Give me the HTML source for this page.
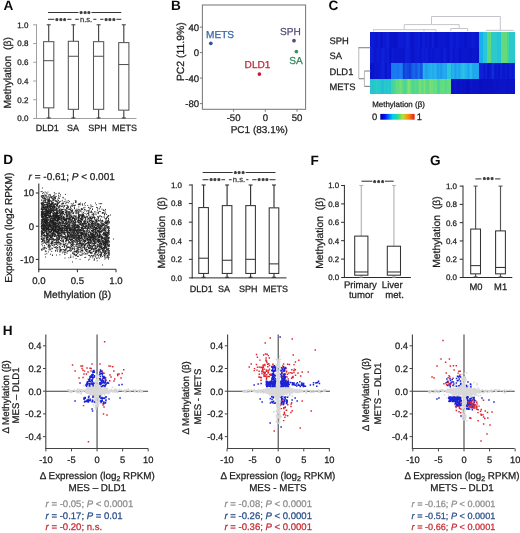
<!DOCTYPE html>
<html><head><meta charset="utf-8"><title>Figure</title>
<style>html,body{margin:0;padding:0;background:#fff;overflow:hidden;} svg{display:block;} text{font-family:"Liberation Sans", Arial, sans-serif;text-rendering:geometricPrecision;}</style>
</head><body>
<svg width="520" height="533" viewBox="0 0 520 533">
<rect width="520" height="533" fill="#fff"/>
<text x="3.60" y="9.60" font-size="13.6" fill="#0a0a0a" font-weight="bold">A</text>
<line x1="36.50" y1="24.20" x2="36.50" y2="119.00" stroke="#a0a0a0" stroke-width="1"/>
<line x1="36.00" y1="118.50" x2="136.50" y2="118.50" stroke="#a0a0a0" stroke-width="1"/>
<line x1="33.20" y1="118.50" x2="36.50" y2="118.50" stroke="#a0a0a0" stroke-width="1"/>
<text x="28.40" y="121.34" font-size="8.0" text-anchor="end" fill="#1c1c1c" stroke="#1c1c1c" stroke-width="0.25">0.0</text>
<line x1="33.20" y1="99.76" x2="36.50" y2="99.76" stroke="#a0a0a0" stroke-width="1"/>
<text x="28.40" y="102.60" font-size="8.0" text-anchor="end" fill="#1c1c1c" stroke="#1c1c1c" stroke-width="0.25">0.2</text>
<line x1="33.20" y1="81.02" x2="36.50" y2="81.02" stroke="#a0a0a0" stroke-width="1"/>
<text x="28.40" y="83.86" font-size="8.0" text-anchor="end" fill="#1c1c1c" stroke="#1c1c1c" stroke-width="0.25">0.4</text>
<line x1="33.20" y1="62.28" x2="36.50" y2="62.28" stroke="#a0a0a0" stroke-width="1"/>
<text x="28.40" y="65.12" font-size="8.0" text-anchor="end" fill="#1c1c1c" stroke="#1c1c1c" stroke-width="0.25">0.6</text>
<line x1="33.20" y1="43.54" x2="36.50" y2="43.54" stroke="#a0a0a0" stroke-width="1"/>
<text x="28.40" y="46.38" font-size="8.0" text-anchor="end" fill="#1c1c1c" stroke="#1c1c1c" stroke-width="0.25">0.8</text>
<line x1="33.20" y1="24.80" x2="36.50" y2="24.80" stroke="#a0a0a0" stroke-width="1"/>
<text x="28.40" y="27.64" font-size="8.0" text-anchor="end" fill="#1c1c1c" stroke="#1c1c1c" stroke-width="0.25">1.0</text>
<line x1="48.70" y1="24.80" x2="48.70" y2="41.67" stroke="#444" stroke-width="1.15"/>
<line x1="48.70" y1="107.82" x2="48.70" y2="118.50" stroke="#444" stroke-width="1.15"/>
<line x1="46.70" y1="24.80" x2="50.70" y2="24.80" stroke="#444" stroke-width="1.1"/>
<line x1="46.70" y1="117.90" x2="50.70" y2="117.90" stroke="#444" stroke-width="1.1"/>
<rect x="43.60" y="41.67" width="10.20" height="66.15" fill="#fff" stroke="#555" stroke-width="1.05"/>
<line x1="43.60" y1="60.69" x2="53.80" y2="60.69" stroke="#555" stroke-width="1.05"/>
<line x1="73.40" y1="24.80" x2="73.40" y2="41.29" stroke="#444" stroke-width="1.15"/>
<line x1="73.40" y1="109.32" x2="73.40" y2="118.50" stroke="#444" stroke-width="1.15"/>
<line x1="71.40" y1="24.80" x2="75.40" y2="24.80" stroke="#444" stroke-width="1.1"/>
<line x1="71.40" y1="117.90" x2="75.40" y2="117.90" stroke="#444" stroke-width="1.1"/>
<rect x="68.30" y="41.29" width="10.20" height="68.03" fill="#fff" stroke="#555" stroke-width="1.05"/>
<line x1="68.30" y1="56.28" x2="78.50" y2="56.28" stroke="#555" stroke-width="1.05"/>
<line x1="98.60" y1="24.80" x2="98.60" y2="41.67" stroke="#444" stroke-width="1.15"/>
<line x1="98.60" y1="109.32" x2="98.60" y2="118.50" stroke="#444" stroke-width="1.15"/>
<line x1="96.60" y1="24.80" x2="100.60" y2="24.80" stroke="#444" stroke-width="1.1"/>
<line x1="96.60" y1="117.90" x2="100.60" y2="117.90" stroke="#444" stroke-width="1.1"/>
<rect x="93.50" y="41.67" width="10.20" height="67.65" fill="#fff" stroke="#555" stroke-width="1.05"/>
<line x1="93.50" y1="56.28" x2="103.70" y2="56.28" stroke="#555" stroke-width="1.05"/>
<line x1="123.80" y1="24.80" x2="123.80" y2="42.60" stroke="#444" stroke-width="1.15"/>
<line x1="123.80" y1="110.16" x2="123.80" y2="118.50" stroke="#444" stroke-width="1.15"/>
<line x1="121.80" y1="24.80" x2="125.80" y2="24.80" stroke="#444" stroke-width="1.1"/>
<line x1="121.80" y1="117.90" x2="125.80" y2="117.90" stroke="#444" stroke-width="1.1"/>
<rect x="118.70" y="42.60" width="10.20" height="67.56" fill="#fff" stroke="#555" stroke-width="1.05"/>
<line x1="118.70" y1="64.53" x2="128.90" y2="64.53" stroke="#555" stroke-width="1.05"/>
<text x="47.30" y="131.30" font-size="9.0" text-anchor="middle" fill="#1c1c1c" stroke="#1c1c1c" stroke-width="0.25">DLD1</text>
<text x="72.90" y="131.30" font-size="9.0" text-anchor="middle" fill="#1c1c1c" stroke="#1c1c1c" stroke-width="0.25">SA</text>
<text x="97.40" y="131.30" font-size="9.0" text-anchor="middle" fill="#1c1c1c" stroke="#1c1c1c" stroke-width="0.25">SPH</text>
<text x="124.60" y="131.30" font-size="9.0" text-anchor="middle" fill="#1c1c1c" stroke="#1c1c1c" stroke-width="0.25">METS</text>
<text x="11.00" y="72.80" font-size="10.35" text-anchor="middle" fill="#1c1c1c" stroke="#1c1c1c" stroke-width="0.25" transform="rotate(-90 11.00 72.80)">Methylation&#160;&#160;(β)</text>
<line x1="48.00" y1="12.50" x2="78.50" y2="12.50" stroke="#333" stroke-width="1.05"/>
<line x1="91.50" y1="12.50" x2="121.30" y2="12.50" stroke="#333" stroke-width="1.05"/>
<text x="85.60" y="15.85" font-size="7.0" text-anchor="middle" fill="#333" font-weight="bold" letter-spacing="1.2" stroke="#333" stroke-width="0.5">***</text>
<line x1="48.00" y1="19.30" x2="54.30" y2="19.30" stroke="#333" stroke-width="1.05"/>
<line x1="67.30" y1="19.30" x2="71.40" y2="19.30" stroke="#333" stroke-width="1.05"/>
<text x="61.40" y="22.65" font-size="7.0" text-anchor="middle" fill="#333" font-weight="bold" letter-spacing="1.2" stroke="#333" stroke-width="0.5">***</text>
<line x1="75.20" y1="19.30" x2="78.80" y2="19.30" stroke="#333" stroke-width="1.05"/>
<line x1="93.40" y1="19.30" x2="96.40" y2="19.30" stroke="#333" stroke-width="1.05"/>
<text x="86.10" y="21.80" font-size="7.6" text-anchor="middle" fill="#333" stroke="#333" stroke-width="0.25">n.s.</text>
<line x1="100.20" y1="19.30" x2="103.45" y2="19.30" stroke="#333" stroke-width="1.05"/>
<line x1="116.45" y1="19.30" x2="121.30" y2="19.30" stroke="#333" stroke-width="1.05"/>
<text x="110.55" y="22.65" font-size="7.0" text-anchor="middle" fill="#333" font-weight="bold" letter-spacing="1.2" stroke="#333" stroke-width="0.5">***</text>
<text x="171.00" y="9.90" font-size="13.6" fill="#0a0a0a" font-weight="bold">B</text>
<rect x="202.40" y="5.00" width="103.20" height="104.30" fill="none" stroke="#7a7a7a" stroke-width="1.05"/>
<line x1="199.90" y1="27.10" x2="202.40" y2="27.10" stroke="#7a7a7a" stroke-width="1"/>
<text x="199.20" y="30.50" font-size="9.6" text-anchor="end" fill="#1c1c1c" stroke="#1c1c1c" stroke-width="0.25">40</text>
<line x1="199.90" y1="52.60" x2="202.40" y2="52.60" stroke="#7a7a7a" stroke-width="1"/>
<text x="199.20" y="56.00" font-size="9.6" text-anchor="end" fill="#1c1c1c" stroke="#1c1c1c" stroke-width="0.25">0</text>
<line x1="199.90" y1="78.10" x2="202.40" y2="78.10" stroke="#7a7a7a" stroke-width="1"/>
<text x="199.20" y="81.50" font-size="9.6" text-anchor="end" fill="#1c1c1c" stroke="#1c1c1c" stroke-width="0.25">-40</text>
<line x1="199.90" y1="103.60" x2="202.40" y2="103.60" stroke="#7a7a7a" stroke-width="1"/>
<text x="199.20" y="107.00" font-size="9.6" text-anchor="end" fill="#1c1c1c" stroke="#1c1c1c" stroke-width="0.25">-80</text>
<line x1="233.60" y1="109.20" x2="233.60" y2="111.70" stroke="#7a7a7a" stroke-width="1"/>
<text x="233.60" y="120.70" font-size="9.6" text-anchor="middle" fill="#1c1c1c" stroke="#1c1c1c" stroke-width="0.25">-50</text>
<line x1="265.30" y1="109.20" x2="265.30" y2="111.70" stroke="#7a7a7a" stroke-width="1"/>
<text x="265.30" y="120.70" font-size="9.6" text-anchor="middle" fill="#1c1c1c" stroke="#1c1c1c" stroke-width="0.25">0</text>
<line x1="297.00" y1="109.20" x2="297.00" y2="111.70" stroke="#7a7a7a" stroke-width="1"/>
<text x="297.00" y="120.70" font-size="9.6" text-anchor="middle" fill="#1c1c1c" stroke="#1c1c1c" stroke-width="0.25">50</text>
<text x="259.30" y="132.70" font-size="10.0" text-anchor="middle" fill="#1c1c1c" stroke="#1c1c1c" stroke-width="0.25">PC1 (83.1%)</text>
<text x="183.60" y="51.70" font-size="10.4" text-anchor="middle" fill="#1c1c1c" stroke="#1c1c1c" stroke-width="0.25" transform="rotate(-90 183.60 51.70)">PC2 (11.9%)</text>
<circle cx="210.8" cy="43.3" r="1.85" fill="#2d5898"/>
<circle cx="294.0" cy="40.7" r="1.85" fill="#5c4580"/>
<circle cx="296.4" cy="51.6" r="1.85" fill="#3a9458"/>
<circle cx="259.4" cy="74.1" r="1.85" fill="#d01430"/>
<text x="206.00" y="37.80" font-size="10.1" fill="#3866a6" stroke="#3866a6" stroke-width="0.25">METS</text>
<text x="280.00" y="35.30" font-size="10.1" fill="#574c78" stroke="#574c78" stroke-width="0.25">SPH</text>
<text x="289.20" y="63.80" font-size="10.1" fill="#2f8656" stroke="#2f8656" stroke-width="0.25">SA</text>
<text x="244.60" y="68.10" font-size="10.1" fill="#bc2838" stroke="#bc2838" stroke-width="0.25">DLD1</text>
<text x="328.60" y="9.70" font-size="13.6" fill="#0a0a0a" font-weight="bold">C</text>
<g shape-rendering="crispEdges"><rect x="370.4" y="31.90" width="1.3" height="15.95" fill="#0b18cf"/><rect x="371.4" y="31.90" width="1.3" height="15.95" fill="#0c1bd3"/><rect x="372.4" y="31.90" width="1.3" height="15.95" fill="#0d1dd5"/><rect x="373.4" y="31.90" width="1.3" height="15.95" fill="#0c1ad2"/><rect x="374.4" y="31.90" width="1.3" height="15.95" fill="#0b19d0"/><rect x="375.4" y="31.90" width="1.3" height="15.95" fill="#0b18cf"/><rect x="376.4" y="31.90" width="1.3" height="15.95" fill="#0a16cc"/><rect x="377.4" y="31.90" width="1.3" height="15.95" fill="#0b18cf"/><rect x="378.4" y="31.90" width="1.3" height="15.95" fill="#0c1bd3"/><rect x="379.4" y="31.90" width="1.3" height="15.95" fill="#0c1ad2"/><rect x="380.4" y="31.90" width="1.3" height="15.95" fill="#0a15cb"/><rect x="381.4" y="31.90" width="1.3" height="15.95" fill="#0913c8"/><rect x="382.4" y="31.90" width="1.3" height="15.95" fill="#0a15cb"/><rect x="383.4" y="31.90" width="1.3" height="15.95" fill="#0c1ad2"/><rect x="384.4" y="31.90" width="1.3" height="15.95" fill="#0c1ad1"/><rect x="385.4" y="31.90" width="1.3" height="15.95" fill="#0b17ce"/><rect x="386.4" y="31.90" width="1.3" height="15.95" fill="#0d1dd6"/><rect x="387.4" y="31.90" width="1.3" height="15.95" fill="#0f21da"/><rect x="388.4" y="31.90" width="1.3" height="15.95" fill="#0d1dd5"/><rect x="389.4" y="31.90" width="1.3" height="15.95" fill="#0b19d0"/><rect x="390.4" y="31.90" width="1.3" height="15.95" fill="#0914c9"/><rect x="391.4" y="31.90" width="1.3" height="15.95" fill="#0813c7"/><rect x="392.4" y="31.90" width="1.3" height="15.95" fill="#0915ca"/><rect x="393.4" y="31.90" width="1.3" height="15.95" fill="#0913c8"/><rect x="394.4" y="31.90" width="2.3" height="15.95" fill="#0813c7"/><rect x="396.4" y="31.90" width="1.3" height="15.95" fill="#0913c8"/><rect x="397.4" y="31.90" width="1.3" height="15.95" fill="#0a16cc"/><rect x="398.4" y="31.90" width="1.3" height="15.95" fill="#0c19d1"/><rect x="399.4" y="31.90" width="1.3" height="15.95" fill="#0d1cd4"/><rect x="400.4" y="31.90" width="1.3" height="15.95" fill="#0c1bd3"/><rect x="401.4" y="31.90" width="3.3" height="15.95" fill="#0c1ad2"/><rect x="404.4" y="31.90" width="1.3" height="15.95" fill="#0b18cf"/><rect x="405.4" y="31.90" width="1.3" height="15.95" fill="#0b19d0"/><rect x="406.4" y="31.90" width="1.3" height="15.95" fill="#0e1fd8"/><rect x="407.4" y="31.90" width="1.3" height="15.95" fill="#0f22dc"/><rect x="408.4" y="31.90" width="1.3" height="15.95" fill="#0e20d9"/><rect x="409.4" y="31.90" width="1.3" height="15.95" fill="#0c1bd3"/><rect x="410.4" y="31.90" width="1.3" height="15.95" fill="#0a17cd"/><rect x="411.4" y="31.90" width="1.3" height="15.95" fill="#0914ca"/><rect x="412.4" y="31.90" width="1.3" height="15.95" fill="#0914c8"/><rect x="413.4" y="31.90" width="1.3" height="15.95" fill="#0915ca"/><rect x="414.4" y="31.90" width="1.3" height="15.95" fill="#0b18d0"/><rect x="415.4" y="31.90" width="1.3" height="15.95" fill="#0c1ad2"/><rect x="416.4" y="31.90" width="2.3" height="15.95" fill="#0c1bd3"/><rect x="418.4" y="31.90" width="1.3" height="15.95" fill="#0e1ed7"/><rect x="419.4" y="31.90" width="1.3" height="15.95" fill="#0d1cd4"/><rect x="420.4" y="31.90" width="1.3" height="15.95" fill="#0914ca"/><rect x="421.4" y="31.90" width="1.3" height="15.95" fill="#0a16cb"/><rect x="422.4" y="31.90" width="1.3" height="15.95" fill="#0c1bd3"/><rect x="423.4" y="31.90" width="2.3" height="15.95" fill="#0d1dd5"/><rect x="425.4" y="31.90" width="1.3" height="15.95" fill="#0b18cf"/><rect x="426.4" y="31.90" width="1.3" height="15.95" fill="#0915ca"/><rect x="427.4" y="31.90" width="1.3" height="15.95" fill="#0b19d0"/><rect x="428.4" y="31.90" width="1.3" height="15.95" fill="#0c1bd3"/><rect x="429.4" y="31.90" width="1.3" height="15.95" fill="#0a16cc"/><rect x="430.4" y="31.90" width="1.3" height="15.95" fill="#0913c8"/><rect x="431.4" y="31.90" width="1.3" height="15.95" fill="#0b17ce"/><rect x="432.4" y="31.90" width="1.3" height="15.95" fill="#0d1ed6"/><rect x="433.4" y="31.90" width="1.3" height="15.95" fill="#0d1bd4"/><rect x="434.4" y="31.90" width="1.3" height="15.95" fill="#0a15cb"/><rect x="435.4" y="31.90" width="1.3" height="15.95" fill="#0813c7"/><rect x="436.4" y="31.90" width="1.3" height="15.95" fill="#0812c6"/><rect x="437.4" y="31.90" width="1.3" height="15.95" fill="#0914c9"/><rect x="438.4" y="31.90" width="1.3" height="15.95" fill="#0b18cf"/><rect x="439.4" y="31.90" width="2.3" height="15.95" fill="#0b17ce"/><rect x="441.4" y="31.90" width="2.3" height="15.95" fill="#0a17cd"/><rect x="443.4" y="31.90" width="1.3" height="15.95" fill="#0b18ce"/><rect x="444.4" y="31.90" width="1.3" height="15.95" fill="#0a17cd"/><rect x="445.4" y="31.90" width="1.3" height="15.95" fill="#0a16cd"/><rect x="446.4" y="31.90" width="1.3" height="15.95" fill="#0a15cb"/><rect x="447.4" y="31.90" width="2.3" height="15.95" fill="#0915ca"/><rect x="449.4" y="31.90" width="1.3" height="15.95" fill="#0b17ce"/><rect x="450.4" y="31.90" width="1.3" height="15.95" fill="#0d1ed6"/><rect x="451.4" y="31.90" width="1.3" height="15.95" fill="#0d1dd5"/><rect x="452.4" y="31.90" width="2.3" height="15.95" fill="#0c1ad2"/><rect x="454.4" y="31.90" width="1.3" height="15.95" fill="#0b17ce"/><rect x="455.4" y="31.90" width="1.3" height="15.95" fill="#0b18cf"/><rect x="456.4" y="31.90" width="1.3" height="15.95" fill="#0d1cd5"/><rect x="457.4" y="31.90" width="1.3" height="15.95" fill="#0c1ad1"/><rect x="458.4" y="31.90" width="1.3" height="15.95" fill="#0b18cf"/><rect x="459.4" y="31.90" width="1.3" height="15.95" fill="#0c1ad2"/><rect x="460.4" y="31.90" width="1.3" height="15.95" fill="#0b17ce"/><rect x="461.4" y="31.90" width="1.3" height="15.95" fill="#0a16cc"/><rect x="462.4" y="31.90" width="1.3" height="15.95" fill="#0c19d1"/><rect x="463.4" y="31.90" width="1.3" height="15.95" fill="#0b17ce"/><rect x="464.4" y="31.90" width="1.3" height="15.95" fill="#0914c9"/><rect x="465.4" y="31.90" width="1.3" height="15.95" fill="#0812c6"/><rect x="466.4" y="31.90" width="1.3" height="15.95" fill="#0913c8"/><rect x="467.4" y="31.90" width="1.3" height="15.95" fill="#0a16cc"/><rect x="468.4" y="31.90" width="1.3" height="15.95" fill="#0b17ce"/><rect x="469.4" y="31.90" width="1.3" height="15.95" fill="#0b18cf"/><rect x="470.4" y="31.90" width="1.3" height="15.95" fill="#0b18ce"/><rect x="471.4" y="31.90" width="1.3" height="15.95" fill="#0c1ad1"/><rect x="472.4" y="31.90" width="1.3" height="15.95" fill="#0d1dd5"/><rect x="473.4" y="31.90" width="3.3" height="15.95" fill="#0c1bd3"/><rect x="476.4" y="31.90" width="2.3" height="15.95" fill="#0a16cc"/><rect x="478.4" y="31.90" width="1.3" height="15.95" fill="#0d1cd5"/><rect x="479.4" y="31.90" width="4.3" height="15.95" fill="#18b0ea"/><rect x="483.4" y="31.90" width="1.3" height="15.95" fill="#27c7d9"/><rect x="484.4" y="31.90" width="1.3" height="15.95" fill="#27c6d9"/><rect x="485.4" y="31.90" width="2.3" height="15.95" fill="#27c7d9"/><rect x="487.4" y="31.90" width="1.3" height="15.95" fill="#62d77e"/><rect x="488.4" y="31.90" width="1.3" height="15.95" fill="#64d87b"/><rect x="489.4" y="31.90" width="1.3" height="15.95" fill="#66d878"/><rect x="490.4" y="31.90" width="1.3" height="15.95" fill="#65d87a"/><rect x="491.4" y="31.90" width="6.3" height="15.95" fill="#2ccac8"/><rect x="497.4" y="31.90" width="2.3" height="15.95" fill="#24c4da"/><rect x="499.4" y="31.90" width="1.3" height="15.95" fill="#25c4d9"/><rect x="500.4" y="31.90" width="1.3" height="15.95" fill="#24c4da"/><rect x="501.4" y="31.90" width="1.3" height="15.95" fill="#67da78"/><rect x="502.4" y="31.90" width="1.3" height="15.95" fill="#65d97b"/><rect x="503.4" y="31.90" width="1.3" height="15.95" fill="#63d97d"/><rect x="504.4" y="31.90" width="1.3" height="15.95" fill="#64d97c"/><rect x="505.4" y="31.90" width="1.3" height="15.95" fill="#65d97b"/><rect x="506.4" y="31.90" width="1.3" height="15.95" fill="#64d97c"/><rect x="507.4" y="31.90" width="1.3" height="15.95" fill="#40d4a9"/><rect x="508.4" y="31.90" width="1.3" height="15.95" fill="#40d4a8"/><rect x="509.4" y="31.90" width="5.9" height="15.95" fill="#2ac8cc"/><rect x="370.4" y="47.60" width="2.3" height="15.85" fill="#0e20d9"/><rect x="372.4" y="47.60" width="1.3" height="15.85" fill="#0e1ed7"/><rect x="373.4" y="47.60" width="1.3" height="15.85" fill="#0c1bd3"/><rect x="374.4" y="47.60" width="1.3" height="15.85" fill="#0b18cf"/><rect x="375.4" y="47.60" width="1.3" height="15.85" fill="#0b17ce"/><rect x="376.4" y="47.60" width="1.3" height="15.85" fill="#0c1ad2"/><rect x="377.4" y="47.60" width="1.3" height="15.85" fill="#0d1dd6"/><rect x="378.4" y="47.60" width="1.3" height="15.85" fill="#0d1cd5"/><rect x="379.4" y="47.60" width="1.3" height="15.85" fill="#0c19d1"/><rect x="380.4" y="47.60" width="1.3" height="15.85" fill="#0b18cf"/><rect x="381.4" y="47.60" width="1.3" height="15.85" fill="#0d1dd6"/><rect x="382.4" y="47.60" width="1.3" height="15.85" fill="#0f22dc"/><rect x="383.4" y="47.60" width="1.3" height="15.85" fill="#0e20d9"/><rect x="384.4" y="47.60" width="1.3" height="15.85" fill="#0d1cd5"/><rect x="385.4" y="47.60" width="1.3" height="15.85" fill="#0c1ad2"/><rect x="386.4" y="47.60" width="1.3" height="15.85" fill="#0c1ad1"/><rect x="387.4" y="47.60" width="2.3" height="15.85" fill="#0d1dd6"/><rect x="389.4" y="47.60" width="1.3" height="15.85" fill="#0a16cd"/><rect x="390.4" y="47.60" width="1.3" height="15.85" fill="#0913c8"/><rect x="391.4" y="47.60" width="1.3" height="15.85" fill="#0a16cc"/><rect x="392.4" y="47.60" width="1.3" height="15.85" fill="#0c1ad1"/><rect x="393.4" y="47.60" width="1.3" height="15.85" fill="#0c1bd3"/><rect x="394.4" y="47.60" width="1.3" height="15.85" fill="#0b17ce"/><rect x="395.4" y="47.60" width="1.3" height="15.85" fill="#0a15cb"/><rect x="396.4" y="47.60" width="2.3" height="15.85" fill="#0a17cd"/><rect x="398.4" y="47.60" width="1.3" height="15.85" fill="#0b17ce"/><rect x="399.4" y="47.60" width="1.3" height="15.85" fill="#0a16cc"/><rect x="400.4" y="47.60" width="1.3" height="15.85" fill="#0a16cd"/><rect x="401.4" y="47.60" width="1.3" height="15.85" fill="#0b18d0"/><rect x="402.4" y="47.60" width="1.3" height="15.85" fill="#0915ca"/><rect x="403.4" y="47.60" width="1.3" height="15.85" fill="#0913c8"/><rect x="404.4" y="47.60" width="1.3" height="15.85" fill="#0b18cf"/><rect x="405.4" y="47.60" width="1.3" height="15.85" fill="#0d1cd5"/><rect x="406.4" y="47.60" width="2.3" height="15.85" fill="#0e1ed7"/><rect x="408.4" y="47.60" width="1.3" height="15.85" fill="#0d1ed6"/><rect x="409.4" y="47.60" width="1.3" height="15.85" fill="#0d1dd5"/><rect x="410.4" y="47.60" width="1.3" height="15.85" fill="#0c1ad2"/><rect x="411.4" y="47.60" width="1.3" height="15.85" fill="#0a15cb"/><rect x="412.4" y="47.60" width="1.3" height="15.85" fill="#0914c9"/><rect x="413.4" y="47.60" width="1.3" height="15.85" fill="#0a16cc"/><rect x="414.4" y="47.60" width="1.3" height="15.85" fill="#0b17ce"/><rect x="415.4" y="47.60" width="1.3" height="15.85" fill="#0c1ad2"/><rect x="416.4" y="47.60" width="2.3" height="15.85" fill="#0c1bd3"/><rect x="418.4" y="47.60" width="1.3" height="15.85" fill="#0d1cd4"/><rect x="419.4" y="47.60" width="1.3" height="15.85" fill="#0c19d1"/><rect x="420.4" y="47.60" width="1.3" height="15.85" fill="#0a16cc"/><rect x="421.4" y="47.60" width="1.3" height="15.85" fill="#0b18cf"/><rect x="422.4" y="47.60" width="1.3" height="15.85" fill="#0d1dd6"/><rect x="423.4" y="47.60" width="1.3" height="15.85" fill="#0d1cd5"/><rect x="424.4" y="47.60" width="1.3" height="15.85" fill="#0b19d0"/><rect x="425.4" y="47.60" width="1.3" height="15.85" fill="#0d1dd5"/><rect x="426.4" y="47.60" width="1.3" height="15.85" fill="#0e1fd8"/><rect x="427.4" y="47.60" width="1.3" height="15.85" fill="#0c1bd3"/><rect x="428.4" y="47.60" width="1.3" height="15.85" fill="#0b18ce"/><rect x="429.4" y="47.60" width="1.3" height="15.85" fill="#0a16cc"/><rect x="430.4" y="47.60" width="1.3" height="15.85" fill="#0b17ce"/><rect x="431.4" y="47.60" width="1.3" height="15.85" fill="#0b19d0"/><rect x="432.4" y="47.60" width="1.3" height="15.85" fill="#0a17cd"/><rect x="433.4" y="47.60" width="1.3" height="15.85" fill="#0a16cd"/><rect x="434.4" y="47.60" width="2.3" height="15.85" fill="#0c1ad2"/><rect x="436.4" y="47.60" width="1.3" height="15.85" fill="#0b19d0"/><rect x="437.4" y="47.60" width="1.3" height="15.85" fill="#0c1bd3"/><rect x="438.4" y="47.60" width="1.3" height="15.85" fill="#0c1ad2"/><rect x="439.4" y="47.60" width="1.3" height="15.85" fill="#0c19d1"/><rect x="440.4" y="47.60" width="1.3" height="15.85" fill="#0b18cf"/><rect x="441.4" y="47.60" width="1.3" height="15.85" fill="#0a15cb"/><rect x="442.4" y="47.60" width="1.3" height="15.85" fill="#0a16cc"/><rect x="443.4" y="47.60" width="1.3" height="15.85" fill="#0c1ad1"/><rect x="444.4" y="47.60" width="1.3" height="15.85" fill="#0e1fd8"/><rect x="445.4" y="47.60" width="1.3" height="15.85" fill="#0d1ed6"/><rect x="446.4" y="47.60" width="1.3" height="15.85" fill="#0b18cf"/><rect x="447.4" y="47.60" width="1.3" height="15.85" fill="#0a15cb"/><rect x="448.4" y="47.60" width="1.3" height="15.85" fill="#0914ca"/><rect x="449.4" y="47.60" width="1.3" height="15.85" fill="#0b17ce"/><rect x="450.4" y="47.60" width="1.3" height="15.85" fill="#0d1dd6"/><rect x="451.4" y="47.60" width="1.3" height="15.85" fill="#0e1ed7"/><rect x="452.4" y="47.60" width="1.3" height="15.85" fill="#0b19d0"/><rect x="453.4" y="47.60" width="1.3" height="15.85" fill="#0915ca"/><rect x="454.4" y="47.60" width="1.3" height="15.85" fill="#0a15cb"/><rect x="455.4" y="47.60" width="1.3" height="15.85" fill="#0c1ad2"/><rect x="456.4" y="47.60" width="1.3" height="15.85" fill="#0c1bd3"/><rect x="457.4" y="47.60" width="1.3" height="15.85" fill="#0b18cf"/><rect x="458.4" y="47.60" width="1.3" height="15.85" fill="#0a17cd"/><rect x="459.4" y="47.60" width="1.3" height="15.85" fill="#0914c9"/><rect x="460.4" y="47.60" width="1.3" height="15.85" fill="#0812c6"/><rect x="461.4" y="47.60" width="1.3" height="15.85" fill="#0a15cb"/><rect x="462.4" y="47.60" width="1.3" height="15.85" fill="#0b18cf"/><rect x="463.4" y="47.60" width="3.3" height="15.85" fill="#0a17cd"/><rect x="466.4" y="47.60" width="1.3" height="15.85" fill="#0a16cc"/><rect x="467.4" y="47.60" width="1.3" height="15.85" fill="#0a17cd"/><rect x="468.4" y="47.60" width="1.3" height="15.85" fill="#0a16cc"/><rect x="469.4" y="47.60" width="1.3" height="15.85" fill="#0a15cb"/><rect x="470.4" y="47.60" width="1.3" height="15.85" fill="#0915ca"/><rect x="471.4" y="47.60" width="1.3" height="15.85" fill="#0914ca"/><rect x="472.4" y="47.60" width="1.3" height="15.85" fill="#0a17cd"/><rect x="473.4" y="47.60" width="1.3" height="15.85" fill="#0b17ce"/><rect x="474.4" y="47.60" width="1.3" height="15.85" fill="#0a16cd"/><rect x="475.4" y="47.60" width="1.3" height="15.85" fill="#0a17cd"/><rect x="476.4" y="47.60" width="1.3" height="15.85" fill="#0a16cd"/><rect x="477.4" y="47.60" width="1.3" height="15.85" fill="#0914c9"/><rect x="478.4" y="47.60" width="1.3" height="15.85" fill="#0915ca"/><rect x="479.4" y="47.60" width="4.3" height="15.85" fill="#18b0ea"/><rect x="483.4" y="47.60" width="1.3" height="15.85" fill="#27c7d9"/><rect x="484.4" y="47.60" width="3.3" height="15.85" fill="#27c6d9"/><rect x="487.4" y="47.60" width="1.3" height="15.85" fill="#61d780"/><rect x="488.4" y="47.60" width="1.3" height="15.85" fill="#61d77f"/><rect x="489.4" y="47.60" width="2.3" height="15.85" fill="#64d77c"/><rect x="491.4" y="47.60" width="6.3" height="15.85" fill="#2ccac8"/><rect x="497.4" y="47.60" width="1.3" height="15.85" fill="#25c4d9"/><rect x="498.4" y="47.60" width="2.3" height="15.85" fill="#24c4da"/><rect x="500.4" y="47.60" width="1.3" height="15.85" fill="#25c4d9"/><rect x="501.4" y="47.60" width="1.3" height="15.85" fill="#64d97c"/><rect x="502.4" y="47.60" width="1.3" height="15.85" fill="#65d97b"/><rect x="503.4" y="47.60" width="1.3" height="15.85" fill="#66da79"/><rect x="504.4" y="47.60" width="1.3" height="15.85" fill="#66d979"/><rect x="505.4" y="47.60" width="1.3" height="15.85" fill="#66d97a"/><rect x="506.4" y="47.60" width="1.3" height="15.85" fill="#67da77"/><rect x="507.4" y="47.60" width="1.3" height="15.85" fill="#40d4a9"/><rect x="508.4" y="47.60" width="1.3" height="15.85" fill="#3fd3aa"/><rect x="509.4" y="47.60" width="2.3" height="15.85" fill="#2bc8cc"/><rect x="511.4" y="47.60" width="3.9" height="15.85" fill="#2ac8cc"/><rect x="370.4" y="63.20" width="1.3" height="15.55" fill="#0913c8"/><rect x="371.4" y="63.20" width="1.3" height="15.55" fill="#0914c9"/><rect x="372.4" y="63.20" width="1.3" height="15.55" fill="#0a16cb"/><rect x="373.4" y="63.20" width="1.3" height="15.55" fill="#0a15cb"/><rect x="374.4" y="63.20" width="1.3" height="15.55" fill="#0b17ce"/><rect x="375.4" y="63.20" width="1.3" height="15.55" fill="#0c1ad2"/><rect x="376.4" y="63.20" width="1.3" height="15.55" fill="#0b18cf"/><rect x="377.4" y="63.20" width="1.3" height="15.55" fill="#0a17cd"/><rect x="378.4" y="63.20" width="1.3" height="15.55" fill="#0b18cf"/><rect x="379.4" y="63.20" width="1.3" height="15.55" fill="#0c1ad2"/><rect x="380.4" y="63.20" width="1.3" height="15.55" fill="#0d1bd4"/><rect x="381.4" y="63.20" width="1.3" height="15.55" fill="#0d1dd6"/><rect x="382.4" y="63.20" width="1.3" height="15.55" fill="#0f21da"/><rect x="383.4" y="63.20" width="1.3" height="15.55" fill="#0f22db"/><rect x="384.4" y="63.20" width="1.3" height="15.55" fill="#0d1cd5"/><rect x="385.4" y="63.20" width="2.3" height="15.55" fill="#0a16cc"/><rect x="387.4" y="63.20" width="1.3" height="15.55" fill="#0d1cd5"/><rect x="388.4" y="63.20" width="1.3" height="15.55" fill="#0e1fd7"/><rect x="389.4" y="63.20" width="1.3" height="15.55" fill="#0c1bd3"/><rect x="390.4" y="63.20" width="1.3" height="15.55" fill="#0b17ce"/><rect x="391.4" y="63.20" width="1.3" height="15.55" fill="#1976f0"/><rect x="392.4" y="63.20" width="1.3" height="15.55" fill="#1a79f0"/><rect x="393.4" y="63.20" width="2.3" height="15.55" fill="#1a7af0"/><rect x="395.4" y="63.20" width="1.3" height="15.55" fill="#1b7bf0"/><rect x="396.4" y="63.20" width="1.3" height="15.55" fill="#1a79f0"/><rect x="397.4" y="63.20" width="1.3" height="15.55" fill="#1975f0"/><rect x="398.4" y="63.20" width="1.3" height="15.55" fill="#1a76f0"/><rect x="399.4" y="63.20" width="1.3" height="15.55" fill="#1b7df0"/><rect x="400.4" y="63.20" width="1.3" height="15.55" fill="#1c80f0"/><rect x="401.4" y="63.20" width="1.3" height="15.55" fill="#1b7bf0"/><rect x="402.4" y="63.20" width="1.3" height="15.55" fill="#1973f0"/><rect x="403.4" y="63.20" width="1.3" height="15.55" fill="#0e3ad8"/><rect x="404.4" y="63.20" width="1.3" height="15.55" fill="#1044dc"/><rect x="405.4" y="63.20" width="2.3" height="15.55" fill="#1350e2"/><rect x="407.4" y="63.20" width="1.3" height="15.55" fill="#1149df"/><rect x="408.4" y="63.20" width="1.3" height="15.55" fill="#1148de"/><rect x="409.4" y="63.20" width="1.3" height="15.55" fill="#0f40da"/><rect x="410.4" y="63.20" width="1.3" height="15.55" fill="#1042dc"/><rect x="411.4" y="63.20" width="1.3" height="15.55" fill="#1454e3"/><rect x="412.4" y="63.20" width="1.3" height="15.55" fill="#155be6"/><rect x="413.4" y="63.20" width="1.3" height="15.55" fill="#1768e9"/><rect x="414.4" y="63.20" width="1.3" height="15.55" fill="#1662e7"/><rect x="415.4" y="63.20" width="1.3" height="15.55" fill="#155ce5"/><rect x="416.4" y="63.20" width="1.3" height="15.55" fill="#1457e4"/><rect x="417.4" y="63.20" width="1.3" height="15.55" fill="#165ee6"/><rect x="418.4" y="63.20" width="1.3" height="15.55" fill="#1971eb"/><rect x="419.4" y="63.20" width="1.3" height="15.55" fill="#186eea"/><rect x="420.4" y="63.20" width="1.3" height="15.55" fill="#1454e3"/><rect x="421.4" y="63.20" width="1.3" height="15.55" fill="#1455e3"/><rect x="422.4" y="63.20" width="1.3" height="15.55" fill="#186be9"/><rect x="423.4" y="63.20" width="1.3" height="15.55" fill="#25b1ec"/><rect x="424.4" y="63.20" width="1.3" height="15.55" fill="#23aced"/><rect x="425.4" y="63.20" width="1.3" height="15.55" fill="#20a1ef"/><rect x="426.4" y="63.20" width="1.3" height="15.55" fill="#1f9def"/><rect x="427.4" y="63.20" width="1.3" height="15.55" fill="#21a3ee"/><rect x="428.4" y="63.20" width="1.3" height="15.55" fill="#23aaee"/><rect x="429.4" y="63.20" width="1.3" height="15.55" fill="#22aaee"/><rect x="430.4" y="63.20" width="1.3" height="15.55" fill="#24afed"/><rect x="431.4" y="63.20" width="1.3" height="15.55" fill="#25b3ec"/><rect x="432.4" y="63.20" width="2.3" height="15.55" fill="#22a9ee"/><rect x="434.4" y="63.20" width="1.3" height="15.55" fill="#25b3ec"/><rect x="435.4" y="63.20" width="1.3" height="15.55" fill="#25b4ec"/><rect x="436.4" y="63.20" width="1.3" height="15.55" fill="#22a9ee"/><rect x="437.4" y="63.20" width="1.3" height="15.55" fill="#1f9cef"/><rect x="438.4" y="63.20" width="1.3" height="15.55" fill="#209fef"/><rect x="439.4" y="63.20" width="1.3" height="15.55" fill="#21a6ee"/><rect x="440.4" y="63.20" width="1.3" height="15.55" fill="#1e9aef"/><rect x="441.4" y="63.20" width="1.3" height="15.55" fill="#1d96f0"/><rect x="442.4" y="63.20" width="1.3" height="15.55" fill="#21a3ee"/><rect x="443.4" y="63.20" width="1.3" height="15.55" fill="#23aaee"/><rect x="444.4" y="63.20" width="1.3" height="15.55" fill="#22a9ee"/><rect x="445.4" y="63.20" width="1.3" height="15.55" fill="#22a8ee"/><rect x="446.4" y="63.20" width="1.3" height="15.55" fill="#21a6ee"/><rect x="447.4" y="63.20" width="4.3" height="15.55" fill="#2cc4e0"/><rect x="451.4" y="63.20" width="1.3" height="15.55" fill="#20a6ef"/><rect x="452.4" y="63.20" width="2.3" height="15.55" fill="#24b4ec"/><rect x="454.4" y="63.20" width="1.3" height="15.55" fill="#20a6ef"/><rect x="455.4" y="63.20" width="1.3" height="15.55" fill="#1e9fef"/><rect x="456.4" y="63.20" width="1.3" height="15.55" fill="#20a9ef"/><rect x="457.4" y="63.20" width="1.3" height="15.55" fill="#23b1ed"/><rect x="458.4" y="63.20" width="1.3" height="15.55" fill="#20a9ef"/><rect x="459.4" y="63.20" width="1.3" height="15.55" fill="#1fa5ef"/><rect x="460.4" y="63.20" width="1.3" height="15.55" fill="#22b0ee"/><rect x="461.4" y="63.20" width="1.3" height="15.55" fill="#25b8eb"/><rect x="462.4" y="63.20" width="1.3" height="15.55" fill="#28bee8"/><rect x="463.4" y="63.20" width="1.3" height="15.55" fill="#2ac2e6"/><rect x="464.4" y="63.20" width="1.3" height="15.55" fill="#28bce8"/><rect x="465.4" y="63.20" width="1.3" height="15.55" fill="#25b6eb"/><rect x="466.4" y="63.20" width="1.3" height="15.55" fill="#23b3ed"/><rect x="467.4" y="63.20" width="1.3" height="15.55" fill="#21abee"/><rect x="468.4" y="63.20" width="1.3" height="15.55" fill="#1fa5ef"/><rect x="469.4" y="63.20" width="1.3" height="15.55" fill="#22b0ee"/><rect x="470.4" y="63.20" width="1.3" height="15.55" fill="#27bce9"/><rect x="471.4" y="63.20" width="1.3" height="15.55" fill="#26baea"/><rect x="472.4" y="63.20" width="1.3" height="15.55" fill="#21abee"/><rect x="473.4" y="63.20" width="1.3" height="15.55" fill="#1fa5ef"/><rect x="474.4" y="63.20" width="2.3" height="15.55" fill="#20a7ef"/><rect x="476.4" y="63.20" width="1.3" height="15.55" fill="#20a8ef"/><rect x="477.4" y="63.20" width="1.3" height="15.55" fill="#1fa6ef"/><rect x="478.4" y="63.20" width="1.3" height="15.55" fill="#1fa5ef"/><rect x="479.4" y="63.20" width="1.3" height="15.55" fill="#0c1acf"/><rect x="480.4" y="63.20" width="1.3" height="15.55" fill="#0e1fd5"/><rect x="481.4" y="63.20" width="1.3" height="15.55" fill="#0e20d6"/><rect x="482.4" y="63.20" width="1.3" height="15.55" fill="#0e21d6"/><rect x="483.4" y="63.20" width="1.3" height="15.55" fill="#0c1ad0"/><rect x="484.4" y="63.20" width="1.3" height="15.55" fill="#0b17cc"/><rect x="485.4" y="63.20" width="1.3" height="15.55" fill="#0d1ed4"/><rect x="486.4" y="63.20" width="1.3" height="15.55" fill="#0e21d7"/><rect x="487.4" y="63.20" width="1.3" height="15.55" fill="#0b16cb"/><rect x="488.4" y="63.20" width="1.3" height="15.55" fill="#0a14c8"/><rect x="489.4" y="63.20" width="1.3" height="15.55" fill="#0b17cc"/><rect x="490.4" y="63.20" width="1.3" height="15.55" fill="#0c1bd0"/><rect x="491.4" y="63.20" width="1.3" height="15.55" fill="#0e1fd5"/><rect x="492.4" y="63.20" width="1.3" height="15.55" fill="#102cdb"/><rect x="493.4" y="63.20" width="1.3" height="15.55" fill="#102ada"/><rect x="494.4" y="63.20" width="1.3" height="15.55" fill="#0d1cd1"/><rect x="495.4" y="63.20" width="1.3" height="15.55" fill="#0b16cb"/><rect x="496.4" y="63.20" width="1.3" height="15.55" fill="#0c19ce"/><rect x="497.4" y="63.20" width="1.3" height="15.55" fill="#0c1bd0"/><rect x="498.4" y="63.20" width="2.3" height="15.55" fill="#0a15c9"/><rect x="500.4" y="63.20" width="1.3" height="15.55" fill="#0d1dd3"/><rect x="501.4" y="63.20" width="1.3" height="15.55" fill="#0e1fd4"/><rect x="502.4" y="63.20" width="1.3" height="15.55" fill="#0b18cc"/><rect x="503.4" y="63.20" width="1.3" height="15.55" fill="#0b17cb"/><rect x="504.4" y="63.20" width="1.3" height="15.55" fill="#0b17cc"/><rect x="505.4" y="63.20" width="2.3" height="15.55" fill="#0d1cd1"/><rect x="507.4" y="63.20" width="1.3" height="15.55" fill="#0b16ca"/><rect x="508.4" y="63.20" width="1.3" height="15.55" fill="#0b16cb"/><rect x="509.4" y="63.20" width="1.3" height="15.55" fill="#0d1cd1"/><rect x="510.4" y="63.20" width="1.3" height="15.55" fill="#0d1ed4"/><rect x="511.4" y="63.20" width="1.3" height="15.55" fill="#0d1dd3"/><rect x="512.4" y="63.20" width="1.3" height="15.55" fill="#0c19ce"/><rect x="513.4" y="63.20" width="1.3" height="15.55" fill="#0c1acf"/><rect x="514.4" y="63.20" width="0.9" height="15.55" fill="#112fdc"/><rect x="370.4" y="78.50" width="1.3" height="15.25" fill="#25c7cd"/><rect x="371.4" y="78.50" width="1.3" height="15.25" fill="#26c8cc"/><rect x="372.4" y="78.50" width="1.3" height="15.25" fill="#24c3d1"/><rect x="373.4" y="78.50" width="1.3" height="15.25" fill="#24c4d0"/><rect x="374.4" y="78.50" width="1.3" height="15.25" fill="#26c8cc"/><rect x="375.4" y="78.50" width="1.3" height="15.25" fill="#28cac9"/><rect x="376.4" y="78.50" width="2.3" height="15.25" fill="#2accc5"/><rect x="378.4" y="78.50" width="1.3" height="15.25" fill="#28cac9"/><rect x="379.4" y="78.50" width="1.3" height="15.25" fill="#27c9ca"/><rect x="380.4" y="78.50" width="1.3" height="15.25" fill="#26c8cb"/><rect x="381.4" y="78.50" width="1.3" height="15.25" fill="#23c2d2"/><rect x="382.4" y="78.50" width="1.3" height="15.25" fill="#21bdd7"/><rect x="383.4" y="78.50" width="1.3" height="15.25" fill="#22c1d3"/><rect x="384.4" y="78.50" width="1.3" height="15.25" fill="#27c9cb"/><rect x="385.4" y="78.50" width="1.3" height="15.25" fill="#27c9ca"/><rect x="386.4" y="78.50" width="1.3" height="15.25" fill="#24c4d0"/><rect x="387.4" y="78.50" width="1.3" height="15.25" fill="#25c7cd"/><rect x="388.4" y="78.50" width="1.3" height="15.25" fill="#29cbc6"/><rect x="389.4" y="78.50" width="1.3" height="15.25" fill="#26c8cb"/><rect x="390.4" y="78.50" width="1.3" height="15.25" fill="#22c1d3"/><rect x="391.4" y="78.50" width="1.3" height="15.25" fill="#44d49c"/><rect x="392.4" y="78.50" width="1.3" height="15.25" fill="#43d49d"/><rect x="393.4" y="78.50" width="1.3" height="15.25" fill="#46d59a"/><rect x="394.4" y="78.50" width="1.3" height="15.25" fill="#4bd695"/><rect x="395.4" y="78.50" width="1.3" height="15.25" fill="#54d98c"/><rect x="396.4" y="78.50" width="1.3" height="15.25" fill="#65db7f"/><rect x="397.4" y="78.50" width="1.3" height="15.25" fill="#64db80"/><rect x="398.4" y="78.50" width="1.3" height="15.25" fill="#61db83"/><rect x="399.4" y="78.50" width="1.3" height="15.25" fill="#6adc7c"/><rect x="400.4" y="78.50" width="1.3" height="15.25" fill="#79dd74"/><rect x="401.4" y="78.50" width="1.3" height="15.25" fill="#72dd78"/><rect x="402.4" y="78.50" width="1.3" height="15.25" fill="#5dda85"/><rect x="403.4" y="78.50" width="1.3" height="15.25" fill="#54d98c"/><rect x="404.4" y="78.50" width="1.3" height="15.25" fill="#4ed792"/><rect x="405.4" y="78.50" width="1.3" height="15.25" fill="#47d599"/><rect x="406.4" y="78.50" width="1.3" height="15.25" fill="#55d98b"/><rect x="407.4" y="78.50" width="1.3" height="15.25" fill="#71dd78"/><rect x="408.4" y="78.50" width="1.3" height="15.25" fill="#89df6b"/><rect x="409.4" y="78.50" width="1.3" height="15.25" fill="#81de70"/><rect x="410.4" y="78.50" width="1.3" height="15.25" fill="#6fdc79"/><rect x="411.4" y="78.50" width="1.3" height="15.25" fill="#5dda86"/><rect x="412.4" y="78.50" width="1.3" height="15.25" fill="#4ad696"/><rect x="413.4" y="78.50" width="1.3" height="15.25" fill="#4bd695"/><rect x="414.4" y="78.50" width="1.3" height="15.25" fill="#58da89"/><rect x="415.4" y="78.50" width="1.3" height="15.25" fill="#5ada88"/><rect x="416.4" y="78.50" width="1.3" height="15.25" fill="#50d890"/><rect x="417.4" y="78.50" width="1.3" height="15.25" fill="#52d98e"/><rect x="418.4" y="78.50" width="1.3" height="15.25" fill="#62db82"/><rect x="419.4" y="78.50" width="1.3" height="15.25" fill="#76dd76"/><rect x="420.4" y="78.50" width="1.3" height="15.25" fill="#7bde73"/><rect x="421.4" y="78.50" width="1.3" height="15.25" fill="#63db81"/><rect x="422.4" y="78.50" width="1.3" height="15.25" fill="#59da89"/><rect x="423.4" y="78.50" width="1.3" height="15.25" fill="#6adc7c"/><rect x="424.4" y="78.50" width="1.3" height="15.25" fill="#7dde71"/><rect x="425.4" y="78.50" width="1.3" height="15.25" fill="#66db7f"/><rect x="426.4" y="78.50" width="1.3" height="15.25" fill="#5ada88"/><rect x="427.4" y="78.50" width="2.3" height="15.25" fill="#55d98b"/><rect x="429.4" y="78.50" width="1.3" height="15.25" fill="#6adc7c"/><rect x="430.4" y="78.50" width="1.3" height="15.25" fill="#80de70"/><rect x="431.4" y="78.50" width="1.3" height="15.25" fill="#6fdd79"/><rect x="432.4" y="78.50" width="1.3" height="15.25" fill="#71dd78"/><rect x="433.4" y="78.50" width="1.3" height="15.25" fill="#6adc7c"/><rect x="434.4" y="78.50" width="1.3" height="15.25" fill="#62db82"/><rect x="435.4" y="78.50" width="1.3" height="15.25" fill="#6fdc79"/><rect x="436.4" y="78.50" width="1.3" height="15.25" fill="#66dc7f"/><rect x="437.4" y="78.50" width="1.3" height="15.25" fill="#4dd793"/><rect x="438.4" y="78.50" width="1.3" height="15.25" fill="#42d49e"/><rect x="439.4" y="78.50" width="1.3" height="15.25" fill="#4ed792"/><rect x="440.4" y="78.50" width="1.3" height="15.25" fill="#61db83"/><rect x="441.4" y="78.50" width="1.3" height="15.25" fill="#65db80"/><rect x="442.4" y="78.50" width="1.3" height="15.25" fill="#64db80"/><rect x="443.4" y="78.50" width="1.3" height="15.25" fill="#69dc7c"/><rect x="444.4" y="78.50" width="1.3" height="15.25" fill="#61db83"/><rect x="445.4" y="78.50" width="1.3" height="15.25" fill="#53d98d"/><rect x="446.4" y="78.50" width="1.3" height="15.25" fill="#59da89"/><rect x="447.4" y="78.50" width="1.3" height="15.25" fill="#63db81"/><rect x="448.4" y="78.50" width="1.3" height="15.25" fill="#62db82"/><rect x="449.4" y="78.50" width="1.3" height="15.25" fill="#68dc7d"/><rect x="450.4" y="78.50" width="1.3" height="15.25" fill="#69dc7c"/><rect x="451.4" y="78.50" width="1.3" height="15.25" fill="#0a12c5"/><rect x="452.4" y="78.50" width="2.3" height="15.25" fill="#0a12c4"/><rect x="454.4" y="78.50" width="1.3" height="15.25" fill="#0b14c8"/><rect x="455.4" y="78.50" width="1.3" height="15.25" fill="#0c16ca"/><rect x="456.4" y="78.50" width="1.3" height="15.25" fill="#0b15c8"/><rect x="457.4" y="78.50" width="1.3" height="15.25" fill="#0a12c4"/><rect x="458.4" y="78.50" width="1.3" height="15.25" fill="#0a11c3"/><rect x="459.4" y="78.50" width="1.3" height="15.25" fill="#0a12c4"/><rect x="460.4" y="78.50" width="2.3" height="15.25" fill="#0a13c5"/><rect x="462.4" y="78.50" width="1.3" height="15.25" fill="#0a12c4"/><rect x="463.4" y="78.50" width="1.3" height="15.25" fill="#0a12c5"/><rect x="464.4" y="78.50" width="1.3" height="15.25" fill="#0a13c5"/><rect x="465.4" y="78.50" width="1.3" height="15.25" fill="#0a11c3"/><rect x="466.4" y="78.50" width="1.3" height="15.25" fill="#0910c2"/><rect x="467.4" y="78.50" width="1.3" height="15.25" fill="#080fbf"/><rect x="468.4" y="78.50" width="1.3" height="15.25" fill="#080ebe"/><rect x="469.4" y="78.50" width="1.3" height="15.25" fill="#0910c2"/><rect x="470.4" y="78.50" width="1.3" height="15.25" fill="#0b15c8"/><rect x="471.4" y="78.50" width="1.3" height="15.25" fill="#0c16c9"/><rect x="472.4" y="78.50" width="1.3" height="15.25" fill="#0b13c6"/><rect x="473.4" y="78.50" width="1.3" height="15.25" fill="#0a12c4"/><rect x="474.4" y="78.50" width="1.3" height="15.25" fill="#0a13c5"/><rect x="475.4" y="78.50" width="1.3" height="15.25" fill="#0b13c6"/><rect x="476.4" y="78.50" width="1.3" height="15.25" fill="#0a12c4"/><rect x="477.4" y="78.50" width="1.3" height="15.25" fill="#0a13c5"/><rect x="478.4" y="78.50" width="1.3" height="15.25" fill="#0a12c5"/><rect x="479.4" y="78.50" width="1.3" height="15.25" fill="#0910c1"/><rect x="480.4" y="78.50" width="1.3" height="15.25" fill="#090fc0"/><rect x="481.4" y="78.50" width="2.3" height="15.25" fill="#0910c1"/><rect x="483.4" y="78.50" width="1.3" height="15.25" fill="#0911c2"/><rect x="484.4" y="78.50" width="1.3" height="15.25" fill="#0a11c3"/><rect x="485.4" y="78.50" width="2.3" height="15.25" fill="#0911c2"/><rect x="487.4" y="78.50" width="2.3" height="15.25" fill="#0a11c3"/><rect x="489.4" y="78.50" width="1.3" height="15.25" fill="#0a12c3"/><rect x="490.4" y="78.50" width="1.3" height="15.25" fill="#0a11c3"/><rect x="491.4" y="78.50" width="2.3" height="15.25" fill="#0911c2"/><rect x="493.4" y="78.50" width="1.3" height="15.25" fill="#0a12c4"/><rect x="494.4" y="78.50" width="1.3" height="15.25" fill="#0b14c6"/><rect x="495.4" y="78.50" width="1.3" height="15.25" fill="#0b13c6"/><rect x="496.4" y="78.50" width="2.3" height="15.25" fill="#0a12c4"/><rect x="498.4" y="78.50" width="1.3" height="15.25" fill="#0a13c5"/><rect x="499.4" y="78.50" width="3.3" height="15.25" fill="#0b14c7"/><rect x="502.4" y="78.50" width="1.3" height="15.25" fill="#0b14c6"/><rect x="503.4" y="78.50" width="1.3" height="15.25" fill="#0c15c9"/><rect x="504.4" y="78.50" width="1.3" height="15.25" fill="#0c16c9"/><rect x="505.4" y="78.50" width="1.3" height="15.25" fill="#0b14c7"/><rect x="506.4" y="78.50" width="1.3" height="15.25" fill="#0a12c4"/><rect x="507.4" y="78.50" width="1.3" height="15.25" fill="#0a12c3"/><rect x="508.4" y="78.50" width="1.3" height="15.25" fill="#0b13c6"/><rect x="509.4" y="78.50" width="1.3" height="15.25" fill="#0b14c7"/><rect x="510.4" y="78.50" width="1.3" height="15.25" fill="#0b13c6"/><rect x="511.4" y="78.50" width="1.3" height="15.25" fill="#0a12c4"/><rect x="512.4" y="78.50" width="1.3" height="15.25" fill="#0a13c5"/><rect x="513.4" y="78.50" width="1.3" height="15.25" fill="#0b13c6"/><rect x="514.4" y="78.50" width="0.9" height="15.25" fill="#0a12c3"/></g>
<text x="329.40" y="43.60" font-size="9.4" fill="#1c1c1c" stroke="#1c1c1c" stroke-width="0.25">SPH</text>
<text x="329.40" y="59.40" font-size="9.4" fill="#1c1c1c" stroke="#1c1c1c" stroke-width="0.25">SA</text>
<text x="329.40" y="74.80" font-size="9.4" fill="#1c1c1c" stroke="#1c1c1c" stroke-width="0.25">DLD1</text>
<text x="329.40" y="90.30" font-size="9.4" fill="#1c1c1c" stroke="#1c1c1c" stroke-width="0.25">METS</text>
<line x1="358.30" y1="47.70" x2="370.40" y2="47.70" stroke="#8a8a8a" stroke-width="1.15"/>
<line x1="358.80" y1="47.70" x2="358.80" y2="78.70" stroke="#b8b8b8" stroke-width="1"/>
<line x1="358.80" y1="78.70" x2="364.40" y2="78.70" stroke="#8a8a8a" stroke-width="1.15"/>
<line x1="364.40" y1="71.00" x2="364.40" y2="86.40" stroke="#b8b8b8" stroke-width="1"/>
<line x1="364.40" y1="71.00" x2="370.40" y2="71.00" stroke="#8a8a8a" stroke-width="1.15"/>
<line x1="364.40" y1="86.40" x2="370.40" y2="86.40" stroke="#8a8a8a" stroke-width="1.15"/>
<line x1="431.50" y1="16.50" x2="500.30" y2="16.50" stroke="#c4c4cc" stroke-width="1"/>
<line x1="431.50" y1="16.50" x2="431.50" y2="24.60" stroke="#c4c4cc" stroke-width="1"/>
<line x1="500.30" y1="16.50" x2="500.30" y2="30.80" stroke="#c4c4cc" stroke-width="1"/>
<line x1="404.20" y1="24.60" x2="459.20" y2="24.60" stroke="#c4c4cc" stroke-width="1"/>
<line x1="404.20" y1="24.60" x2="404.20" y2="29.70" stroke="#c4c4cc" stroke-width="1"/>
<line x1="459.20" y1="24.60" x2="459.20" y2="28.50" stroke="#c4c4cc" stroke-width="1"/>
<line x1="373.50" y1="29.70" x2="436.00" y2="29.70" stroke="#c4c4cc" stroke-width="1"/>
<line x1="450.80" y1="28.50" x2="467.70" y2="28.50" stroke="#c4c4cc" stroke-width="1"/>
<line x1="450.80" y1="28.50" x2="450.80" y2="31.00" stroke="#c4c4cc" stroke-width="1"/>
<line x1="467.70" y1="28.50" x2="467.70" y2="31.00" stroke="#c4c4cc" stroke-width="1"/>
<line x1="486.00" y1="30.30" x2="513.80" y2="30.30" stroke="#c4c4cc" stroke-width="1"/>
<line x1="373.50" y1="29.70" x2="373.50" y2="31.50" stroke="#c4c4cc" stroke-width="1"/>
<line x1="436.00" y1="29.70" x2="436.00" y2="31.50" stroke="#c4c4cc" stroke-width="1"/>
<line x1="424.00" y1="29.70" x2="424.00" y2="31.50" stroke="#c4c4cc" stroke-width="1"/>
<text x="372.20" y="107.20" font-size="7.95" fill="#1c1c1c" stroke="#1c1c1c" stroke-width="0.25">Methylation (β)</text>
<defs><linearGradient id="jet" x1="0" x2="1" y1="0" y2="0"><stop offset="0" stop-color="#00009a"/><stop offset="0.13" stop-color="#0010f8"/><stop offset="0.36" stop-color="#00ccf4"/><stop offset="0.5" stop-color="#28dc90"/><stop offset="0.66" stop-color="#b8e030"/><stop offset="0.82" stop-color="#ff8a10"/><stop offset="1" stop-color="#e41818"/></linearGradient></defs>
<rect x="380.30" y="113.90" width="34.30" height="5.80" fill="url(#jet)" stroke="none" stroke-width="1"/>
<text x="371.90" y="119.90" font-size="9.4" fill="#1c1c1c" stroke="#1c1c1c" stroke-width="0.25">0</text>
<text x="416.70" y="119.90" font-size="9.4" fill="#1c1c1c" stroke="#1c1c1c" stroke-width="0.25">1</text>
<text x="3.20" y="163.90" font-size="13.6" fill="#0a0a0a" font-weight="bold">D</text>
<text x="28.60" y="179.50" font-size="10.0" fill="#1c1c1c" stroke="#1c1c1c" stroke-width="0.25"><tspan font-style="italic">r</tspan> = -0.61; <tspan font-style="italic">P</tspan> &lt; 0.001</text>
<path d="M74.1 226.1h0.95M89.4 235.0h0.95M51.1 204.2h0.95M95.2 230.7h0.95M77.8 228.1h0.95M46.5 209.7h0.95M80.9 208.5h0.95M87.8 224.4h0.95M48.3 227.4h0.95M92.6 237.0h0.95M91.5 225.1h0.95M61.0 230.3h0.95M59.0 222.3h0.95M57.2 212.4h0.95M63.7 205.6h0.95M44.7 215.6h0.95M81.0 219.5h0.95M94.0 218.8h0.95M78.2 225.9h0.95M71.2 212.3h0.95M54.7 227.1h0.95M42.0 231.6h0.95M103.7 242.7h0.95M65.2 219.9h0.95M42.1 224.8h0.95M93.3 221.0h0.95M57.0 215.4h0.95M69.6 230.2h0.95M58.5 227.6h0.95M89.3 227.0h0.95M56.1 226.9h0.95M52.3 217.8h0.95M61.0 241.1h0.95M105.8 218.5h0.95M46.9 233.5h0.95M74.6 224.4h0.95M73.1 218.3h0.95M69.5 221.5h0.95M78.4 232.2h0.95M48.2 211.5h0.95M72.7 234.4h0.95M79.3 229.5h0.95M72.7 257.0h0.95M93.3 221.6h0.95M69.1 232.5h0.95M43.3 228.9h0.95M65.3 218.1h0.95M56.7 213.5h0.95M57.0 245.3h0.95M97.4 244.1h0.95M101.1 248.4h0.95M65.9 232.3h0.95M62.9 228.0h0.95M45.0 213.1h0.95M93.4 243.5h0.95M100.0 228.0h0.95M89.5 236.4h0.95M63.5 224.2h0.95M88.9 251.9h0.95M49.3 236.8h0.95M51.5 212.2h0.95M87.6 252.9h0.95M44.0 198.1h0.95M46.0 225.3h0.95M50.7 212.2h0.95M95.3 230.7h0.95M107.6 228.4h0.95M95.3 231.5h0.95M74.0 207.9h0.95M51.1 208.6h0.95M65.7 216.1h0.95M57.1 225.9h0.95M54.5 207.1h0.95M95.7 241.4h0.95M59.6 231.4h0.95M70.9 216.5h0.95M48.8 217.6h0.95M61.9 227.5h0.95M95.5 225.2h0.95M68.1 228.2h0.95M42.3 228.0h0.95M96.0 228.1h0.95M59.8 213.7h0.95M55.1 215.5h0.95M52.8 215.6h0.95M50.0 208.3h0.95M105.6 232.1h0.95M58.9 201.7h0.95M68.6 230.3h0.95M62.7 203.4h0.95M50.8 231.1h0.95M101.2 247.3h0.95M79.4 210.1h0.95M69.3 243.2h0.95M79.8 235.5h0.95M81.3 243.9h0.95M108.4 242.7h0.95M45.1 242.9h0.95M95.7 255.1h0.95M84.6 240.7h0.95M74.2 228.3h0.95M41.4 235.1h0.95M67.2 233.7h0.95M45.6 209.5h0.95M54.2 244.8h0.95M47.0 228.5h0.95M53.0 202.3h0.95M49.5 194.5h0.95M108.5 250.8h0.95M61.9 232.4h0.95M68.6 239.3h0.95M64.3 229.4h0.95M60.3 230.6h0.95M104.4 259.1h0.95M48.4 230.3h0.95M60.7 232.5h0.95M101.8 224.0h0.95M96.7 225.9h0.95M46.8 222.0h0.95M86.3 251.7h0.95M72.7 230.2h0.95M85.0 240.4h0.95M49.2 238.7h0.95M43.8 231.4h0.95M90.5 246.9h0.95M41.8 195.4h0.95M77.3 232.8h0.95M61.3 232.8h0.95M50.1 224.5h0.95M68.9 218.0h0.95M98.7 232.6h0.95M106.9 256.3h0.95M68.9 247.2h0.95M90.8 237.6h0.95M46.3 220.5h0.95M43.9 224.2h0.95M63.1 218.5h0.95M58.3 232.6h0.95M65.2 241.3h0.95M50.4 212.6h0.95M47.5 229.3h0.95M74.0 228.5h0.95M41.2 249.7h0.95M61.3 210.1h0.95M74.6 254.7h0.95M59.1 222.2h0.95M68.1 232.6h0.95M63.1 203.8h0.95M84.5 209.6h0.95M103.9 234.0h0.95M92.0 237.4h0.95M107.8 257.0h0.95M70.8 228.3h0.95M46.6 214.8h0.95M56.1 232.8h0.95M105.7 235.9h0.95M48.7 199.4h0.95M74.4 235.2h0.95M52.1 228.8h0.95M51.9 233.6h0.95M98.1 240.0h0.95M107.6 252.3h0.95M79.9 220.2h0.95M66.5 230.3h0.95M102.7 252.6h0.95M92.1 225.8h0.95M79.5 234.8h0.95M105.5 238.3h0.95M54.3 207.6h0.95M89.7 245.7h0.95M58.8 224.2h0.95M58.0 226.6h0.95M60.2 227.8h0.95M99.0 244.7h0.95M77.2 248.7h0.95M57.9 235.4h0.95M71.6 245.4h0.95M64.5 232.4h0.95M58.0 227.2h0.95M48.9 224.8h0.95M44.9 222.2h0.95M87.4 230.8h0.95M46.0 229.2h0.95M54.2 225.0h0.95M46.1 238.8h0.95M61.2 228.4h0.95M42.4 217.0h0.95M76.2 252.4h0.95M55.3 223.6h0.95M63.6 227.4h0.95M76.6 242.1h0.95M56.7 216.7h0.95M94.1 227.5h0.95M58.5 235.5h0.95M61.3 231.8h0.95M94.6 242.7h0.95M69.0 239.0h0.95M102.8 225.0h0.95M63.8 206.2h0.95M81.2 233.1h0.95M66.7 229.3h0.95M89.4 240.8h0.95M87.0 216.4h0.95M48.9 225.9h0.95M44.1 221.8h0.95M76.6 221.7h0.95M76.6 224.7h0.95M92.6 230.3h0.95M63.3 237.2h0.95M107.4 216.4h0.95M52.5 219.2h0.95M44.8 214.0h0.95M41.8 232.0h0.95M82.9 244.3h0.95M101.0 248.3h0.95M72.1 245.3h0.95M52.4 223.8h0.95M60.1 229.1h0.95M59.1 225.7h0.95M46.9 237.2h0.95M95.1 238.0h0.95M105.2 241.0h0.95M98.1 251.8h0.95M95.5 227.4h0.95M95.1 243.6h0.95M61.4 234.0h0.95M50.1 235.8h0.95M84.6 254.4h0.95M58.8 215.4h0.95M107.9 220.4h0.95M44.7 202.1h0.95M42.3 204.3h0.95M88.1 213.0h0.95M53.5 236.0h0.95M102.9 244.6h0.95M106.3 239.0h0.95M43.1 200.9h0.95M91.5 235.8h0.95M45.5 225.0h0.95M105.4 250.6h0.95M106.1 234.9h0.95M108.7 254.0h0.95M44.6 208.2h0.95M62.5 202.0h0.95M71.9 235.3h0.95M44.5 213.4h0.95M70.6 217.5h0.95M85.0 244.5h0.95M53.8 219.0h0.95M47.9 220.0h0.95M98.8 258.2h0.95M67.9 218.7h0.95M65.7 249.3h0.95M83.3 243.7h0.95M100.7 255.3h0.95M107.3 238.0h0.95M90.1 256.9h0.95M70.4 234.5h0.95M64.0 244.6h0.95M93.0 237.5h0.95M54.1 207.8h0.95M96.7 229.9h0.95M91.6 248.5h0.95M105.5 221.1h0.95M74.5 219.4h0.95M95.7 250.9h0.95M45.9 235.3h0.95M97.2 246.5h0.95M47.6 205.9h0.95M100.2 228.5h0.95M55.3 216.3h0.95M88.1 207.4h0.95M88.4 242.7h0.95M73.0 235.6h0.95M106.5 249.8h0.95M86.9 222.4h0.95M55.5 200.6h0.95M89.7 221.1h0.95M56.2 242.4h0.95M107.9 239.0h0.95M42.6 195.7h0.95M88.1 223.9h0.95M79.0 240.1h0.95M41.8 205.9h0.95M48.4 211.1h0.95M92.1 237.0h0.95M74.8 242.6h0.95M77.1 231.1h0.95M42.2 219.6h0.95M53.8 242.4h0.95M87.9 235.1h0.95M108.3 230.3h0.95M45.3 201.1h0.95M76.0 231.5h0.95M41.6 209.4h0.95M104.8 246.0h0.95M80.4 224.2h0.95M71.2 241.8h0.95M83.8 222.6h0.95M54.7 231.5h0.95M47.6 227.9h0.95M44.6 241.3h0.95M54.5 214.0h0.95M58.4 217.9h0.95M82.7 228.6h0.95M57.9 229.6h0.95M106.7 240.4h0.95M44.2 230.2h0.95M88.5 212.7h0.95M74.4 240.3h0.95M76.9 227.3h0.95M50.8 223.0h0.95M74.8 255.4h0.95M90.1 239.7h0.95M44.2 247.3h0.95M90.0 252.1h0.95M51.8 218.3h0.95M41.6 228.4h0.95M43.3 209.5h0.95M84.4 226.5h0.95M66.3 215.5h0.95M43.4 219.6h0.95M41.4 203.0h0.95M49.7 209.4h0.95M88.9 231.3h0.95M94.2 224.6h0.95M67.5 212.0h0.95M99.8 211.6h0.95M50.5 221.5h0.95M93.9 217.2h0.95M53.8 209.5h0.95M58.6 239.5h0.95M78.7 204.3h0.95M40.8 223.6h0.95M53.9 223.7h0.95M99.1 224.1h0.95M91.3 222.0h0.95M94.1 226.9h0.95M48.3 226.5h0.95M86.7 229.0h0.95M96.9 235.4h0.95M66.1 210.6h0.95M43.7 217.2h0.95M81.9 226.2h0.95M101.0 223.9h0.95M86.9 222.0h0.95M41.5 239.1h0.95M75.5 235.3h0.95M108.2 226.7h0.95M75.2 225.1h0.95M73.4 237.7h0.95M48.1 200.7h0.95M81.8 225.5h0.95M65.8 218.8h0.95M49.7 218.8h0.95M45.1 224.1h0.95M57.9 217.2h0.95M48.2 199.4h0.95M54.8 216.9h0.95M61.3 216.3h0.95M105.4 245.3h0.95M102.3 238.4h0.95M105.5 240.9h0.95M62.4 213.4h0.95M88.2 248.2h0.95M42.5 205.0h0.95M65.9 226.3h0.95M49.5 226.9h0.95M100.5 255.7h0.95M66.2 239.0h0.95M98.4 249.4h0.95M67.0 234.3h0.95M103.5 233.7h0.95M43.3 239.2h0.95M56.1 217.6h0.95M54.5 226.7h0.95M52.5 198.3h0.95M48.9 197.4h0.95M81.5 233.9h0.95M64.8 212.5h0.95M49.3 235.0h0.95M47.4 207.4h0.95M93.7 240.8h0.95M89.3 237.9h0.95M97.0 230.7h0.95M61.8 222.8h0.95M59.8 222.2h0.95M50.8 243.7h0.95M45.6 217.3h0.95M54.6 236.2h0.95M48.0 214.0h0.95M58.9 228.3h0.95M97.0 228.5h0.95M54.9 250.5h0.95M102.1 225.2h0.95M84.9 223.5h0.95M71.9 243.0h0.95M63.0 219.4h0.95M47.8 222.8h0.95M97.8 230.5h0.95M61.9 212.4h0.95M47.9 232.8h0.95M90.1 233.7h0.95M91.0 223.5h0.95M72.9 226.1h0.95M95.6 228.1h0.95M54.6 212.6h0.95M44.2 221.9h0.95M96.6 220.2h0.95M63.9 225.3h0.95M68.0 222.7h0.95M53.1 231.2h0.95M46.2 211.6h0.95M42.6 206.1h0.95M64.2 226.0h0.95M76.5 218.1h0.95M81.5 224.3h0.95M66.3 218.4h0.95M74.1 232.9h0.95M41.2 214.2h0.95M46.2 237.7h0.95M57.9 227.8h0.95M57.0 221.9h0.95M59.4 227.8h0.95M70.4 215.1h0.95M102.6 234.6h0.95M82.1 215.9h0.95M42.0 209.7h0.95M45.1 247.9h0.95M58.7 193.0h0.95M91.6 240.1h0.95M76.5 237.4h0.95M55.1 229.4h0.95M103.8 224.4h0.95M54.2 240.1h0.95M41.9 220.4h0.95M45.3 200.1h0.95M71.5 244.5h0.95M40.8 226.9h0.95M88.1 224.1h0.95M56.7 242.3h0.95M45.6 228.8h0.95M102.8 249.9h0.95M99.6 249.5h0.95M107.9 240.7h0.95M108.4 240.4h0.95M47.4 225.4h0.95M95.4 223.0h0.95M76.9 230.3h0.95M47.1 226.1h0.95M98.0 212.3h0.95M81.9 216.3h0.95M59.0 209.7h0.95M55.6 213.7h0.95M46.8 241.7h0.95M58.2 207.4h0.95M44.9 219.5h0.95M71.1 205.8h0.95M86.9 229.8h0.95M63.2 223.2h0.95M60.3 215.4h0.95M65.7 226.4h0.95M80.9 237.7h0.95M52.0 248.7h0.95M50.8 211.0h0.95M65.8 214.4h0.95M41.3 234.4h0.95M53.6 219.9h0.95M51.4 242.5h0.95M77.6 217.3h0.95M43.6 221.9h0.95M47.3 215.6h0.95M50.5 235.9h0.95M58.6 219.3h0.95M50.9 205.0h0.95M88.1 232.9h0.95M46.8 218.7h0.95M90.2 245.4h0.95M43.0 195.4h0.95M52.5 232.6h0.95M84.6 224.6h0.95M74.2 220.0h0.95M64.3 250.4h0.95M108.0 245.5h0.95M53.2 205.3h0.95M49.2 205.5h0.95M91.1 225.7h0.95M79.6 229.8h0.95M45.0 215.0h0.95M82.3 228.9h0.95M59.6 214.0h0.95M44.4 236.0h0.95M81.0 232.4h0.95M54.8 228.4h0.95M55.6 217.2h0.95M82.6 230.8h0.95M82.1 238.7h0.95M101.5 209.2h0.95M58.3 231.9h0.95M57.2 220.9h0.95M92.2 238.1h0.95M107.6 253.0h0.95M80.4 238.4h0.95M99.6 243.4h0.95M47.5 246.8h0.95M78.4 236.4h0.95M56.8 212.1h0.95M79.9 255.4h0.95M94.5 227.6h0.95M46.2 209.9h0.95M81.6 244.4h0.95M87.7 242.6h0.95M107.2 255.4h0.95M70.2 240.5h0.95M105.8 223.5h0.95M46.7 220.6h0.95M82.7 229.4h0.95M78.1 251.4h0.95M53.1 226.8h0.95M75.6 233.4h0.95M52.8 224.3h0.95M56.5 228.9h0.95M71.3 239.4h0.95M100.0 226.8h0.95M78.4 225.9h0.95M74.0 231.7h0.95M81.7 216.4h0.95M95.0 233.3h0.95M58.1 226.7h0.95M58.2 216.6h0.95M80.1 243.5h0.95M105.5 241.0h0.95M55.8 223.4h0.95M74.5 228.1h0.95M46.5 217.9h0.95M48.2 230.3h0.95M74.2 225.7h0.95M53.5 225.8h0.95M75.5 230.5h0.95M47.7 214.3h0.95M93.0 238.9h0.95M108.5 253.5h0.95M94.3 242.3h0.95M43.1 228.3h0.95M70.3 232.9h0.95M93.1 251.4h0.95M87.6 219.0h0.95M67.4 227.1h0.95M90.6 233.4h0.95M81.5 252.8h0.95M47.9 208.6h0.95M49.4 203.5h0.95M65.8 202.5h0.95M45.3 223.4h0.95M56.7 250.3h0.95M45.4 230.6h0.95M72.1 241.6h0.95M77.0 242.9h0.95M93.4 243.4h0.95M57.6 216.9h0.95M70.0 227.4h0.95M93.1 227.6h0.95M85.1 236.4h0.95M78.7 245.4h0.95M105.6 240.0h0.95M94.7 237.5h0.95M104.7 244.3h0.95M52.9 228.8h0.95M60.4 212.8h0.95M44.7 236.6h0.95M90.0 250.4h0.95M60.6 244.1h0.95M58.1 230.2h0.95M83.5 221.4h0.95M64.7 209.5h0.95M48.8 202.8h0.95M82.2 247.6h0.95M64.4 220.0h0.95M90.6 242.2h0.95M63.5 231.7h0.95M64.8 222.5h0.95M100.7 246.9h0.95M81.1 250.0h0.95M83.1 207.9h0.95M98.1 231.1h0.95M56.8 235.0h0.95M61.9 229.8h0.95M77.2 247.9h0.95M74.5 223.4h0.95M41.7 212.6h0.95M41.2 206.9h0.95M47.1 221.0h0.95M94.2 223.4h0.95M42.6 212.2h0.95M77.5 237.1h0.95M104.7 221.7h0.95M52.4 242.2h0.95M43.6 220.9h0.95M94.0 253.7h0.95M40.9 214.1h0.95M104.9 247.8h0.95M48.7 232.5h0.95M54.9 234.1h0.95M44.5 218.1h0.95M82.3 217.9h0.95M67.1 247.1h0.95M78.7 228.6h0.95M87.9 215.2h0.95M75.6 239.0h0.95M94.9 241.2h0.95M53.0 240.9h0.95M72.1 223.0h0.95M52.6 213.7h0.95M61.7 238.8h0.95M81.7 214.0h0.95M84.1 209.4h0.95M48.3 205.6h0.95M46.3 236.7h0.95M54.8 222.9h0.95M43.2 207.2h0.95M59.0 198.3h0.95M46.5 226.0h0.95M80.8 228.2h0.95M100.6 241.1h0.95M78.8 243.7h0.95M86.2 243.6h0.95M78.4 217.2h0.95M92.1 222.5h0.95M61.0 220.3h0.95M49.0 217.4h0.95M45.5 232.2h0.95M55.9 213.7h0.95M59.5 209.8h0.95M54.6 243.0h0.95M108.0 259.1h0.95M83.4 226.5h0.95M103.5 227.9h0.95M62.6 218.7h0.95M58.7 233.3h0.95M106.7 226.4h0.95M63.8 228.7h0.95M42.3 209.9h0.95M55.0 232.2h0.95M79.3 227.6h0.95M105.8 233.0h0.95M42.6 209.3h0.95M64.6 237.4h0.95M81.7 229.9h0.95M83.1 226.4h0.95M50.2 213.9h0.95M80.5 232.9h0.95M56.2 232.1h0.95M57.5 203.5h0.95M49.1 211.5h0.95M50.5 204.4h0.95M42.6 228.8h0.95M61.9 252.9h0.95M78.4 230.1h0.95M46.6 217.4h0.95M106.6 242.3h0.95M45.3 210.0h0.95M73.6 225.6h0.95M64.8 237.9h0.95M91.2 241.2h0.95M57.9 220.4h0.95M102.7 243.2h0.95M81.3 255.0h0.95M104.9 243.5h0.95M84.1 233.3h0.95M67.7 234.6h0.95M47.0 205.4h0.95M95.6 248.7h0.95M56.5 209.3h0.95M90.0 218.2h0.95M46.9 208.0h0.95M61.6 241.7h0.95M47.1 237.3h0.95M47.6 226.8h0.95M62.7 221.9h0.95M75.7 255.5h0.95M96.0 207.4h0.95M74.2 253.8h0.95M52.5 213.9h0.95M79.2 216.1h0.95M80.6 233.0h0.95M63.4 218.9h0.95M81.5 217.5h0.95M50.1 227.0h0.95M65.0 230.4h0.95M59.0 229.4h0.95M52.1 245.4h0.95M45.9 237.5h0.95M53.8 247.5h0.95M80.4 221.5h0.95M46.5 230.9h0.95M80.0 218.6h0.95M53.1 210.7h0.95M62.1 230.6h0.95M99.3 235.1h0.95M47.2 206.6h0.95M62.4 212.4h0.95M57.5 213.4h0.95M73.9 237.7h0.95M57.2 203.2h0.95M95.0 234.6h0.95M57.9 231.6h0.95M103.3 244.2h0.95M52.7 229.8h0.95M58.5 219.8h0.95M45.6 217.8h0.95M49.3 212.1h0.95M68.5 216.2h0.95M77.9 237.1h0.95M67.1 206.4h0.95M105.2 223.0h0.95M57.1 233.7h0.95M70.6 225.9h0.95M60.6 249.9h0.95M107.2 243.1h0.95M48.2 227.6h0.95M46.3 228.2h0.95M84.0 241.1h0.95M74.5 222.9h0.95M44.5 216.1h0.95M60.9 212.7h0.95M89.4 248.5h0.95M46.6 203.5h0.95M43.3 247.8h0.95M56.5 213.4h0.95M100.8 236.4h0.95M66.7 247.6h0.95M83.7 236.6h0.95M85.4 224.1h0.95M44.5 207.6h0.95M53.2 231.0h0.95M90.5 253.2h0.95M66.3 224.4h0.95M88.2 255.4h0.95M56.2 215.7h0.95M50.0 195.2h0.95M75.5 251.6h0.95M42.8 208.7h0.95M43.0 217.1h0.95M50.0 212.0h0.95M106.5 240.3h0.95M90.7 206.0h0.95M88.6 239.4h0.95M79.7 215.6h0.95M104.4 257.4h0.95M100.0 203.7h0.95M61.4 213.2h0.95M85.0 227.3h0.95M91.0 220.9h0.95M91.1 228.1h0.95M51.4 248.1h0.95M53.6 207.6h0.95M83.2 225.4h0.95M97.5 230.8h0.95M71.0 246.5h0.95M62.6 222.2h0.95M105.5 242.6h0.95M45.2 210.2h0.95M56.4 227.2h0.95M47.7 242.2h0.95M65.1 235.1h0.95M49.4 235.6h0.95M76.1 238.2h0.95M50.1 226.2h0.95M88.4 214.7h0.95M69.9 247.5h0.95M65.9 228.3h0.95M94.1 235.7h0.95M66.1 213.8h0.95M77.0 225.5h0.95M75.9 245.0h0.95M44.0 207.0h0.95M72.3 226.4h0.95M48.4 241.3h0.95M80.5 234.7h0.95M49.3 232.4h0.95M81.0 217.1h0.95M59.1 206.3h0.95M50.6 196.6h0.95M60.5 243.6h0.95M78.5 204.6h0.95M102.6 245.1h0.95M86.9 249.9h0.95M83.7 222.2h0.95M67.1 232.0h0.95M84.9 223.4h0.95M59.8 251.9h0.95M67.4 244.0h0.95M92.1 208.9h0.95M49.6 207.8h0.95M82.2 250.6h0.95M89.9 236.7h0.95M84.3 228.6h0.95M106.1 234.3h0.95M106.9 234.8h0.95M49.7 231.6h0.95M57.4 217.3h0.95M62.9 230.9h0.95M42.7 214.7h0.95M65.5 223.6h0.95M73.1 238.6h0.95M91.2 237.9h0.95M48.8 225.9h0.95M61.4 219.8h0.95M70.1 215.7h0.95M48.5 249.7h0.95M74.5 223.7h0.95M89.0 242.2h0.95M56.8 240.6h0.95M61.3 239.8h0.95M85.6 238.6h0.95M63.0 241.5h0.95M51.6 234.3h0.95M42.7 219.3h0.95M64.8 219.8h0.95M94.6 217.6h0.95M87.7 243.7h0.95M46.8 233.9h0.95M84.9 218.0h0.95M51.8 225.6h0.95M68.4 257.8h0.95M101.0 253.4h0.95M61.2 204.0h0.95M81.5 224.5h0.95M97.2 239.7h0.95M105.0 245.9h0.95M71.9 230.9h0.95M42.6 212.6h0.95M62.3 228.1h0.95M103.5 216.9h0.95M87.7 236.3h0.95M77.5 217.2h0.95M79.6 259.3h0.95M68.6 224.0h0.95M76.9 227.1h0.95M66.5 229.5h0.95M90.9 210.9h0.95M48.1 212.3h0.95M55.0 225.4h0.95M99.2 235.1h0.95M85.1 234.5h0.95M45.2 220.4h0.95M51.1 197.3h0.95M65.6 213.4h0.95M49.1 203.9h0.95M73.0 236.5h0.95M81.9 232.9h0.95M85.4 222.7h0.95M66.7 223.4h0.95M66.6 224.3h0.95M47.2 213.4h0.95M41.8 197.8h0.95M108.4 242.3h0.95M68.8 212.8h0.95M66.7 230.0h0.95M89.9 239.4h0.95M99.7 243.2h0.95M74.9 227.8h0.95M51.9 209.4h0.95M56.6 231.9h0.95M51.3 240.1h0.95M89.7 242.7h0.95M98.2 242.7h0.95M103.3 247.5h0.95M72.6 222.5h0.95M97.3 240.2h0.95M105.6 226.8h0.95M91.1 211.8h0.95M58.1 216.8h0.95M45.9 233.6h0.95M104.5 235.2h0.95M92.0 226.6h0.95M62.1 229.8h0.95M108.2 250.8h0.95M93.2 239.3h0.95M91.2 248.9h0.95M72.7 213.8h0.95M78.9 235.3h0.95M53.1 227.3h0.95M108.1 237.5h0.95M46.6 223.0h0.95M45.4 209.5h0.95M56.6 237.0h0.95M104.3 239.5h0.95M77.3 253.5h0.95M96.4 233.1h0.95M43.9 228.3h0.95M89.2 224.7h0.95M41.4 211.4h0.95M98.7 227.2h0.95M53.0 226.6h0.95M61.3 221.9h0.95M84.1 240.8h0.95M87.3 239.8h0.95M98.2 241.0h0.95M103.5 248.1h0.95M94.8 251.1h0.95M68.9 212.9h0.95M71.1 216.0h0.95M48.0 226.8h0.95M85.2 226.1h0.95M78.1 238.3h0.95M86.1 216.7h0.95M56.5 226.3h0.95M97.4 221.3h0.95M53.6 203.7h0.95M53.3 204.0h0.95M41.9 204.3h0.95M55.1 227.5h0.95M64.7 228.5h0.95M92.6 251.3h0.95M72.3 205.3h0.95M51.9 235.2h0.95M72.0 248.9h0.95M76.5 225.9h0.95M52.2 229.7h0.95M47.9 203.1h0.95M52.7 232.4h0.95M46.8 228.6h0.95M45.9 227.6h0.95M78.4 220.5h0.95M89.7 242.4h0.95M94.0 235.4h0.95M106.7 233.2h0.95M45.5 220.5h0.95M70.6 232.5h0.95M87.9 226.1h0.95M55.2 226.5h0.95M45.5 251.7h0.95M46.0 211.1h0.95M41.1 213.1h0.95M86.7 236.0h0.95M66.2 222.0h0.95M50.9 225.2h0.95M84.7 205.6h0.95M59.1 238.2h0.95M108.4 251.4h0.95M64.5 225.2h0.95M107.4 233.7h0.95M62.2 211.2h0.95M92.9 240.4h0.95M57.1 204.9h0.95M50.0 219.7h0.95M52.0 235.0h0.95M81.0 222.8h0.95M88.2 239.3h0.95M55.7 229.0h0.95M100.6 241.4h0.95M68.5 214.8h0.95M68.0 207.4h0.95M67.3 234.1h0.95M43.7 228.5h0.95M96.8 241.9h0.95M95.7 227.4h0.95M72.8 236.0h0.95M59.9 235.7h0.95M57.5 216.6h0.95M107.8 215.5h0.95M71.8 225.5h0.95M45.3 222.7h0.95M43.1 216.9h0.95M106.4 249.3h0.95M95.5 248.4h0.95M45.2 204.4h0.95M64.9 243.6h0.95M42.4 224.1h0.95M100.2 236.4h0.95M98.5 227.6h0.95M103.9 229.8h0.95M77.9 256.3h0.95M65.8 220.6h0.95M98.9 250.0h0.95M83.0 212.7h0.95M49.5 229.4h0.95M106.8 251.0h0.95M53.5 218.7h0.95M97.4 246.5h0.95M74.8 224.6h0.95M104.2 237.8h0.95M99.7 251.7h0.95M50.8 220.5h0.95M56.3 217.1h0.95M61.1 229.6h0.95M56.6 213.1h0.95M85.4 235.2h0.95M42.4 219.8h0.95M51.1 218.7h0.95M91.7 253.0h0.95M61.6 212.8h0.95M44.1 204.4h0.95M42.3 225.9h0.95M76.0 211.3h0.95M54.8 228.1h0.95M78.1 237.6h0.95M71.8 206.3h0.95M107.5 249.8h0.95M40.9 233.8h0.95M90.5 255.8h0.95M72.8 233.1h0.95M54.2 235.3h0.95M84.2 247.1h0.95M95.2 229.6h0.95M89.1 220.8h0.95M42.9 229.5h0.95M49.4 220.4h0.95M58.8 234.3h0.95M50.8 227.5h0.95M106.8 242.6h0.95M85.7 233.1h0.95M84.9 234.2h0.95M93.5 241.6h0.95M88.4 243.3h0.95M49.0 198.8h0.95M96.8 226.7h0.95M52.5 208.5h0.95M76.2 240.3h0.95M49.1 210.1h0.95M56.9 221.9h0.95M45.8 221.4h0.95M43.0 228.6h0.95M53.9 231.2h0.95M60.6 218.4h0.95M40.9 221.2h0.95M82.2 209.0h0.95M79.0 237.9h0.95M43.4 205.8h0.95M90.9 246.8h0.95M79.0 241.2h0.95M42.5 207.3h0.95M86.5 236.6h0.95M89.5 257.0h0.95M100.1 231.5h0.95M98.2 242.4h0.95M54.4 199.4h0.95M43.8 235.1h0.95M94.5 229.6h0.95M83.5 221.0h0.95M82.4 234.6h0.95M76.6 250.9h0.95M106.4 248.1h0.95M41.6 226.1h0.95M47.2 229.5h0.95M48.5 245.9h0.95M41.3 230.2h0.95M97.8 217.5h0.95M49.7 210.1h0.95M94.0 243.1h0.95M71.0 233.1h0.95M107.2 217.3h0.95M94.6 225.6h0.95M56.7 210.1h0.95M84.2 241.9h0.95M54.9 226.5h0.95M46.1 240.0h0.95M51.1 206.4h0.95M77.6 221.2h0.95M62.7 240.8h0.95M47.6 212.6h0.95M71.2 230.3h0.95M96.6 219.4h0.95M42.4 213.7h0.95M64.2 201.7h0.95M59.7 220.4h0.95M41.1 223.5h0.95M46.3 215.4h0.95M45.1 215.7h0.95M103.3 233.3h0.95M57.3 223.5h0.95M60.2 232.2h0.95M58.1 216.7h0.95M85.7 249.5h0.95M92.0 237.8h0.95M84.4 240.4h0.95M77.7 243.4h0.95M51.2 243.6h0.95M50.0 204.6h0.95M50.8 242.3h0.95M62.5 241.7h0.95M63.9 245.1h0.95M56.7 204.6h0.95M94.4 236.8h0.95M94.4 239.0h0.95M53.0 223.9h0.95M53.9 212.4h0.95M49.7 207.4h0.95M74.5 235.2h0.95M90.0 234.7h0.95M55.8 218.9h0.95M84.0 236.6h0.95M108.6 254.2h0.95M56.0 208.3h0.95M47.2 206.6h0.95M92.3 214.6h0.95M55.1 216.5h0.95M80.3 235.2h0.95M66.3 248.4h0.95M69.5 229.9h0.95M47.5 207.1h0.95M61.9 230.9h0.95M81.4 245.2h0.95M71.2 248.8h0.95M52.5 235.9h0.95M67.4 225.4h0.95M89.8 232.3h0.95M55.2 220.9h0.95M104.6 239.9h0.95M46.8 202.8h0.95M60.6 234.5h0.95M59.9 214.4h0.95M77.5 213.0h0.95M70.4 242.5h0.95M59.0 210.3h0.95M97.4 224.6h0.95M98.3 232.2h0.95M51.5 245.2h0.95M63.7 226.8h0.95M93.5 228.1h0.95M70.7 247.0h0.95M50.6 223.2h0.95M93.5 239.5h0.95M71.2 221.7h0.95M51.2 251.4h0.95M58.6 212.0h0.95M53.2 210.3h0.95M102.6 251.5h0.95M53.9 198.0h0.95M81.0 235.2h0.95M59.1 246.8h0.95M55.1 230.2h0.95M64.8 245.1h0.95M97.8 237.7h0.95M78.3 219.5h0.95M93.2 215.9h0.95M55.9 231.0h0.95M68.8 230.2h0.95M45.9 248.4h0.95M46.8 212.5h0.95M67.8 235.8h0.95M43.3 215.3h0.95M70.3 255.1h0.95M59.6 206.7h0.95M106.9 232.8h0.95M62.0 232.6h0.95M80.5 244.8h0.95M92.4 229.7h0.95M104.1 227.4h0.95M60.0 215.2h0.95M51.3 234.9h0.95M60.9 210.9h0.95M83.1 247.2h0.95M47.2 238.4h0.95M57.4 229.6h0.95M59.8 213.2h0.95M51.4 205.0h0.95M103.9 229.8h0.95M66.9 214.7h0.95M78.1 241.4h0.95M92.3 233.6h0.95M107.5 245.5h0.95M85.2 257.3h0.95M78.7 240.3h0.95M85.7 251.2h0.95M107.1 238.1h0.95M54.1 234.2h0.95M89.2 236.0h0.95M91.5 233.2h0.95M51.4 220.4h0.95M63.8 220.1h0.95M43.8 215.7h0.95M50.0 237.7h0.95M52.0 227.9h0.95M93.2 228.5h0.95M73.7 222.7h0.95M81.6 234.3h0.95M49.8 223.3h0.95M57.3 199.2h0.95M78.1 248.8h0.95M94.8 228.8h0.95M54.7 231.1h0.95M62.8 245.0h0.95M53.0 228.8h0.95M76.8 238.7h0.95M104.1 253.6h0.95M42.5 248.3h0.95M90.3 240.9h0.95M77.1 241.9h0.95M50.3 200.6h0.95M46.4 241.6h0.95M51.1 244.0h0.95M55.1 234.7h0.95M50.5 212.1h0.95M91.4 234.0h0.95M104.4 237.0h0.95M67.2 222.9h0.95M80.9 234.2h0.95M78.1 216.1h0.95M81.5 214.5h0.95M65.5 227.8h0.95M47.8 235.4h0.95M43.3 209.5h0.95M41.0 228.1h0.95M79.6 241.5h0.95M48.4 247.3h0.95M59.9 214.0h0.95M81.4 243.9h0.95M73.1 240.7h0.95M66.1 227.1h0.95M60.1 249.9h0.95M99.2 237.0h0.95M94.4 245.4h0.95M51.5 210.7h0.95M71.7 235.6h0.95M74.5 239.2h0.95M96.2 232.5h0.95M60.1 224.2h0.95M89.3 219.8h0.95M53.0 227.3h0.95M54.2 194.0h0.95M91.2 218.8h0.95M107.1 255.3h0.95M74.0 249.6h0.95M91.8 234.9h0.95M71.1 221.8h0.95M47.9 210.7h0.95M47.8 212.3h0.95M45.6 214.4h0.95M85.0 234.9h0.95M103.7 255.9h0.95M103.3 243.0h0.95M94.3 231.9h0.95M61.0 206.6h0.95M68.6 224.6h0.95M76.5 232.6h0.95M45.0 198.2h0.95M50.9 237.4h0.95M65.8 211.9h0.95M48.8 217.9h0.95M97.6 237.8h0.95M104.7 225.4h0.95M108.5 223.1h0.95M81.5 227.4h0.95M80.4 219.7h0.95M75.8 219.6h0.95M53.6 205.7h0.95M91.5 235.2h0.95M46.0 230.2h0.95M50.2 206.6h0.95M77.2 227.8h0.95M40.9 196.4h0.95M93.3 214.4h0.95M46.6 235.7h0.95M94.2 254.1h0.95M41.7 209.2h0.95M102.3 248.2h0.95M48.2 207.2h0.95M69.4 226.3h0.95M83.1 214.8h0.95M79.9 247.1h0.95M53.0 218.2h0.95M53.3 217.2h0.95M44.1 198.1h0.95M93.0 215.2h0.95M51.3 217.7h0.95M58.3 241.1h0.95M67.0 213.1h0.95M57.7 215.5h0.95M97.7 250.1h0.95M104.2 242.8h0.95M96.6 228.3h0.95M67.5 231.7h0.95M55.2 210.2h0.95M62.3 209.5h0.95M49.4 226.4h0.95M57.6 219.7h0.95M58.9 248.9h0.95M55.8 231.3h0.95M105.7 218.9h0.95M71.0 239.6h0.95M100.2 247.9h0.95M46.2 215.6h0.95M95.0 254.1h0.95M104.0 253.3h0.95M56.3 214.8h0.95M100.5 252.1h0.95M79.3 241.0h0.95M90.6 226.5h0.95M59.7 208.9h0.95M78.5 218.2h0.95M48.4 229.1h0.95M46.6 233.1h0.95M55.1 227.7h0.95M42.2 206.1h0.95M44.7 192.0h0.95M85.6 228.4h0.95M92.3 226.6h0.95M67.5 226.7h0.95M41.9 215.6h0.95M49.7 205.8h0.95M90.0 208.3h0.95M91.9 222.7h0.95M82.3 239.8h0.95M68.5 236.4h0.95M60.8 232.9h0.95M52.2 223.2h0.95M99.4 255.1h0.95M99.7 207.1h0.95M47.0 200.2h0.95M86.3 211.7h0.95M86.1 234.7h0.95M55.6 213.7h0.95M41.2 249.9h0.95M88.8 220.8h0.95M58.1 200.5h0.95M107.8 255.9h0.95M42.2 209.6h0.95M70.8 229.0h0.95M67.0 247.5h0.95M65.1 228.1h0.95M79.4 242.8h0.95M49.7 249.9h0.95M93.1 223.6h0.95M48.9 223.6h0.95M49.8 215.7h0.95M47.7 219.9h0.95M107.9 221.9h0.95M50.6 196.9h0.95M44.1 238.3h0.95M57.4 242.1h0.95M46.1 211.1h0.95M90.6 220.6h0.95M65.4 223.9h0.95M56.8 201.2h0.95M56.3 204.2h0.95M77.6 233.8h0.95M50.8 225.9h0.95M80.8 215.5h0.95M100.8 243.6h0.95M96.7 260.8h0.95M100.6 236.1h0.95M97.3 208.9h0.95M57.0 251.2h0.95M93.8 241.3h0.95M53.2 195.6h0.95M105.0 246.7h0.95M92.4 257.9h0.95M53.4 231.7h0.95M107.2 241.0h0.95M50.6 209.7h0.95M70.2 251.2h0.95M56.5 213.2h0.95M48.5 242.3h0.95M99.1 247.0h0.95M63.6 252.0h0.95M90.0 226.8h0.95M52.1 255.3h0.95M100.6 236.2h0.95M105.9 247.9h0.95M75.6 215.2h0.95M58.7 212.0h0.95M54.6 219.1h0.95M43.3 205.5h0.95M44.1 213.9h0.95M106.6 249.8h0.95M73.2 234.9h0.95M45.7 208.4h0.95M66.1 219.3h0.95M100.8 244.4h0.95M101.9 249.8h0.95M51.3 239.6h0.95M82.5 228.4h0.95M56.7 215.1h0.95M61.7 229.4h0.95M94.7 213.9h0.95M49.0 211.8h0.95M91.5 234.4h0.95M101.2 237.8h0.95M43.0 232.2h0.95M93.9 243.2h0.95M85.2 219.6h0.95M81.6 238.3h0.95M45.4 226.8h0.95M59.9 211.0h0.95M47.7 241.4h0.95M57.8 223.9h0.95M86.0 225.9h0.95M66.1 231.0h0.95M94.9 220.3h0.95M49.3 247.3h0.95M50.0 239.6h0.95M63.8 227.0h0.95M50.7 235.7h0.95M53.1 206.9h0.95M55.1 213.8h0.95M69.7 235.0h0.95M45.8 220.5h0.95M74.9 210.7h0.95M84.1 248.1h0.95M52.9 233.4h0.95M75.5 225.4h0.95M95.7 239.9h0.95M100.4 222.6h0.95M91.7 212.7h0.95M48.1 222.4h0.95M82.7 237.1h0.95M64.4 232.5h0.95M78.4 217.2h0.95M58.9 226.4h0.95M44.2 234.5h0.95M103.9 248.8h0.95M67.0 228.5h0.95M86.0 225.2h0.95M65.9 208.0h0.95M105.4 219.2h0.95M70.6 214.0h0.95M55.4 242.4h0.95M41.7 232.0h0.95M73.7 233.6h0.95M103.4 224.9h0.95M100.5 243.9h0.95M47.5 234.3h0.95M52.0 233.6h0.95M84.4 220.3h0.95M41.4 241.5h0.95M45.4 211.6h0.95M91.0 235.2h0.95M46.1 218.0h0.95M69.6 248.9h0.95M50.8 238.9h0.95M88.1 242.5h0.95M56.3 209.9h0.95M63.6 230.5h0.95M99.0 241.1h0.95M70.4 245.8h0.95M56.7 229.4h0.95M54.7 224.8h0.95M96.4 245.0h0.95M51.5 205.0h0.95M63.7 228.7h0.95M46.2 202.9h0.95M87.4 218.1h0.95M57.7 238.5h0.95M76.9 233.9h0.95M68.8 238.2h0.95M42.1 211.2h0.95M90.7 248.9h0.95M72.3 231.0h0.95M84.2 238.1h0.95M49.9 215.0h0.95M59.2 215.1h0.95M61.1 225.4h0.95M78.0 229.8h0.95M46.0 204.5h0.95M42.5 233.1h0.95M69.8 239.2h0.95M71.0 239.9h0.95M43.2 198.2h0.95M42.0 216.9h0.95M44.3 222.4h0.95M103.7 241.7h0.95M61.8 226.8h0.95M57.8 219.3h0.95M44.7 200.6h0.95M52.4 219.1h0.95M71.2 244.3h0.95M77.0 256.4h0.95M76.0 217.1h0.95M58.8 228.3h0.95M58.5 239.4h0.95M57.5 222.1h0.95M44.0 220.4h0.95M59.5 237.3h0.95M50.6 205.9h0.95M44.6 213.1h0.95M55.4 244.5h0.95M87.4 231.0h0.95M46.1 238.2h0.95M45.5 231.5h0.95M87.4 228.5h0.95M80.3 221.0h0.95M106.1 241.2h0.95M52.4 228.9h0.95M59.0 223.5h0.95M108.0 248.3h0.95M87.7 232.5h0.95M47.8 206.3h0.95M94.9 233.2h0.95M62.9 240.6h0.95M93.6 248.6h0.95M86.9 238.9h0.95M48.0 233.8h0.95M50.1 216.4h0.95M46.4 213.6h0.95M66.3 231.3h0.95M58.0 233.9h0.95M40.9 221.8h0.95M66.2 220.4h0.95M66.7 208.3h0.95M80.3 242.4h0.95M97.0 245.0h0.95M73.1 229.5h0.95M61.8 200.4h0.95M71.3 238.7h0.95M95.4 234.1h0.95M45.7 217.9h0.95M97.1 234.1h0.95M80.6 230.4h0.95M57.4 206.3h0.95M66.8 230.3h0.95M97.3 247.2h0.95M75.0 230.3h0.95M58.8 207.1h0.95M95.2 225.5h0.95M75.0 230.8h0.95M67.0 231.4h0.95M41.3 233.2h0.95M78.1 211.8h0.95M46.9 202.2h0.95M63.6 220.2h0.95M62.2 211.5h0.95M41.5 239.0h0.95M83.0 214.5h0.95M64.8 220.1h0.95M82.0 204.1h0.95M102.8 240.9h0.95M41.4 222.9h0.95M107.4 243.6h0.95M89.2 239.2h0.95M100.1 247.0h0.95M60.5 230.9h0.95M43.8 221.6h0.95M87.6 227.7h0.95M108.0 237.1h0.95M88.8 217.8h0.95M48.2 224.2h0.95M82.0 249.1h0.95M83.6 235.7h0.95M63.1 232.9h0.95M100.6 248.1h0.95M93.0 231.0h0.95M75.5 246.5h0.95M66.1 208.2h0.95M67.6 219.1h0.95M89.1 228.7h0.95M89.7 227.3h0.95M46.2 223.4h0.95M59.6 219.4h0.95M79.5 242.9h0.95M72.4 243.4h0.95M45.8 219.8h0.95M49.1 221.9h0.95M69.3 241.9h0.95M81.4 255.0h0.95M48.6 233.2h0.95M96.3 228.1h0.95M62.7 203.2h0.95M74.6 237.5h0.95M55.2 234.6h0.95M54.1 240.1h0.95M98.0 255.6h0.95M52.6 208.7h0.95M71.9 218.6h0.95M104.7 239.2h0.95M99.8 242.8h0.95M41.0 225.6h0.95M107.9 220.8h0.95M58.6 218.3h0.95M51.3 218.5h0.95M97.5 223.5h0.95M53.4 219.8h0.95M98.4 224.7h0.95M49.0 216.4h0.95M68.0 220.1h0.95M66.1 228.9h0.95M57.2 205.2h0.95M47.7 228.3h0.95M42.1 215.2h0.95M50.7 209.4h0.95M77.0 235.6h0.95M50.3 225.9h0.95M74.8 200.7h0.95M81.9 233.4h0.95M108.0 231.1h0.95M96.3 258.6h0.95M65.1 220.0h0.95M51.5 231.8h0.95M40.9 212.0h0.95M54.4 221.8h0.95M69.3 227.7h0.95M57.3 219.9h0.95M43.7 199.2h0.95M81.1 220.0h0.95M101.6 225.5h0.95M71.9 224.0h0.95M57.0 242.4h0.95M78.2 236.1h0.95M88.5 246.9h0.95M93.4 229.7h0.95M65.4 250.3h0.95M66.1 218.2h0.95M70.7 220.3h0.95M42.8 207.5h0.95M75.5 212.6h0.95M56.9 231.5h0.95M92.1 223.9h0.95M61.5 211.2h0.95M73.3 232.0h0.95M43.6 219.5h0.95M73.0 224.8h0.95M96.4 235.1h0.95M81.3 227.9h0.95M69.1 233.1h0.95M90.1 218.2h0.95M82.1 234.2h0.95M69.2 214.0h0.95M49.7 246.6h0.95M69.4 236.9h0.95M60.0 222.3h0.95M42.9 206.2h0.95M99.7 225.5h0.95M56.6 215.4h0.95M43.4 207.6h0.95M51.7 207.5h0.95M75.6 258.6h0.95M45.8 192.8h0.95M42.2 202.3h0.95M81.4 239.3h0.95M104.8 230.7h0.95M70.6 229.8h0.95M95.0 253.0h0.95M44.0 245.7h0.95M101.7 223.6h0.95M93.2 221.7h0.95M65.6 219.2h0.95M42.7 214.5h0.95M45.0 216.8h0.95M63.9 234.0h0.95M60.8 227.7h0.95M107.6 222.7h0.95M107.0 236.4h0.95M94.3 229.4h0.95M98.8 241.1h0.95M101.8 220.4h0.95M98.9 216.0h0.95M51.0 204.1h0.95M96.4 221.4h0.95M41.4 244.7h0.95M58.6 215.8h0.95M51.2 222.1h0.95M85.1 225.7h0.95M91.1 230.5h0.95M65.3 203.6h0.95M88.5 223.8h0.95M86.2 226.8h0.95M106.6 249.9h0.95M41.8 204.4h0.95M67.3 221.3h0.95M55.6 227.2h0.95M83.6 247.4h0.95M96.4 235.2h0.95M75.8 227.6h0.95M41.8 204.7h0.95M44.8 214.7h0.95M45.4 207.1h0.95M97.8 236.0h0.95M76.4 246.8h0.95M59.5 219.1h0.95M50.6 227.9h0.95M96.4 238.3h0.95M48.9 221.6h0.95M46.8 234.8h0.95M102.4 250.2h0.95M53.1 220.7h0.95M60.2 223.1h0.95M53.0 230.7h0.95M59.3 226.9h0.95M67.5 232.1h0.95M57.6 218.1h0.95M46.4 227.4h0.95M48.4 229.2h0.95M76.6 252.8h0.95M105.3 244.5h0.95M89.8 239.6h0.95M97.1 250.1h0.95M54.7 198.0h0.95M95.4 236.1h0.95M60.2 201.4h0.95M44.6 230.6h0.95M101.1 238.2h0.95M80.0 233.3h0.95M64.8 221.1h0.95M80.0 203.1h0.95M99.5 232.2h0.95M57.9 198.1h0.95M83.1 241.1h0.95M54.9 219.8h0.95M66.4 216.2h0.95M46.4 207.7h0.95M92.2 223.1h0.95M67.7 247.3h0.95M64.1 233.0h0.95M45.3 225.0h0.95M42.4 220.6h0.95M48.7 224.5h0.95M103.5 245.5h0.95M41.3 217.0h0.95M67.9 214.9h0.95M81.8 217.0h0.95M94.5 245.9h0.95M45.0 216.4h0.95M74.1 219.1h0.95M77.8 230.1h0.95M95.3 251.6h0.95M62.1 225.4h0.95M44.7 220.1h0.95M108.7 230.5h0.95M91.5 220.9h0.95M55.5 217.4h0.95M48.5 209.6h0.95M70.2 210.3h0.95M97.7 246.4h0.95M45.3 223.0h0.95M69.0 201.4h0.95M79.0 204.4h0.95M105.5 242.3h0.95M44.1 198.1h0.95M41.3 230.9h0.95M85.6 231.3h0.95M53.1 207.2h0.95M94.5 237.9h0.95M53.8 218.6h0.95M75.4 227.2h0.95M54.3 226.5h0.95M78.5 214.9h0.95M74.7 217.6h0.95M80.7 215.8h0.95M57.6 219.4h0.95M96.8 223.7h0.95M50.2 236.0h0.95M86.0 234.7h0.95M49.4 205.4h0.95M77.8 204.6h0.95M58.9 227.1h0.95M85.5 210.4h0.95M103.0 242.1h0.95M105.3 258.1h0.95M56.7 214.5h0.95M76.2 254.7h0.95M104.5 254.1h0.95M58.1 224.0h0.95M50.8 230.9h0.95M56.9 232.6h0.95M88.8 219.1h0.95M48.9 213.4h0.95M93.7 217.7h0.95M94.8 239.5h0.95M73.3 227.9h0.95M105.2 228.8h0.95M55.6 215.9h0.95M47.2 235.4h0.95M64.3 223.4h0.95M85.5 217.4h0.95M61.2 249.8h0.95M92.7 224.7h0.95M100.0 219.1h0.95M68.8 230.9h0.95M50.1 206.5h0.95M43.3 240.0h0.95M103.0 228.3h0.95M51.9 203.4h0.95M78.8 232.3h0.95M57.9 215.8h0.95M98.6 241.2h0.95M63.7 234.2h0.95M54.6 214.9h0.95M86.5 254.0h0.95M72.9 223.8h0.95M100.9 254.3h0.95M41.7 225.7h0.95M92.1 223.4h0.95M95.6 239.4h0.95M92.3 249.2h0.95M79.1 236.4h0.95M41.4 226.6h0.95M80.8 243.3h0.95M67.2 227.1h0.95M83.6 215.7h0.95M48.6 224.1h0.95M42.9 203.3h0.95M58.2 229.1h0.95M56.1 228.1h0.95M94.7 247.9h0.95M57.9 219.7h0.95M54.9 201.2h0.95M91.6 222.2h0.95M76.6 242.8h0.95M82.7 241.5h0.95M61.5 213.5h0.95M70.3 222.8h0.95M82.0 224.3h0.95M57.4 208.5h0.95M97.5 251.1h0.95M46.7 222.0h0.95M71.1 250.6h0.95M99.0 236.5h0.95M82.4 236.3h0.95M62.0 230.8h0.95M74.6 251.6h0.95M50.4 208.6h0.95M55.6 193.7h0.95M83.9 231.8h0.95M61.0 216.6h0.95M85.9 243.7h0.95M77.5 220.7h0.95M69.6 208.8h0.95M82.2 216.0h0.95M50.7 230.5h0.95M63.0 211.8h0.95M66.2 221.6h0.95M107.5 221.1h0.95M48.7 223.1h0.95M46.0 233.1h0.95M46.2 235.6h0.95M47.0 239.6h0.95M84.9 234.6h0.95M90.3 225.9h0.95M56.1 205.5h0.95M104.4 237.2h0.95M68.8 227.0h0.95M49.3 203.9h0.95M51.9 202.4h0.95M89.2 209.1h0.95M51.4 216.0h0.95M90.7 206.9h0.95M47.3 211.6h0.95M49.8 235.2h0.95M107.7 235.5h0.95M41.2 222.9h0.95M49.1 239.6h0.95M73.9 222.5h0.95M56.1 208.9h0.95M51.9 230.2h0.95M104.6 244.9h0.95M93.4 255.2h0.95M52.6 223.3h0.95M70.9 220.0h0.95M84.2 245.5h0.95M48.4 231.5h0.95M42.7 207.9h0.95M68.4 232.6h0.95M105.2 234.4h0.95M80.8 246.2h0.95M56.0 246.8h0.95M55.2 204.3h0.95M59.7 230.3h0.95M90.2 218.0h0.95M97.4 216.6h0.95M92.3 226.8h0.95M94.9 256.1h0.95M85.8 243.2h0.95M44.5 225.3h0.95M52.2 229.0h0.95M49.1 213.5h0.95M97.6 224.6h0.95M86.7 243.5h0.95M41.4 230.2h0.95M107.1 221.2h0.95M43.2 238.0h0.95M56.6 231.4h0.95M56.8 226.3h0.95M41.3 226.1h0.95M54.9 227.8h0.95M66.2 227.1h0.95M55.5 223.1h0.95M51.7 210.2h0.95M103.5 233.5h0.95M43.8 204.9h0.95M72.1 239.8h0.95M61.0 225.9h0.95M93.2 234.3h0.95M93.1 249.5h0.95M45.7 238.2h0.95M68.1 247.4h0.95M99.6 254.4h0.95M106.9 224.9h0.95M75.6 210.6h0.95M46.1 208.7h0.95M59.8 236.0h0.95M97.5 234.7h0.95M81.2 219.4h0.95M53.6 197.2h0.95M49.2 238.6h0.95M66.2 219.1h0.95M105.7 236.7h0.95M92.5 241.7h0.95M51.3 206.4h0.95M78.6 221.0h0.95M90.6 243.6h0.95M68.4 231.1h0.95M52.3 243.2h0.95M88.4 236.9h0.95M99.8 221.1h0.95M56.0 238.2h0.95M46.2 217.0h0.95M59.0 230.3h0.95M105.3 239.3h0.95M85.9 230.8h0.95M90.0 220.5h0.95M45.4 225.2h0.95M42.1 210.6h0.95M42.8 225.6h0.95M62.2 215.2h0.95M73.0 213.5h0.95M73.7 251.3h0.95M84.4 228.2h0.95M93.3 232.6h0.95M46.0 214.5h0.95M67.1 207.2h0.95M73.8 229.3h0.95M107.0 227.9h0.95M100.3 254.9h0.95M63.3 218.3h0.95M50.3 237.1h0.95M71.1 244.8h0.95M50.4 219.4h0.95M88.8 223.7h0.95M54.6 239.2h0.95M41.5 203.4h0.95M72.3 245.6h0.95M107.1 227.1h0.95M58.6 236.1h0.95M52.7 215.1h0.95M93.0 231.0h0.95M76.1 235.3h0.95M67.2 237.4h0.95M41.6 191.4h0.95M42.6 216.6h0.95M60.5 210.1h0.95M93.2 214.1h0.95M62.8 228.9h0.95M54.8 198.4h0.95M106.3 257.3h0.95M101.3 242.8h0.95M53.1 223.7h0.95M46.5 225.0h0.95M65.6 211.8h0.95M50.5 224.0h0.95M52.3 200.5h0.95M98.4 249.6h0.95M65.1 226.6h0.95M58.6 238.6h0.95M82.0 243.2h0.95M101.0 239.4h0.95M103.4 232.2h0.95M104.4 235.1h0.95M41.4 239.0h0.95M68.6 214.8h0.95M50.7 221.5h0.95M75.1 228.3h0.95M43.7 227.2h0.95M73.3 212.7h0.95M52.2 228.4h0.95M68.7 213.3h0.95M74.7 229.2h0.95M83.7 242.4h0.95M42.9 207.5h0.95M98.5 238.8h0.95M94.9 228.6h0.95M97.8 224.7h0.95M59.8 242.9h0.95M64.0 219.8h0.95M91.7 230.8h0.95M41.5 222.7h0.95M92.7 238.4h0.95M65.4 212.6h0.95M72.0 239.7h0.95M66.4 236.0h0.95M108.2 254.2h0.95M44.7 218.6h0.95M90.5 240.3h0.95M79.3 239.6h0.95M88.8 221.2h0.95M61.1 220.4h0.95M99.1 211.4h0.95M63.3 211.6h0.95M59.0 226.8h0.95M85.8 249.0h0.95M67.4 211.7h0.95M46.9 233.6h0.95M44.2 194.1h0.95M43.6 230.1h0.95M82.4 251.2h0.95M79.5 252.0h0.95M45.0 220.2h0.95M66.3 228.2h0.95M81.1 221.4h0.95M102.5 225.4h0.95M52.4 221.0h0.95M56.9 230.9h0.95M80.2 235.4h0.95M104.3 246.3h0.95M78.6 215.3h0.95M102.9 210.5h0.95M53.5 223.1h0.95M80.7 251.2h0.95M78.1 235.2h0.95M93.9 229.9h0.95M62.3 220.1h0.95M96.8 254.5h0.95M50.1 217.1h0.95M57.3 242.9h0.95M92.1 231.5h0.95M66.3 245.5h0.95M103.9 226.4h0.95M87.9 247.6h0.95M105.1 244.8h0.95M62.7 211.9h0.95M103.8 232.3h0.95M67.6 235.8h0.95M54.9 230.7h0.95M99.7 228.4h0.95M45.4 198.6h0.95M69.8 248.8h0.95M52.1 239.2h0.95M91.0 248.3h0.95M50.6 209.3h0.95M76.5 238.9h0.95M42.9 192.6h0.95M68.5 219.1h0.95M97.7 224.5h0.95M47.8 240.7h0.95M70.6 219.4h0.95M78.0 212.8h0.95M76.0 251.4h0.95M42.0 240.3h0.95M50.1 245.9h0.95M91.5 235.3h0.95M101.3 221.6h0.95M42.5 219.3h0.95M92.9 235.0h0.95M42.2 245.9h0.95M78.2 217.2h0.95M70.2 224.0h0.95M57.5 213.7h0.95M66.9 218.8h0.95M61.5 224.5h0.95M80.6 231.0h0.95M96.9 230.7h0.95M104.8 251.8h0.95M55.6 215.0h0.95M72.9 242.8h0.95M58.2 230.5h0.95M67.8 225.4h0.95M65.9 239.5h0.95M69.7 250.0h0.95M52.6 222.1h0.95M57.1 213.0h0.95M103.5 210.4h0.95M42.9 235.5h0.95M56.2 244.5h0.95M63.6 228.0h0.95M42.5 224.5h0.95M55.6 231.3h0.95M55.8 232.2h0.95M100.1 216.0h0.95M60.0 228.6h0.95M108.0 229.5h0.95M83.2 216.4h0.95M89.8 222.5h0.95M92.0 243.4h0.95M55.4 209.7h0.95M56.2 214.2h0.95M91.7 236.0h0.95M45.0 215.8h0.95M85.1 221.8h0.95M98.5 216.9h0.95M52.2 220.6h0.95M49.3 231.6h0.95M49.7 207.9h0.95M66.5 253.1h0.95M101.0 226.6h0.95M53.2 228.8h0.95M42.7 225.7h0.95M102.1 240.5h0.95M68.0 250.8h0.95M43.4 249.3h0.95M93.4 229.8h0.95M87.1 238.3h0.95M48.1 200.4h0.95M44.3 232.5h0.95M64.9 229.9h0.95M65.5 238.1h0.95M81.5 233.7h0.95M91.5 246.9h0.95M58.2 231.7h0.95M82.4 244.1h0.95M54.0 236.1h0.95M83.9 252.8h0.95M46.1 224.9h0.95M81.4 237.5h0.95M55.7 207.1h0.95M64.0 234.6h0.95M93.2 255.7h0.95M78.3 224.2h0.95M45.2 217.3h0.95M95.9 251.2h0.95M96.0 239.9h0.95M66.1 230.3h0.95M90.0 239.9h0.95M42.2 193.4h0.95M78.3 237.7h0.95M46.5 211.3h0.95M98.3 239.3h0.95M52.6 206.7h0.95M44.7 254.3h0.95M42.8 218.5h0.95M44.6 225.5h0.95M43.8 237.1h0.95M84.7 227.4h0.95M44.8 235.6h0.95M80.3 240.0h0.95M75.5 255.8h0.95M70.3 218.6h0.95M104.2 222.8h0.95M57.2 218.5h0.95M96.1 250.8h0.95M64.0 226.5h0.95M75.2 224.7h0.95M106.4 242.2h0.95M83.3 228.3h0.95M77.6 231.4h0.95M49.9 215.8h0.95M93.2 235.4h0.95M52.9 214.8h0.95M108.5 257.4h0.95M105.5 246.3h0.95M71.7 239.8h0.95M83.3 230.7h0.95M85.3 220.1h0.95M41.8 216.2h0.95M52.6 220.5h0.95M95.1 246.0h0.95M57.4 235.4h0.95M44.8 202.0h0.95M41.5 228.9h0.95M60.6 211.1h0.95M81.3 234.3h0.95M96.1 228.3h0.95M43.5 225.4h0.95M90.8 249.4h0.95M55.6 240.8h0.95M88.3 228.7h0.95M79.8 238.4h0.95M88.1 247.7h0.95M68.6 221.3h0.95M75.1 201.8h0.95M58.5 242.7h0.95M67.5 227.9h0.95M104.5 228.7h0.95M54.1 216.1h0.95M87.6 228.0h0.95M77.1 229.6h0.95M58.9 227.0h0.95M91.3 223.7h0.95M89.7 248.3h0.95M46.5 211.8h0.95M75.8 227.8h0.95M46.7 206.6h0.95M52.3 234.6h0.95M43.0 226.7h0.95M69.7 237.7h0.95M82.5 245.9h0.95M54.1 218.3h0.95M56.0 240.8h0.95M58.1 229.3h0.95M75.5 229.3h0.95M42.8 196.5h0.95M76.4 209.1h0.95M41.3 199.8h0.95M108.3 232.6h0.95M53.1 216.3h0.95M84.2 223.6h0.95M54.1 207.7h0.95M78.6 238.8h0.95M53.6 225.0h0.95M83.3 225.0h0.95M88.8 245.5h0.95M47.3 228.7h0.95M106.5 221.0h0.95M57.7 225.3h0.95M80.2 241.0h0.95M94.9 248.1h0.95M74.0 247.1h0.95M95.5 239.5h0.95M50.4 218.5h0.95M102.2 243.0h0.95M62.5 221.9h0.95M72.7 217.7h0.95M69.8 230.2h0.95M79.5 238.5h0.95M81.5 250.5h0.95M50.7 230.5h0.95M45.1 229.9h0.95M65.6 224.4h0.95M53.3 206.1h0.95M55.7 208.8h0.95M54.2 222.6h0.95M40.7 191.6h0.95M78.9 246.1h0.95M57.1 219.7h0.95M46.1 229.2h0.95M107.9 246.4h0.95M74.8 233.9h0.95M43.9 208.0h0.95M41.4 207.1h0.95M68.9 250.6h0.95M82.5 223.8h0.95M90.4 224.0h0.95M47.1 208.9h0.95M76.6 210.9h0.95M84.2 216.5h0.95M102.7 249.6h0.95M68.0 212.8h0.95M105.6 233.9h0.95M41.3 200.6h0.95M48.7 243.1h0.95M42.6 216.5h0.95M55.2 251.2h0.95M52.6 196.8h0.95M59.9 240.5h0.95M74.1 215.8h0.95M98.0 251.3h0.95M40.9 195.9h0.95M41.4 221.7h0.95M41.1 208.5h0.95M82.7 213.0h0.95M68.3 226.6h0.95M66.7 239.9h0.95M55.2 216.0h0.95M91.3 218.5h0.95M50.6 210.7h0.95M57.6 235.2h0.95M107.7 234.9h0.95M55.9 222.8h0.95M107.8 249.3h0.95M82.2 232.8h0.95M77.7 238.0h0.95M86.8 217.7h0.95M62.4 225.2h0.95M93.3 229.7h0.95M43.7 230.1h0.95M48.5 215.2h0.95M72.4 244.7h0.95M41.7 243.3h0.95M42.3 216.7h0.95M46.3 197.3h0.95M71.7 210.9h0.95M79.2 237.9h0.95M72.5 233.4h0.95M53.3 222.7h0.95M99.0 231.6h0.95M99.3 225.3h0.95M45.7 231.8h0.95M60.1 233.6h0.95M95.3 238.3h0.95M81.7 242.0h0.95M55.7 196.5h0.95M54.3 233.5h0.95M54.3 215.2h0.95M106.5 224.7h0.95M50.4 222.6h0.95M93.4 226.6h0.95M76.6 225.6h0.95M84.2 232.0h0.95M64.4 223.6h0.95M85.2 241.5h0.95M49.4 216.0h0.95M49.1 226.0h0.95M60.1 235.7h0.95M91.2 218.8h0.95M100.5 257.0h0.95M107.7 258.2h0.95M62.4 217.7h0.95M76.4 232.3h0.95M53.6 210.5h0.95M99.7 234.8h0.95M61.7 220.4h0.95M65.1 238.4h0.95M92.3 239.7h0.95M54.8 197.6h0.95M100.6 243.9h0.95M96.7 233.6h0.95M101.7 244.3h0.95M63.4 230.9h0.95M58.6 230.1h0.95M47.4 206.1h0.95M94.6 232.8h0.95M108.1 239.0h0.95M89.0 250.6h0.95M44.6 204.7h0.95M45.1 235.8h0.95M70.3 239.6h0.95M73.1 221.1h0.95M77.4 232.6h0.95M45.4 195.1h0.95M69.9 228.5h0.95M83.6 224.3h0.95M46.3 234.2h0.95M85.7 247.3h0.95M72.5 253.5h0.95M85.4 249.2h0.95M55.0 224.6h0.95M76.3 241.4h0.95M63.7 221.2h0.95M73.1 233.1h0.95M40.9 219.7h0.95M57.1 233.5h0.95M96.3 247.2h0.95M106.7 236.0h0.95M84.6 221.6h0.95M99.2 246.2h0.95M46.2 215.8h0.95M56.6 231.3h0.95M95.7 252.5h0.95M54.1 215.9h0.95M104.3 246.2h0.95M102.5 212.6h0.95M82.4 233.7h0.95M62.4 233.1h0.95M57.2 223.9h0.95M89.2 259.1h0.95M100.0 246.2h0.95M92.0 234.7h0.95M82.9 217.1h0.95M106.5 235.6h0.95M93.2 232.1h0.95M102.0 256.4h0.95M61.8 214.7h0.95M43.8 240.6h0.95M104.4 255.4h0.95M51.0 201.5h0.95M48.1 211.4h0.95M77.3 226.9h0.95M102.7 213.0h0.95M98.6 250.4h0.95M76.6 222.7h0.95M53.0 231.8h0.95M40.8 209.2h0.95M97.1 210.2h0.95M75.5 210.0h0.95M82.2 227.6h0.95M84.2 242.8h0.95M77.5 234.4h0.95M57.7 209.0h0.95M81.1 230.5h0.95M99.7 224.8h0.95M92.5 239.9h0.95M75.8 229.7h0.95M55.5 218.8h0.95M66.1 240.5h0.95M53.1 233.6h0.95M64.1 220.3h0.95M51.5 204.2h0.95M56.7 221.0h0.95M101.5 246.5h0.95M90.0 237.0h0.95M66.7 211.0h0.95M60.6 226.4h0.95M82.8 223.2h0.95M53.8 217.8h0.95M48.7 229.8h0.95M50.2 226.5h0.95M58.7 237.2h0.95M106.6 241.5h0.95M50.5 248.9h0.95M53.3 214.3h0.95M85.2 218.8h0.95M91.8 236.8h0.95M45.7 213.9h0.95M107.4 230.4h0.95M46.4 244.7h0.95M73.7 231.2h0.95M45.3 210.3h0.95M50.7 233.2h0.95M49.0 240.1h0.95M59.4 229.9h0.95M52.0 220.2h0.95M51.5 234.7h0.95M53.5 230.7h0.95M95.0 237.1h0.95M91.5 237.0h0.95M105.0 251.9h0.95M56.5 231.9h0.95M62.2 227.4h0.95M49.9 220.7h0.95M61.2 215.3h0.95M61.1 236.8h0.95M65.7 239.7h0.95M82.8 215.4h0.95M62.5 249.4h0.95M101.6 220.4h0.95M98.5 237.2h0.95M103.1 247.4h0.95M56.4 229.7h0.95M55.8 215.9h0.95M58.8 233.1h0.95M73.9 237.1h0.95M44.8 220.2h0.95M108.1 245.5h0.95M59.1 212.8h0.95M43.1 221.8h0.95M104.7 243.6h0.95M85.5 237.2h0.95M72.9 224.6h0.95M46.7 193.8h0.95M90.1 252.5h0.95M42.6 223.9h0.95M47.0 204.5h0.95M43.7 200.3h0.95M68.5 224.8h0.95M90.4 227.7h0.95M107.7 224.0h0.95M84.0 248.8h0.95M64.2 254.3h0.95M77.0 229.9h0.95M49.8 215.7h0.95M108.4 215.7h0.95M93.8 238.5h0.95M103.4 224.5h0.95M98.9 236.3h0.95M49.3 206.5h0.95M105.1 235.9h0.95M48.8 210.4h0.95M104.4 246.5h0.95M41.9 215.5h0.95M84.1 238.0h0.95M95.5 224.9h0.95M45.7 221.9h0.95M67.1 233.7h0.95M44.6 200.6h0.95M79.3 220.5h0.95M46.1 217.0h0.95M104.5 256.2h0.95M66.3 212.8h0.95M73.7 244.4h0.95M92.3 216.2h0.95M50.9 241.8h0.95M104.7 253.3h0.95M94.6 225.1h0.95M69.7 219.6h0.95M43.9 213.0h0.95M85.3 237.9h0.95M82.5 234.6h0.95M101.0 247.2h0.95M50.3 229.7h0.95M102.8 233.8h0.95M69.3 220.2h0.95M50.3 218.2h0.95M69.5 214.1h0.95M48.6 203.4h0.95M98.0 242.1h0.95M70.2 206.3h0.95M107.1 244.7h0.95M105.5 247.5h0.95M65.3 249.7h0.95M53.0 210.9h0.95M52.3 237.9h0.95M73.4 227.1h0.95M55.4 218.7h0.95M87.9 235.6h0.95M60.1 228.9h0.95M84.4 207.6h0.95M48.5 212.8h0.95M69.2 223.7h0.95M82.3 253.9h0.95M83.3 234.4h0.95M61.8 217.0h0.95M87.8 234.7h0.95M53.8 192.6h0.95M88.4 224.6h0.95M92.5 237.4h0.95M53.3 234.1h0.95M99.8 226.1h0.95M56.0 239.8h0.95M77.8 227.2h0.95M50.0 220.9h0.95M106.7 221.7h0.95M95.9 250.5h0.95M74.2 230.6h0.95M58.4 217.7h0.95M104.6 218.6h0.95M54.2 230.6h0.95M72.0 218.5h0.95M99.7 240.4h0.95M72.4 236.6h0.95M46.5 222.5h0.95M71.6 234.9h0.95M100.9 216.5h0.95M95.6 248.3h0.95M102.6 239.3h0.95M72.0 210.2h0.95M101.9 237.4h0.95M40.8 214.9h0.95M77.7 225.7h0.95M65.3 238.5h0.95M105.3 227.3h0.95M43.1 226.3h0.95M95.8 252.7h0.95M65.6 205.4h0.95M88.5 239.3h0.95M103.9 251.1h0.95M42.0 217.1h0.95M102.2 250.4h0.95M71.1 221.6h0.95M108.2 232.9h0.95M79.1 221.9h0.95M56.0 215.6h0.95M99.1 246.8h0.95M41.1 216.6h0.95M103.8 234.6h0.95M91.1 224.4h0.95M105.7 236.6h0.95M52.2 221.7h0.95M58.5 244.1h0.95M89.6 217.2h0.95M42.9 226.7h0.95M55.3 242.4h0.95M94.6 227.3h0.95M74.9 235.7h0.95M64.4 254.2h0.95M43.1 228.0h0.95M107.2 222.9h0.95M44.6 226.1h0.95M93.2 225.5h0.95M51.8 227.7h0.95M84.6 213.4h0.95M67.3 232.5h0.95M78.3 226.4h0.95M65.4 226.6h0.95M90.3 204.9h0.95M95.7 214.8h0.95M106.0 247.6h0.95M80.6 227.5h0.95M73.7 230.3h0.95M97.0 207.8h0.95M49.8 213.5h0.95M42.5 222.6h0.95M59.4 217.6h0.95M59.9 225.3h0.95M72.9 218.3h0.95M49.2 216.7h0.95M58.4 218.1h0.95M50.4 210.5h0.95M74.5 226.2h0.95M57.4 220.2h0.95M102.1 226.9h0.95M47.8 204.4h0.95M57.7 219.2h0.95M77.9 252.4h0.95M79.8 225.0h0.95M76.2 254.8h0.95M99.9 220.2h0.95M100.6 232.0h0.95M40.8 231.9h0.95M80.0 221.6h0.95M86.9 231.2h0.95M101.3 226.1h0.95M48.0 240.2h0.95M56.8 217.2h0.95M51.4 206.7h0.95M49.1 200.9h0.95M89.8 243.3h0.95M52.9 224.7h0.95M96.6 246.3h0.95M79.8 224.2h0.95M68.8 227.1h0.95M59.9 233.6h0.95M51.9 255.1h0.95M74.5 224.6h0.95M68.2 239.8h0.95M86.9 238.8h0.95M87.0 242.5h0.95M102.1 238.2h0.95M46.0 242.7h0.95M95.0 248.5h0.95M56.1 211.2h0.95M104.3 238.4h0.95M90.7 238.1h0.95M68.1 240.6h0.95M44.4 227.6h0.95M68.5 213.8h0.95M88.9 235.9h0.95M50.0 197.2h0.95M80.5 218.4h0.95M91.8 217.8h0.95M98.3 248.8h0.95M44.0 214.3h0.95M75.2 220.1h0.95M72.9 228.9h0.95M104.4 243.5h0.95M49.8 213.5h0.95M46.7 226.5h0.95M89.6 243.3h0.95M54.7 230.3h0.95M80.3 245.8h0.95M53.7 222.2h0.95M108.1 240.6h0.95M104.9 230.1h0.95M76.7 232.1h0.95M91.7 228.8h0.95M53.1 221.3h0.95M78.0 220.7h0.95M43.4 213.9h0.95M98.8 230.3h0.95M104.5 244.8h0.95M67.6 226.0h0.95M50.1 209.9h0.95M44.9 219.9h0.95M72.4 238.5h0.95M53.4 208.9h0.95M55.3 230.9h0.95M105.0 251.8h0.95M104.1 230.2h0.95M41.3 228.3h0.95M72.9 217.2h0.95M75.8 202.0h0.95M88.6 221.2h0.95M73.9 225.0h0.95M54.4 230.9h0.95M49.1 231.7h0.95M42.6 216.8h0.95M100.6 231.2h0.95M72.4 253.1h0.95M98.2 229.0h0.95M57.5 239.7h0.95M83.7 223.1h0.95M88.4 245.2h0.95M45.2 230.8h0.95M69.8 217.9h0.95M56.6 237.9h0.95M101.9 248.5h0.95M65.1 236.5h0.95M64.9 194.4h0.95M51.0 203.3h0.95M43.2 233.8h0.95M100.4 243.8h0.95M103.2 235.1h0.95M96.4 232.1h0.95M62.6 223.1h0.95M46.7 219.6h0.95M43.1 230.4h0.95M64.2 223.5h0.95M64.7 237.5h0.95M94.6 252.1h0.95M53.9 229.8h0.95M54.0 227.9h0.95M52.5 240.9h0.95M96.1 220.5h0.95M53.4 210.6h0.95M90.5 219.7h0.95M68.8 216.3h0.95M66.3 223.2h0.95M104.1 255.8h0.95M42.1 216.0h0.95M99.6 252.3h0.95M53.7 207.8h0.95M97.6 236.4h0.95M101.6 220.7h0.95M88.7 207.9h0.95M52.4 203.0h0.95M42.8 213.0h0.95M46.9 213.4h0.95M40.9 236.1h0.95M47.9 225.4h0.95M59.1 232.8h0.95M52.7 226.1h0.95M75.5 236.6h0.95M80.2 223.9h0.95M61.3 227.9h0.95M42.8 206.5h0.95M48.5 246.6h0.95M93.5 236.2h0.95M82.0 209.3h0.95M59.4 250.7h0.95M78.3 206.9h0.95M90.5 226.8h0.95M52.4 204.2h0.95M101.8 240.3h0.95M72.4 218.1h0.95M75.4 236.9h0.95M92.1 231.9h0.95M84.5 248.4h0.95M68.6 237.0h0.95M52.1 196.8h0.95M76.3 213.0h0.95M92.7 239.2h0.95M51.7 227.1h0.95M73.9 207.8h0.95M56.0 241.1h0.95M80.6 229.6h0.95M108.3 232.0h0.95M47.5 220.8h0.95M55.1 217.1h0.95M82.7 223.6h0.95M49.9 234.1h0.95M69.5 237.0h0.95M105.8 227.0h0.95M68.8 232.3h0.95M96.7 213.0h0.95M88.9 230.1h0.95M43.3 238.8h0.95M56.6 211.3h0.95M67.3 250.8h0.95M100.1 243.2h0.95M44.9 228.4h0.95M47.6 201.4h0.95M66.1 218.2h0.95M105.7 223.0h0.95M106.8 227.5h0.95M90.4 246.9h0.95M90.8 242.7h0.95M80.8 218.1h0.95M86.5 233.8h0.95M72.5 237.0h0.95M98.0 218.2h0.95M45.4 227.1h0.95M88.1 244.1h0.95M56.4 206.8h0.95M46.9 205.4h0.95M46.1 232.9h0.95M46.7 229.8h0.95M93.7 243.9h0.95M82.4 227.0h0.95M55.9 210.1h0.95M101.7 241.7h0.95M59.7 217.2h0.95M54.6 219.2h0.95M105.6 220.8h0.95M93.3 245.8h0.95M88.4 236.7h0.95M73.2 221.6h0.95M50.3 206.2h0.95M99.4 229.5h0.95M82.5 224.2h0.95M87.3 228.7h0.95M49.7 229.5h0.95M90.8 237.9h0.95M46.6 235.2h0.95M90.3 241.4h0.95M94.7 242.3h0.95M44.7 213.1h0.95M103.7 248.5h0.95M88.8 248.6h0.95M56.0 220.3h0.95M56.6 225.8h0.95M70.2 257.5h0.95M70.8 239.5h0.95M46.8 211.0h0.95M72.0 232.5h0.95M62.3 212.3h0.95M51.3 206.7h0.95M53.8 229.0h0.95M50.3 237.3h0.95M43.7 219.9h0.95M91.0 230.4h0.95M78.5 212.4h0.95M51.3 220.5h0.95M67.8 228.2h0.95M44.4 218.5h0.95M74.3 236.5h0.95M97.7 212.1h0.95M58.0 195.3h0.95M95.0 239.7h0.95M83.7 211.0h0.95M98.7 245.5h0.95M83.5 244.3h0.95M71.5 217.7h0.95M73.6 252.1h0.95M102.3 213.4h0.95M75.1 241.0h0.95M84.4 240.5h0.95M49.1 202.9h0.95M40.9 226.7h0.95M107.6 253.1h0.95M89.5 245.9h0.95M106.3 237.1h0.95M52.5 225.4h0.95M65.9 223.5h0.95M55.3 220.2h0.95M51.5 201.7h0.95M85.4 249.9h0.95M58.2 219.0h0.95M76.5 239.8h0.95M105.7 229.2h0.95M55.7 243.5h0.95M52.1 236.9h0.95M69.2 224.3h0.95M51.7 220.1h0.95M105.1 234.5h0.95M58.6 210.8h0.95M97.0 235.1h0.95M106.6 235.0h0.95M97.7 218.7h0.95M56.1 214.0h0.95M106.8 248.8h0.95M66.5 232.9h0.95M72.5 223.9h0.95M102.7 223.7h0.95M66.8 229.9h0.95M53.7 206.5h0.95M77.0 251.1h0.95M75.8 236.3h0.95M64.9 230.6h0.95M98.2 220.4h0.95M68.6 238.3h0.95M51.2 233.4h0.95M46.0 219.2h0.95M43.8 202.7h0.95M47.3 229.8h0.95M93.5 249.9h0.95M92.1 230.4h0.95M81.2 222.9h0.95M50.8 202.7h0.95M42.4 207.5h0.95M50.1 212.5h0.95M81.7 234.3h0.95M78.1 233.1h0.95M45.8 196.2h0.95M93.1 245.5h0.95M42.0 220.4h0.95M49.7 225.8h0.95M58.3 233.6h0.95M87.9 227.0h0.95M47.5 192.1h0.95M87.7 224.9h0.95M52.1 241.4h0.95M59.3 244.1h0.95M66.5 216.1h0.95M60.0 194.8h0.95M108.7 252.5h0.95M98.7 239.9h0.95M96.1 232.6h0.95M88.6 232.8h0.95M48.4 234.0h0.95M46.3 253.7h0.95M101.0 243.4h0.95M72.4 218.2h0.95M51.8 207.3h0.95M83.7 232.2h0.95M59.1 202.4h0.95M97.8 223.4h0.95M75.2 239.4h0.95M73.7 232.7h0.95M57.4 228.7h0.95M45.3 227.0h0.95M81.8 220.4h0.95M80.9 218.6h0.95M44.8 202.4h0.95M106.2 244.0h0.95M42.8 224.8h0.95M62.4 225.3h0.95M55.7 228.9h0.95M85.2 236.8h0.95M97.3 240.4h0.95M42.3 239.6h0.95M98.9 227.7h0.95M88.9 242.8h0.95M62.2 221.5h0.95M95.3 257.1h0.95M51.4 221.5h0.95M84.5 226.4h0.95M51.0 230.3h0.95M50.1 220.7h0.95M103.7 238.4h0.95M49.4 216.3h0.95M69.7 239.1h0.95M104.6 213.3h0.95M106.0 234.7h0.95M78.6 223.3h0.95M80.0 229.8h0.95M48.0 216.3h0.95M68.6 220.4h0.95M60.4 222.8h0.95M54.4 206.0h0.95M42.1 212.2h0.95M50.1 232.2h0.95M105.8 222.6h0.95M48.8 236.4h0.95M100.7 238.0h0.95M43.8 232.2h0.95M100.7 235.8h0.95M45.5 202.6h0.95M66.7 240.6h0.95M102.7 241.0h0.95M92.9 248.7h0.95M76.1 243.2h0.95M68.9 242.4h0.95M70.8 203.8h0.95M106.9 239.2h0.95M52.6 205.6h0.95M63.9 229.2h0.95M97.6 253.8h0.95M99.1 228.1h0.95M85.5 239.5h0.95M79.4 254.7h0.95M69.0 222.6h0.95M105.0 241.1h0.95M102.5 238.3h0.95M41.7 213.7h0.95M84.1 217.5h0.95M72.5 242.7h0.95M41.2 214.8h0.95M43.3 232.6h0.95M61.0 213.8h0.95M92.6 234.6h0.95M106.8 232.5h0.95M86.0 226.4h0.95M80.5 221.7h0.95M104.5 233.6h0.95M48.2 226.3h0.95M70.1 242.8h0.95M92.3 225.2h0.95M76.6 236.0h0.95M66.9 202.2h0.95M85.9 235.5h0.95M76.8 244.9h0.95M80.8 250.5h0.95M91.1 211.7h0.95M82.3 230.3h0.95M101.1 238.0h0.95M64.1 247.5h0.95M81.5 227.9h0.95M76.3 239.8h0.95M72.1 220.0h0.95M77.8 218.4h0.95M48.3 245.5h0.95M46.6 227.6h0.95M70.2 222.2h0.95M98.1 249.9h0.95M79.1 247.4h0.95M89.3 251.5h0.95M97.6 245.1h0.95M68.6 237.2h0.95M69.1 229.6h0.95M96.6 225.2h0.95M104.0 255.0h0.95M92.9 234.8h0.95M47.2 234.7h0.95M43.9 211.7h0.95M46.4 214.7h0.95M51.0 229.0h0.95M41.7 227.8h0.95M74.1 228.3h0.95M90.8 231.8h0.95M106.3 237.3h0.95M47.4 219.4h0.95M54.6 216.9h0.95M85.7 236.2h0.95M82.7 253.7h0.95M104.0 229.4h0.95M61.9 237.5h0.95M44.9 243.3h0.95M53.8 224.6h0.95M104.7 231.7h0.95M42.8 214.2h0.95M66.7 208.2h0.95M66.1 246.9h0.95M49.0 226.2h0.95M101.6 237.2h0.95M61.3 218.9h0.95M50.6 201.2h0.95M91.5 217.8h0.95M52.3 222.5h0.95M53.3 215.7h0.95M55.6 218.2h0.95M44.3 207.5h0.95M79.1 226.7h0.95M69.0 233.1h0.95M83.8 222.7h0.95M101.3 252.5h0.95M81.6 232.6h0.95M50.0 213.6h0.95M79.0 240.0h0.95M74.2 241.3h0.95M94.9 249.8h0.95M57.2 211.0h0.95M106.2 238.6h0.95M108.1 238.6h0.95M97.7 224.1h0.95M68.3 236.2h0.95M47.4 210.5h0.95M105.0 232.3h0.95M41.6 217.1h0.95M87.7 240.6h0.95M62.2 223.4h0.95M95.0 236.1h0.95M63.9 219.6h0.95M81.2 227.8h0.95M65.3 222.4h0.95M46.3 244.0h0.95M85.4 241.0h0.95M68.7 211.5h0.95M106.1 251.8h0.95M98.4 230.3h0.95M93.0 223.9h0.95M104.0 214.6h0.95M51.5 221.6h0.95M71.5 223.8h0.95M60.3 250.4h0.95M46.3 199.5h0.95M53.4 216.0h0.95M98.3 235.3h0.95M51.5 203.9h0.95M69.2 247.4h0.95M89.3 236.8h0.95M75.2 232.9h0.95M92.7 237.0h0.95M83.2 240.0h0.95M98.0 213.4h0.95M86.0 249.7h0.95M42.6 197.9h0.95M49.8 219.2h0.95M83.2 239.9h0.95M72.4 228.9h0.95M58.2 216.3h0.95M54.1 206.1h0.95M58.2 231.9h0.95M58.3 233.1h0.95M95.3 211.9h0.95M72.0 229.4h0.95M95.5 243.4h0.95M95.9 250.5h0.95M94.0 234.2h0.95M44.3 220.4h0.95M74.6 218.1h0.95M69.6 248.9h0.95M71.5 236.3h0.95M49.0 225.0h0.95M99.9 241.8h0.95M72.4 243.7h0.95M44.8 199.5h0.95M101.3 245.3h0.95M94.3 237.4h0.95M50.4 228.6h0.95M47.0 217.5h0.95M73.9 220.8h0.95M104.1 215.0h0.95M81.8 219.6h0.95M79.7 232.3h0.95M57.6 235.1h0.95M91.8 233.6h0.95M57.9 235.3h0.95M87.8 240.0h0.95M83.0 228.8h0.95M73.4 240.7h0.95M84.9 233.9h0.95M101.0 244.5h0.95M95.6 221.4h0.95M71.2 211.7h0.95M80.9 225.6h0.95M107.4 234.0h0.95M102.7 238.7h0.95M104.5 222.8h0.95M63.6 217.9h0.95M50.9 198.0h0.95M60.8 230.0h0.95M105.2 248.2h0.95M68.3 222.3h0.95M46.2 212.4h0.95M104.8 223.0h0.95M59.6 196.2h0.95M93.9 240.3h0.95M92.1 221.9h0.95M60.9 217.6h0.95M81.6 219.8h0.95M41.7 214.8h0.95M63.9 218.1h0.95M108.4 226.6h0.95M105.1 237.8h0.95M78.1 216.2h0.95M60.9 218.9h0.95M52.4 215.9h0.95M48.9 229.6h0.95M65.5 201.1h0.95M84.7 217.9h0.95M70.8 233.0h0.95M77.2 221.1h0.95M88.3 248.0h0.95M43.3 232.7h0.95M108.4 248.5h0.95M42.4 220.9h0.95M100.9 236.9h0.95M61.6 231.2h0.95M87.6 230.7h0.95M103.3 248.2h0.95M52.0 213.0h0.95M51.1 211.7h0.95M51.2 224.1h0.95M72.3 213.3h0.95M58.9 229.4h0.95M70.3 231.4h0.95M59.2 233.8h0.95M82.0 215.6h0.95M69.7 217.4h0.95M83.8 249.1h0.95M44.6 231.3h0.95M43.2 238.4h0.95M87.9 241.8h0.95M62.8 197.9h0.95M44.1 213.9h0.95M106.2 249.2h0.95M64.6 218.8h0.95M67.5 223.8h0.95M69.5 225.8h0.95M100.5 223.9h0.95M45.5 216.8h0.95M104.6 250.9h0.95M59.9 247.6h0.95M46.5 205.6h0.95M50.5 238.6h0.95M101.3 253.0h0.95M56.8 221.7h0.95M108.2 252.7h0.95M97.2 231.4h0.95M68.2 206.3h0.95M45.0 196.0h0.95M66.4 209.4h0.95M108.1 218.5h0.95M90.8 216.2h0.95M87.7 241.9h0.95M89.5 239.1h0.95M43.9 229.2h0.95M98.4 220.8h0.95M65.9 224.1h0.95M57.2 204.7h0.95M53.6 195.8h0.95M99.6 237.5h0.95M66.5 218.2h0.95M61.3 235.4h0.95M63.3 236.8h0.95M48.3 196.7h0.95M102.5 251.9h0.95M85.9 233.4h0.95M73.8 216.2h0.95M81.6 245.6h0.95M44.1 241.8h0.95M57.4 216.2h0.95M73.6 227.8h0.95M55.5 236.3h0.95M77.9 236.9h0.95M70.0 209.4h0.95M69.1 218.3h0.95M65.8 240.3h0.95M93.4 256.1h0.95M42.7 203.3h0.95M54.6 206.9h0.95M45.2 219.8h0.95M68.0 242.0h0.95M71.4 225.2h0.95M54.5 223.2h0.95M51.2 222.9h0.95M77.9 227.8h0.95M73.2 241.0h0.95M55.0 229.9h0.95M91.1 234.0h0.95M56.0 212.3h0.95M88.6 235.1h0.95M95.3 252.6h0.95M100.1 254.8h0.95M63.7 230.8h0.95M57.7 206.9h0.95M97.3 236.0h0.95M81.6 244.6h0.95M57.1 229.5h0.95M72.7 215.7h0.95M68.2 209.3h0.95M88.0 242.9h0.95M73.8 226.9h0.95M78.4 226.9h0.95M77.0 240.9h0.95M100.2 246.0h0.95M61.2 231.9h0.95M51.7 242.2h0.95M65.7 237.9h0.95M80.7 233.0h0.95M58.9 218.3h0.95M41.1 204.6h0.95M51.9 207.5h0.95M104.7 212.1h0.95M92.0 209.4h0.95M57.3 239.1h0.95M64.3 219.1h0.95M41.4 205.2h0.95M69.2 217.7h0.95M58.0 224.2h0.95M103.2 230.5h0.95M99.0 235.2h0.95M105.0 241.9h0.95M57.3 221.5h0.95M75.9 230.5h0.95M65.5 212.2h0.95M52.2 243.8h0.95M58.5 193.5h0.95M63.2 219.2h0.95M105.6 242.1h0.95M81.0 235.9h0.95M91.4 236.8h0.95M50.3 212.0h0.95M88.5 239.4h0.95M46.2 239.1h0.95M99.0 226.4h0.95M92.0 227.9h0.95M60.0 224.1h0.95M82.9 225.4h0.95M46.3 232.9h0.95M98.3 231.2h0.95M76.8 210.1h0.95M44.6 211.4h0.95M45.2 206.3h0.95M55.7 248.9h0.95M71.3 236.7h0.95M42.7 202.2h0.95M64.9 226.9h0.95M41.9 228.5h0.95M53.1 211.2h0.95M72.5 217.1h0.95M63.3 239.4h0.95M63.5 209.2h0.95M69.6 229.8h0.95M100.8 226.9h0.95M105.9 218.6h0.95M105.7 243.0h0.95M72.8 229.9h0.95M106.6 255.8h0.95M69.1 209.5h0.95M65.6 228.4h0.95M94.0 259.0h0.95M47.2 207.4h0.95M45.9 229.8h0.95M82.8 218.7h0.95M88.6 250.3h0.95M61.9 213.6h0.95M48.1 228.3h0.95M63.7 233.0h0.95M80.7 236.4h0.95M42.3 233.1h0.95M86.9 245.9h0.95M105.4 223.4h0.95M98.0 239.9h0.95M101.9 234.2h0.95M94.4 231.5h0.95M107.7 244.2h0.95M55.9 226.1h0.95M69.2 218.8h0.95M42.4 241.0h0.95M66.4 239.7h0.95M60.9 212.2h0.95M69.4 250.6h0.95M104.3 213.6h0.95M102.9 254.9h0.95M73.0 203.2h0.95M104.9 238.8h0.95M55.0 204.3h0.95M60.2 219.1h0.95M108.2 241.6h0.95M65.9 238.2h0.95M95.3 227.7h0.95M54.5 220.6h0.95M53.8 212.4h0.95M68.7 233.3h0.95M65.9 211.7h0.95M58.2 203.3h0.95M99.1 241.1h0.95M49.9 225.2h0.95M44.8 208.1h0.95M98.2 252.9h0.95M78.1 222.5h0.95M89.0 255.4h0.95M64.5 245.0h0.95M106.6 245.5h0.95M64.7 210.0h0.95M106.7 246.7h0.95M64.7 219.5h0.95M98.9 248.0h0.95M53.5 213.5h0.95M64.3 226.2h0.95M91.0 255.4h0.95M105.7 242.9h0.95M43.6 226.9h0.95M96.9 240.7h0.95M105.5 235.5h0.95M49.4 204.1h0.95M83.8 237.3h0.95M73.6 223.3h0.95M57.9 234.9h0.95M54.9 213.1h0.95M73.7 230.1h0.95M66.8 218.2h0.95M43.4 235.9h0.95M53.5 217.9h0.95M66.8 235.9h0.95M55.1 223.7h0.95M98.1 231.7h0.95M73.1 221.9h0.95M61.0 216.7h0.95M94.9 246.6h0.95M78.2 218.5h0.95M78.2 209.3h0.95M47.6 213.4h0.95M100.0 256.5h0.95M92.0 224.8h0.95M83.7 221.5h0.95M95.8 221.4h0.95M62.3 209.6h0.95M48.4 212.9h0.95M57.7 220.0h0.95M101.5 247.0h0.95M61.7 228.5h0.95M53.6 234.1h0.95M59.3 238.9h0.95M75.4 238.6h0.95M75.9 226.6h0.95M80.2 248.8h0.95M93.9 226.5h0.95M40.9 203.4h0.95M70.6 237.8h0.95M65.3 240.8h0.95M88.7 251.9h0.95M102.8 237.3h0.95M46.7 212.9h0.95M84.0 203.9h0.95M99.5 229.1h0.95M45.8 214.2h0.95M50.3 222.1h0.95M63.7 214.7h0.95M84.9 202.7h0.95M100.3 234.7h0.95M46.9 237.1h0.95M41.4 237.8h0.95M48.7 245.2h0.95M84.7 241.2h0.95M81.7 233.9h0.95M50.6 221.4h0.95M105.5 239.9h0.95M91.9 256.7h0.95M42.3 208.4h0.95M41.7 250.0h0.95M90.5 253.5h0.95M66.8 236.5h0.95M66.4 237.5h0.95M76.7 227.7h0.95M63.3 225.7h0.95M78.2 213.7h0.95M51.3 229.7h0.95M79.8 204.8h0.95M56.1 205.1h0.95M77.9 247.5h0.95M52.3 226.5h0.95M70.7 208.8h0.95M64.9 225.5h0.95M67.8 200.6h0.95M74.5 234.8h0.95M69.5 229.5h0.95M90.5 212.4h0.95M72.5 242.2h0.95M60.2 248.9h0.95M67.2 215.1h0.95M84.1 246.9h0.95M62.0 206.0h0.95M106.8 223.0h0.95M72.3 204.1h0.95M52.3 235.4h0.95M42.0 237.0h0.95M84.0 236.1h0.95M46.9 237.4h0.95M45.5 210.4h0.95M61.9 240.3h0.95M80.3 243.6h0.95M100.4 254.9h0.95M69.8 235.7h0.95M67.1 226.2h0.95M41.6 225.3h0.95M104.4 239.5h0.95M63.0 217.4h0.95M89.9 238.2h0.95M43.8 248.8h0.95M48.9 217.5h0.95M75.7 219.3h0.95M53.4 210.5h0.95M53.1 218.5h0.95M58.6 242.6h0.95M53.4 234.9h0.95M97.1 246.7h0.95M66.3 239.7h0.95M42.3 196.8h0.95M49.6 229.1h0.95M56.2 220.9h0.95M57.7 226.7h0.95M74.1 254.5h0.95M58.5 211.2h0.95M42.4 222.7h0.95M45.2 213.4h0.95M104.3 243.5h0.95M54.8 239.6h0.95M102.8 223.3h0.95M95.8 219.1h0.95M61.3 235.4h0.95M75.1 233.4h0.95M101.5 217.0h0.95M90.0 229.1h0.95M52.9 224.3h0.95M53.8 232.9h0.95M103.4 241.8h0.95M62.6 232.5h0.95M69.7 228.2h0.95M41.5 234.9h0.95M47.4 233.8h0.95M46.7 237.3h0.95M59.8 228.0h0.95M80.4 229.3h0.95M59.8 225.8h0.95M81.0 233.0h0.95M47.3 224.9h0.95M69.5 229.2h0.95M88.7 252.2h0.95M108.9 244.4h0.95M47.6 241.7h0.95M88.3 227.4h0.95M81.4 230.4h0.95M42.7 229.8h0.95M77.7 228.8h0.95M62.2 246.6h0.95M108.8 221.6h0.95M62.5 244.1h0.95M52.2 204.0h0.95M67.4 207.9h0.95M84.4 257.5h0.95M67.8 229.1h0.95M63.2 244.7h0.95M75.1 222.7h0.95M70.7 216.3h0.95M63.2 207.7h0.95M61.2 218.6h0.95M68.1 221.6h0.95M79.2 231.2h0.95M65.5 252.1h0.95M44.7 209.4h0.95M66.8 244.3h0.95M102.4 225.7h0.95M93.5 235.9h0.95M73.2 233.0h0.95M51.1 237.8h0.95M52.6 239.5h0.95M58.2 230.4h0.95M87.0 238.2h0.95M94.4 245.4h0.95M97.8 225.5h0.95M99.1 208.8h0.95M53.3 246.1h0.95M48.0 213.1h0.95M44.5 225.6h0.95M46.1 235.9h0.95M88.5 237.8h0.95M55.2 230.3h0.95M51.8 236.0h0.95M92.9 213.3h0.95M53.2 198.1h0.95M63.8 246.8h0.95M105.3 230.4h0.95M65.2 220.4h0.95M57.0 247.7h0.95M41.2 213.7h0.95M44.4 208.7h0.95M97.8 240.4h0.95M60.0 216.8h0.95M57.6 210.6h0.95M103.6 249.8h0.95M106.6 241.6h0.95M106.4 217.2h0.95M87.5 223.9h0.95M51.3 225.4h0.95M100.1 206.8h0.95M56.1 226.9h0.95M100.2 247.1h0.95M74.2 248.7h0.95M68.3 212.8h0.95M70.2 234.8h0.95M48.6 209.1h0.95M84.4 227.4h0.95M77.4 233.1h0.95M52.0 233.6h0.95M43.4 201.2h0.95M71.1 227.1h0.95M55.9 216.5h0.95M92.2 235.6h0.95M98.6 235.5h0.95M69.6 216.1h0.95M63.5 216.8h0.95M79.1 230.5h0.95M43.8 227.3h0.95M42.3 213.5h0.95M92.9 245.3h0.95M98.7 203.7h0.95M50.3 243.7h0.95M87.4 245.4h0.95M72.4 237.2h0.95M92.3 206.5h0.95M42.3 195.7h0.95M78.2 216.0h0.95M74.8 216.2h0.95M81.0 248.1h0.95M45.3 220.8h0.95M53.9 245.0h0.95M50.7 216.1h0.95M89.8 237.2h0.95M104.6 210.9h0.95M51.9 225.0h0.95M46.6 231.6h0.95M45.8 237.7h0.95M98.9 233.7h0.95M94.3 242.8h0.95M92.1 230.9h0.95M96.7 251.7h0.95M107.7 233.4h0.95M59.5 217.5h0.95M46.0 207.2h0.95M74.1 205.5h0.95M105.3 254.5h0.95M96.5 236.2h0.95M49.3 215.9h0.95M46.2 226.0h0.95M54.7 242.5h0.95M72.7 212.4h0.95M44.4 240.1h0.95M56.9 202.8h0.95M47.4 218.6h0.95M71.2 237.3h0.95M70.2 229.9h0.95M44.7 215.6h0.95M55.8 225.3h0.95M71.0 231.1h0.95M45.1 227.3h0.95M95.9 232.2h0.95M98.3 231.0h0.95M85.3 228.7h0.95M82.4 232.9h0.95M96.4 223.9h0.95M94.5 222.6h0.95M47.2 199.9h0.95M45.4 223.3h0.95M85.1 253.4h0.95M50.1 211.5h0.95M77.5 244.0h0.95M43.1 233.0h0.95M102.2 221.2h0.95M102.5 240.5h0.95M42.9 225.5h0.95M81.4 228.1h0.95M99.3 221.0h0.95M105.1 242.7h0.95M72.3 210.0h0.95M63.2 213.7h0.95M99.1 232.9h0.95M56.1 201.6h0.95M48.1 201.7h0.95M92.6 244.4h0.95M50.4 220.9h0.95M89.0 248.0h0.95M53.0 214.1h0.95M84.4 244.8h0.95M44.9 207.7h0.95M49.9 211.8h0.95M47.0 221.7h0.95M90.8 241.5h0.95M98.1 227.1h0.95M41.3 219.2h0.95M51.2 229.7h0.95M108.8 228.6h0.95M92.1 248.1h0.95M106.7 237.8h0.95M98.1 241.8h0.95M91.0 223.3h0.95M107.4 257.5h0.95M88.3 210.4h0.95M46.8 224.8h0.95M78.1 246.0h0.95M40.8 238.5h0.95M50.4 206.2h0.95M105.0 209.5h0.95M86.6 221.1h0.95M57.2 212.0h0.95M49.0 225.4h0.95M107.9 249.0h0.95M90.4 227.9h0.95M67.1 251.6h0.95M82.0 223.5h0.95M87.1 221.8h0.95M93.7 234.7h0.95M97.2 228.7h0.95M47.2 229.0h0.95M53.3 200.3h0.95M42.3 241.6h0.95M104.2 248.8h0.95M53.3 210.2h0.95M54.6 228.5h0.95M74.7 220.3h0.95M56.5 235.5h0.95M55.1 247.2h0.95M86.6 253.7h0.95M48.2 201.7h0.95M93.1 236.2h0.95M80.4 231.2h0.95M104.5 234.2h0.95M56.8 221.2h0.95M64.2 246.5h0.95M46.9 239.8h0.95M52.3 210.1h0.95M79.3 243.2h0.95M68.2 226.8h0.95M48.0 244.1h0.95M90.7 236.6h0.95M80.3 238.5h0.95M64.6 231.0h0.95M62.1 225.5h0.95M47.6 215.5h0.95M81.5 237.0h0.95M83.7 246.0h0.95M41.8 216.0h0.95M66.9 216.1h0.95M73.9 238.3h0.95M78.1 239.3h0.95M57.9 237.3h0.95M106.4 244.7h0.95M54.4 222.8h0.95M42.9 204.1h0.95M91.8 242.9h0.95M89.0 239.9h0.95M88.7 240.8h0.95M87.2 228.2h0.95M87.7 213.3h0.95M68.6 235.0h0.95M99.4 250.5h0.95M103.9 253.0h0.95M88.7 218.1h0.95M43.9 235.4h0.95M106.0 241.9h0.95M105.8 242.1h0.95M102.4 224.4h0.95M46.2 212.2h0.95M81.8 204.2h0.95M87.6 225.8h0.95M62.1 236.2h0.95M87.3 205.4h0.95M97.2 230.6h0.95M61.4 221.9h0.95M47.1 223.8h0.95M45.6 228.9h0.95M93.8 249.8h0.95M42.9 204.0h0.95M98.8 249.3h0.95M88.1 247.6h0.95M40.8 236.5h0.95M45.8 207.2h0.95M57.8 236.6h0.95M103.8 241.3h0.95M79.7 211.5h0.95M46.0 212.7h0.95M51.2 242.9h0.95M48.4 245.6h0.95M101.8 248.3h0.95M57.1 229.9h0.95M95.3 232.2h0.95M53.2 220.8h0.95M72.6 231.5h0.95M108.2 219.7h0.95M98.3 245.7h0.95M97.2 234.4h0.95M88.8 245.9h0.95M96.0 237.1h0.95M100.8 240.8h0.95M57.8 202.2h0.95M53.6 212.8h0.95M85.9 214.8h0.95M88.1 213.6h0.95M53.0 231.8h0.95M40.8 203.1h0.95M87.1 240.0h0.95M41.5 215.0h0.95M44.5 214.6h0.95M47.0 212.8h0.95M47.6 217.5h0.95M74.2 225.8h0.95M98.1 225.9h0.95M48.9 244.7h0.95M62.5 197.4h0.95M72.3 241.1h0.95M45.3 215.1h0.95M52.6 208.7h0.95M81.3 228.5h0.95M83.3 244.0h0.95M64.2 250.6h0.95M101.2 203.7h0.95M63.0 236.8h0.95M88.6 225.7h0.95M103.3 229.4h0.95M106.2 225.5h0.95M90.5 252.9h0.95M75.8 250.7h0.95M108.4 232.4h0.95M75.6 213.5h0.95M75.2 245.1h0.95M67.5 218.6h0.95M88.9 226.2h0.95M53.6 220.7h0.95M63.9 206.1h0.95M103.7 225.1h0.95M73.2 248.7h0.95M89.9 247.4h0.95M55.5 210.8h0.95M52.3 199.3h0.95M43.0 211.3h0.95M99.6 246.1h0.95M85.5 223.3h0.95M71.0 236.8h0.95M106.3 232.5h0.95M89.4 240.1h0.95M46.4 228.7h0.95M79.5 218.7h0.95M52.8 214.9h0.95M51.0 216.6h0.95M47.1 204.5h0.95M42.8 223.6h0.95M96.3 248.1h0.95M108.8 222.6h0.95M74.7 211.7h0.95M100.4 230.0h0.95M99.7 233.8h0.95M48.2 235.1h0.95M51.5 216.6h0.95M41.1 212.9h0.95M54.6 208.4h0.95M101.3 238.1h0.95M96.8 223.0h0.95M47.2 210.7h0.95M91.7 238.0h0.95M78.6 230.7h0.95M106.5 236.0h0.95M49.6 214.5h0.95M47.1 242.7h0.95M82.3 233.1h0.95M99.4 244.1h0.95M47.9 251.9h0.95M43.9 247.8h0.95M41.4 234.2h0.95M77.3 211.0h0.95M55.2 235.4h0.95M89.6 232.8h0.95M98.9 237.4h0.95M89.9 217.0h0.95M89.8 235.1h0.95M52.4 238.7h0.95M64.7 199.2h0.95M68.9 225.5h0.95M43.8 218.6h0.95M65.9 216.3h0.95M45.6 210.1h0.95M77.0 246.9h0.95M79.7 230.3h0.95M65.0 249.0h0.95M103.2 243.2h0.95M59.7 249.6h0.95M43.9 220.2h0.95M49.3 195.0h0.95M47.5 239.7h0.95M77.3 225.8h0.95M85.7 249.6h0.95M45.5 221.4h0.95M69.9 236.8h0.95M63.4 232.1h0.95M101.9 236.2h0.95M103.5 247.7h0.95M95.4 230.1h0.95M86.0 223.8h0.95M103.2 244.4h0.95M77.6 233.5h0.95M50.7 217.1h0.95M104.9 241.3h0.95M72.2 237.8h0.95M48.2 212.2h0.95M87.3 233.3h0.95M97.8 239.9h0.95M80.9 235.7h0.95M59.0 205.6h0.95M54.1 223.2h0.95M52.2 222.8h0.95M47.6 227.7h0.95M79.2 237.4h0.95M55.4 209.8h0.95M49.4 206.7h0.95M53.5 244.1h0.95M53.3 214.9h0.95M78.1 220.4h0.95M99.4 244.0h0.95M65.8 228.0h0.95M56.6 225.8h0.95M93.9 259.2h0.95M53.9 236.5h0.95M67.7 217.3h0.95M51.2 210.5h0.95M87.2 252.1h0.95M48.5 241.0h0.95M92.5 245.9h0.95M81.2 209.3h0.95M99.6 229.4h0.95M54.2 224.6h0.95M54.9 198.3h0.95M47.0 221.3h0.95M79.8 223.8h0.95M75.4 237.5h0.95M78.4 243.7h0.95M76.5 235.0h0.95M59.5 212.0h0.95M108.9 250.9h0.95M104.9 233.5h0.95M47.3 236.7h0.95M95.9 232.6h0.95M72.4 247.8h0.95M70.2 230.2h0.95M69.1 219.1h0.95M106.4 231.7h0.95M93.2 251.2h0.95M57.8 240.8h0.95M51.2 237.1h0.95M72.4 231.1h0.95M55.5 227.5h0.95M63.2 213.5h0.95M82.1 218.1h0.95M55.0 247.4h0.95M66.0 221.8h0.95M53.9 215.0h0.95M103.5 252.0h0.95M77.9 214.6h0.95M45.5 206.3h0.95M82.9 215.4h0.95M78.4 247.4h0.95M44.3 228.2h0.95M42.6 202.8h0.95M53.2 223.6h0.95M57.4 223.1h0.95M73.4 246.4h0.95M108.9 237.3h0.95M76.8 224.9h0.95M41.4 220.5h0.95M68.6 234.9h0.95M108.8 234.2h0.95M100.7 228.1h0.95M106.3 236.4h0.95M74.2 251.1h0.95M108.3 228.2h0.95M105.2 243.5h0.95M99.6 251.7h0.95M48.4 201.6h0.95M62.6 251.2h0.95M98.2 257.0h0.95M80.4 210.4h0.95M89.2 245.9h0.95M58.9 236.6h0.95M57.0 204.9h0.95M80.2 224.5h0.95M87.1 219.8h0.95M60.9 236.9h0.95M98.9 236.7h0.95M51.0 228.9h0.95M47.6 201.4h0.95M44.0 208.0h0.95M101.9 229.8h0.95M99.4 236.9h0.95M53.4 230.6h0.95M89.4 238.4h0.95M88.2 234.7h0.95M52.7 235.0h0.95M86.7 229.2h0.95M86.7 239.0h0.95M101.7 212.9h0.95M67.0 216.8h0.95M84.3 238.6h0.95M42.5 212.6h0.95M49.1 201.4h0.95M58.4 217.9h0.95M53.2 211.9h0.95M91.6 220.6h0.95M60.6 217.1h0.95M96.5 227.3h0.95M78.8 235.7h0.95M97.8 250.2h0.95M108.6 231.2h0.95M80.2 247.4h0.95M73.0 244.8h0.95M48.4 223.8h0.95M84.2 234.1h0.95M72.5 218.7h0.95M108.4 227.3h0.95M54.8 222.5h0.95M66.7 225.4h0.95M65.5 236.5h0.95M108.2 227.7h0.95M81.3 230.2h0.95M95.0 223.3h0.95M59.3 216.1h0.95M95.8 229.3h0.95M85.6 230.9h0.95M47.9 203.3h0.95M108.1 231.7h0.95M57.5 225.4h0.95M56.0 248.0h0.95M45.3 212.6h0.95M96.1 227.3h0.95M44.5 215.9h0.95M64.7 233.2h0.95M81.4 226.1h0.95M49.5 201.0h0.95M95.4 236.8h0.95M70.5 243.4h0.95M105.3 253.0h0.95M104.5 240.0h0.95M57.2 227.3h0.95M65.0 235.1h0.95M98.8 241.4h0.95M97.9 237.4h0.95M97.6 236.9h0.95M108.8 255.2h0.95M42.3 234.2h0.95M80.8 222.8h0.95M87.3 249.8h0.95M92.6 233.1h0.95M97.7 241.9h0.95M46.4 206.8h0.95M55.5 217.6h0.95M104.8 240.5h0.95M103.4 232.5h0.95M86.1 251.1h0.95M49.0 207.4h0.95M64.0 236.7h0.95M47.3 229.7h0.95M52.6 209.4h0.95M49.1 224.7h0.95M100.7 247.8h0.95M47.5 210.7h0.95M97.3 233.2h0.95M72.8 205.4h0.95M94.0 218.8h0.95M56.5 239.1h0.95M56.4 215.9h0.95M62.6 218.4h0.95M59.4 229.9h0.95M93.3 217.6h0.95M58.8 222.0h0.95M68.6 211.4h0.95M91.9 236.2h0.95M90.5 234.4h0.95M55.2 223.6h0.95M41.7 225.7h0.95M52.3 229.0h0.95M48.2 236.8h0.95M48.5 205.9h0.95M60.1 240.6h0.95M47.0 229.3h0.95M53.1 199.6h0.95M48.9 200.6h0.95M89.6 224.9h0.95M53.0 218.4h0.95M90.6 225.7h0.95M91.5 228.5h0.95M43.5 222.3h0.95M51.1 230.9h0.95M79.5 249.7h0.95M45.4 221.8h0.95M50.1 232.2h0.95M48.5 228.9h0.95M96.1 222.6h0.95M104.9 235.3h0.95M58.8 247.2h0.95M53.1 230.0h0.95M41.6 230.6h0.95M89.6 238.2h0.95M54.8 224.8h0.95M103.9 247.4h0.95M46.7 228.4h0.95M71.8 220.0h0.95M107.4 244.4h0.95M54.7 213.4h0.95M67.8 232.8h0.95M52.8 230.7h0.95M75.2 251.8h0.95M70.6 235.8h0.95M64.6 224.8h0.95M102.5 221.3h0.95M54.7 227.1h0.95M84.3 233.9h0.95M48.1 227.6h0.95M76.9 238.0h0.95M42.1 217.1h0.95M103.7 229.5h0.95M99.8 243.2h0.95M72.6 227.1h0.95M95.1 229.2h0.95M78.2 249.8h0.95M84.1 245.3h0.95M41.5 249.0h0.95M41.7 232.8h0.95M74.4 229.5h0.95M104.7 230.9h0.95M100.6 249.5h0.95M50.0 213.4h0.95M65.6 241.7h0.95M73.4 237.4h0.95M47.4 234.2h0.95M106.1 214.3h0.95M62.6 216.8h0.95M44.4 206.1h0.95M54.3 210.6h0.95M64.8 238.3h0.95M93.5 216.9h0.95M53.0 222.3h0.95M54.5 220.2h0.95M57.8 219.4h0.95M46.1 219.9h0.95M70.1 231.1h0.95M75.6 201.0h0.95M100.6 232.4h0.95M87.0 239.5h0.95M61.0 238.5h0.95M47.2 202.7h0.95M44.9 251.0h0.95M43.6 210.0h0.95M79.7 232.4h0.95M68.7 241.6h0.95M48.8 248.2h0.95M51.8 218.6h0.95M88.9 251.5h0.95M88.1 218.6h0.95M72.5 234.3h0.95M67.7 246.7h0.95M101.0 225.1h0.95M102.2 228.2h0.95M104.1 243.5h0.95M47.9 245.5h0.95M49.2 231.5h0.95M76.8 237.3h0.95M75.1 222.3h0.95M52.3 215.8h0.95M41.3 241.9h0.95M70.6 222.8h0.95M68.4 235.0h0.95M77.9 222.3h0.95M69.3 230.5h0.95M62.3 223.4h0.95M70.4 211.8h0.95M86.5 226.1h0.95M41.0 211.4h0.95M71.6 235.1h0.95M56.5 243.8h0.95M51.9 230.2h0.95M63.2 216.5h0.95M83.3 240.1h0.95M54.5 239.7h0.95M99.4 234.3h0.95M88.7 216.0h0.95M48.3 219.8h0.95M46.2 209.7h0.95M41.8 219.4h0.95M41.6 228.4h0.95M46.6 215.3h0.95M41.3 226.9h0.95M85.4 232.1h0.95M101.3 237.0h0.95M68.1 218.9h0.95M76.7 250.7h0.95M58.5 236.0h0.95M81.5 246.1h0.95M53.5 227.5h0.95M68.1 242.9h0.95M40.9 211.7h0.95M79.3 220.4h0.95M42.2 221.3h0.95M45.8 221.6h0.95M64.5 258.0h0.95M94.1 241.6h0.95M70.1 212.9h0.95M54.5 229.7h0.95M106.3 222.9h0.95M93.2 240.8h0.95M98.1 220.1h0.95M106.6 222.4h0.95M59.2 219.6h0.95M67.0 236.1h0.95M108.9 246.0h0.95M71.7 227.7h0.95M40.8 224.7h0.95M57.1 217.7h0.95M77.2 230.7h0.95M91.8 233.8h0.95M58.5 227.8h0.95M45.6 223.7h0.95M70.8 236.0h0.95M46.6 215.7h0.95M46.7 210.5h0.95M42.0 229.0h0.95M42.8 240.7h0.95M80.5 244.2h0.95M95.2 227.7h0.95M99.6 227.7h0.95M67.9 235.9h0.95M65.8 230.1h0.95M48.2 240.0h0.95M71.5 225.8h0.95M57.4 215.4h0.95M49.5 249.3h0.95M77.0 233.1h0.95M71.6 228.5h0.95M58.9 236.9h0.95M67.1 238.9h0.95M94.1 211.8h0.95M54.2 204.4h0.95M78.8 209.9h0.95M65.9 227.8h0.95M75.8 234.2h0.95M51.9 220.8h0.95M49.9 222.3h0.95M96.2 250.0h0.95M66.9 205.3h0.95M96.4 224.9h0.95M61.2 213.8h0.95M44.1 242.4h0.95M102.5 229.7h0.95M86.6 240.5h0.95M103.3 242.4h0.95M104.6 244.8h0.95M45.2 222.0h0.95M40.9 239.4h0.95M58.9 217.0h0.95M70.0 220.8h0.95M58.7 242.3h0.95M97.2 238.4h0.95M78.0 236.5h0.95M74.5 241.9h0.95M44.2 211.5h0.95M58.1 235.9h0.95M77.3 249.9h0.95M41.8 210.8h0.95M81.9 214.3h0.95M103.3 250.8h0.95M46.3 222.5h0.95M56.5 232.7h0.95M42.2 212.9h0.95M108.7 246.2h0.95M102.1 241.7h0.95M54.2 229.8h0.95M106.8 240.3h0.95M98.8 233.7h0.95M74.7 231.0h0.95M95.9 221.5h0.95M79.9 251.9h0.95M78.6 203.5h0.95M81.3 211.9h0.95M41.3 203.2h0.95M61.8 203.8h0.95M72.2 248.7h0.95M66.0 213.9h0.95M88.1 241.9h0.95M92.0 246.7h0.95M55.1 220.0h0.95M75.1 202.4h0.95M71.9 211.5h0.95M72.5 226.9h0.95M50.7 210.7h0.95M78.3 226.6h0.95M74.9 221.4h0.95M88.3 222.3h0.95M61.1 209.4h0.95M57.2 225.2h0.95M88.0 211.8h0.95M45.3 223.0h0.95M47.2 223.2h0.95M43.4 229.7h0.95M75.8 248.8h0.95M71.7 221.0h0.95M63.1 249.6h0.95M97.6 244.4h0.95M91.3 252.7h0.95M44.4 216.8h0.95M48.2 195.0h0.95M60.1 245.0h0.95M56.1 236.9h0.95M42.5 225.6h0.95M99.9 228.5h0.95M75.8 240.8h0.95M52.7 238.5h0.95M52.2 219.8h0.95M95.6 220.4h0.95M83.7 245.9h0.95M49.8 208.3h0.95M80.0 214.8h0.95M68.0 218.5h0.95M64.9 252.2h0.95M88.0 237.6h0.95M50.6 225.9h0.95M45.2 221.0h0.95M66.6 215.5h0.95M65.6 243.2h0.95M93.7 260.3h0.95M55.5 224.2h0.95M86.8 213.5h0.95M102.1 250.6h0.95M59.2 222.1h0.95M64.8 210.6h0.95M57.2 219.1h0.95M96.6 258.0h0.95M89.4 224.9h0.95M104.5 245.8h0.95M73.1 232.8h0.95M70.7 216.7h0.95M53.1 239.5h0.95M48.8 219.8h0.95M56.6 239.2h0.95M97.4 216.8h0.95M45.6 195.4h0.95M56.7 216.1h0.95M93.1 233.0h0.95M104.3 228.4h0.95M86.6 237.1h0.95M48.0 215.4h0.95M103.5 235.3h0.95M54.5 224.8h0.95M105.4 225.2h0.95M69.1 228.5h0.95M77.6 240.4h0.95M58.7 246.2h0.95M57.2 233.3h0.95M43.3 233.3h0.95M54.4 216.8h0.95M104.4 252.7h0.95M53.8 230.2h0.95M54.7 200.7h0.95M96.9 226.5h0.95M63.6 217.5h0.95M80.0 222.9h0.95M41.5 217.5h0.95M44.1 215.7h0.95M76.0 230.9h0.95M99.6 239.4h0.95M100.9 248.1h0.95M42.2 221.1h0.95M57.3 249.2h0.95M58.6 235.4h0.95M85.0 217.1h0.95M55.7 224.4h0.95M70.8 234.8h0.95M73.0 221.4h0.95M74.2 229.7h0.95M55.0 218.2h0.95M93.6 217.4h0.95M48.3 208.6h0.95M57.3 219.9h0.95M81.1 216.9h0.95M100.8 228.2h0.95M84.4 220.9h0.95M74.4 231.8h0.95M71.5 210.6h0.95M79.3 242.6h0.95M73.2 230.4h0.95M94.6 222.9h0.95M45.0 226.6h0.95M54.1 226.2h0.95M101.8 231.6h0.95M85.3 245.2h0.95M64.4 214.6h0.95M61.0 230.6h0.95M76.7 240.3h0.95M104.6 247.5h0.95M92.1 221.6h0.95M98.7 228.1h0.95M89.1 231.5h0.95M62.4 236.7h0.95M42.2 220.3h0.95M71.7 231.0h0.95M56.8 202.8h0.95M84.9 250.6h0.95M93.1 241.4h0.95M42.1 218.8h0.95M106.1 247.1h0.95M107.2 227.3h0.95M41.4 235.2h0.95M44.5 217.1h0.95M74.7 227.1h0.95M83.7 223.6h0.95M40.9 209.3h0.95M52.0 203.4h0.95M46.0 240.1h0.95M74.1 219.2h0.95M70.3 256.7h0.95M47.3 229.1h0.95M87.4 210.5h0.95M43.4 221.9h0.95M52.6 222.4h0.95M92.6 236.8h0.95M62.4 206.4h0.95M83.5 235.2h0.95M63.7 238.3h0.95M100.9 230.6h0.95M55.7 230.9h0.95M77.6 219.6h0.95M50.8 236.6h0.95M78.6 244.4h0.95M80.1 230.9h0.95M48.7 216.6h0.95M88.0 242.6h0.95M76.3 218.4h0.95M50.1 254.2h0.95M76.9 226.5h0.95M89.8 212.1h0.95M51.9 198.7h0.95M62.7 221.6h0.95M60.6 230.9h0.95M82.8 231.9h0.95M42.1 232.6h0.95M105.7 223.4h0.95M100.3 245.3h0.95M103.0 210.0h0.95M87.8 237.6h0.95M66.0 246.1h0.95M82.2 219.3h0.95M48.0 237.9h0.95M49.5 214.2h0.95M53.4 232.6h0.95M71.7 246.9h0.95M73.8 206.0h0.95M44.5 209.6h0.95M44.3 228.9h0.95M68.1 236.6h0.95M54.7 220.8h0.95M80.6 237.0h0.95M72.8 217.3h0.95M78.4 236.1h0.95M95.2 240.1h0.95M55.3 224.8h0.95M53.7 219.1h0.95M43.5 226.1h0.95M61.3 223.4h0.95M78.2 219.9h0.95M82.7 239.1h0.95M92.6 237.1h0.95M54.8 214.3h0.95M68.2 202.8h0.95M87.6 226.0h0.95M102.3 238.4h0.95M43.3 228.8h0.95M55.2 223.7h0.95M53.2 216.4h0.95M48.6 199.1h0.95M69.0 236.2h0.95M56.5 201.0h0.95M63.3 242.3h0.95M105.1 225.8h0.95M52.5 211.8h0.95M91.2 252.3h0.95M64.3 232.7h0.95M71.1 229.5h0.95M50.4 237.4h0.95M52.0 210.7h0.95M44.1 196.0h0.95M87.1 238.5h0.95M73.3 254.7h0.95M41.0 208.0h0.95M79.2 214.6h0.95M108.8 241.5h0.95M78.3 233.2h0.95M91.1 249.8h0.95M43.4 223.2h0.95M75.2 216.4h0.95M81.4 240.6h0.95M99.7 231.7h0.95M94.7 224.3h0.95M99.9 254.0h0.95M63.1 222.6h0.95M95.0 232.5h0.95M94.0 244.7h0.95M43.9 224.2h0.95M73.9 238.3h0.95M97.3 241.5h0.95M43.1 243.0h0.95M98.8 241.4h0.95M62.3 228.9h0.95M82.6 235.5h0.95M44.2 226.4h0.95M63.2 225.6h0.95M105.5 221.7h0.95M48.0 215.5h0.95M95.9 204.8h0.95M47.2 223.0h0.95M57.7 218.9h0.95M64.8 226.0h0.95M91.1 245.1h0.95M100.8 238.7h0.95M103.9 217.2h0.95M44.7 211.2h0.95M51.0 231.4h0.95M57.1 219.4h0.95M91.9 246.1h0.95M54.6 196.2h0.95M60.4 251.0h0.95M102.7 212.6h0.95M45.7 218.8h0.95M57.2 220.8h0.95M61.5 209.3h0.95M92.1 217.6h0.95M75.5 225.7h0.95M41.1 233.6h0.95M59.1 227.4h0.95M84.6 240.0h0.95M99.2 243.1h0.95M48.8 229.3h0.95M49.8 205.1h0.95M45.9 233.4h0.95M42.5 228.3h0.95M60.0 223.1h0.95M95.7 236.3h0.95M41.6 232.3h0.95M75.2 221.4h0.95M59.1 212.4h0.95M89.0 244.5h0.95M102.4 242.4h0.95M71.3 241.7h0.95M87.3 226.9h0.95M87.6 228.1h0.95M48.9 199.7h0.95M90.2 218.3h0.95M100.0 231.8h0.95M53.7 217.8h0.95M43.6 224.3h0.95M107.5 216.7h0.95M108.6 234.0h0.95M78.2 231.4h0.95M47.6 218.0h0.95M57.0 229.1h0.95M68.3 224.3h0.95M47.4 224.6h0.95M66.6 238.6h0.95M82.2 205.2h0.95M88.8 251.8h0.95M78.5 229.2h0.95M94.7 219.7h0.95M82.6 231.7h0.95M43.4 235.3h0.95M85.5 228.0h0.95M51.3 227.4h0.95M76.4 238.1h0.95M43.6 225.5h0.95M53.9 223.7h0.95M80.7 240.6h0.95M92.4 223.0h0.95M86.4 238.0h0.95M49.5 227.2h0.95M74.2 228.4h0.95M53.7 226.3h0.95M100.4 231.8h0.95M56.0 208.5h0.95M108.6 245.7h0.95M86.2 232.3h0.95M104.7 245.1h0.95M54.1 219.4h0.95M64.5 230.5h0.95M58.2 222.2h0.95M76.4 227.7h0.95M58.6 207.9h0.95M59.9 243.6h0.95M43.3 218.6h0.95M68.8 228.3h0.95M58.0 216.1h0.95M74.1 226.7h0.95M76.6 234.7h0.95M49.0 222.6h0.95M61.0 226.0h0.95M69.8 219.7h0.95M74.9 205.2h0.95M55.2 223.7h0.95M84.6 233.4h0.95M46.8 214.2h0.95M46.4 225.4h0.95M45.0 220.2h0.95M61.7 246.4h0.95M92.7 243.3h0.95M87.0 246.2h0.95M90.8 230.5h0.95M62.7 233.9h0.95M57.8 239.2h0.95M55.5 214.4h0.95M57.4 219.6h0.95M105.5 239.4h0.95M70.2 233.6h0.95M100.5 231.4h0.95M78.5 210.8h0.95M67.0 222.9h0.95M80.3 237.0h0.95M60.4 205.3h0.95M85.6 226.7h0.95M95.5 228.4h0.95M106.2 218.0h0.95M80.7 238.5h0.95M72.7 226.0h0.95M49.0 235.4h0.95M95.6 251.8h0.95M82.8 234.1h0.95M53.1 213.7h0.95M98.1 227.8h0.95M47.3 196.9h0.95M41.6 197.5h0.95M91.6 240.1h0.95M105.3 228.2h0.95M79.0 216.6h0.95M46.6 215.1h0.95M50.6 233.0h0.95M71.6 249.4h0.95M94.5 221.9h0.95M52.7 225.4h0.95M102.3 230.7h0.95M86.8 221.8h0.95M90.0 240.1h0.95M57.3 237.8h0.95M108.6 238.4h0.95M77.4 249.8h0.95M59.7 228.7h0.95M49.5 231.6h0.95M60.5 218.6h0.95M41.4 211.8h0.95M77.4 221.0h0.95M91.5 218.9h0.95M91.6 214.3h0.95M57.9 241.9h0.95M106.1 253.5h0.95M49.9 220.5h0.95M72.2 221.1h0.95M95.7 233.2h0.95M57.2 232.0h0.95M79.3 233.1h0.95M101.6 230.1h0.95M81.1 237.1h0.95M74.8 219.0h0.95M57.7 213.5h0.95M86.1 239.1h0.95M56.1 212.5h0.95M53.5 204.6h0.95M107.5 232.9h0.95M75.3 216.6h0.95M66.1 238.5h0.95M48.3 230.6h0.95M82.1 250.7h0.95M88.7 211.0h0.95M53.5 206.2h0.95M103.4 250.1h0.95M74.4 234.7h0.95M51.8 206.4h0.95M40.9 215.9h0.95M70.4 240.5h0.95M73.9 220.4h0.95M46.7 211.7h0.95M80.9 209.3h0.95M71.9 217.0h0.95M64.2 214.8h0.95M73.9 235.4h0.95M85.3 243.6h0.95M63.8 252.4h0.95M67.0 227.0h0.95M85.1 235.3h0.95M45.4 251.1h0.95M86.6 247.2h0.95M52.5 232.6h0.95M74.1 208.7h0.95M78.7 236.3h0.95M55.5 236.1h0.95M43.3 229.6h0.95M42.7 198.6h0.95M49.9 237.3h0.95M100.7 231.0h0.95M65.0 220.7h0.95M72.5 253.6h0.95M101.5 222.6h0.95M76.1 244.3h0.95M43.2 212.1h0.95M61.0 229.2h0.95M51.8 216.1h0.95M82.9 233.8h0.95M55.8 231.8h0.95M55.0 231.4h0.95M56.1 220.6h0.95M54.3 197.2h0.95M83.8 231.0h0.95M83.7 230.7h0.95M58.3 224.5h0.95M42.6 213.6h0.95M59.6 228.4h0.95M45.1 230.2h0.95M93.7 238.5h0.95M75.3 236.1h0.95M43.9 224.0h0.95M57.3 225.1h0.95M63.3 243.9h0.95M61.9 203.7h0.95M76.5 244.7h0.95M105.2 250.6h0.95M57.2 247.6h0.95M48.7 204.0h0.95M70.3 245.0h0.95M97.2 254.9h0.95M93.6 229.6h0.95M71.1 210.4h0.95M51.9 224.2h0.95M67.0 237.6h0.95M103.1 247.7h0.95M69.4 239.5h0.95M71.7 234.4h0.95M78.1 239.4h0.95M99.0 232.3h0.95M79.2 217.2h0.95M59.9 211.8h0.95M44.9 216.2h0.95M76.6 212.8h0.95M53.4 199.9h0.95M55.3 203.5h0.95M55.1 224.8h0.95M61.6 218.7h0.95M96.3 242.4h0.95M52.3 217.1h0.95M106.5 243.2h0.95M60.7 234.7h0.95M40.9 203.4h0.95M98.0 226.0h0.95M79.1 222.5h0.95M92.1 247.2h0.95M99.1 239.5h0.95M99.2 235.9h0.95M80.8 245.9h0.95M89.9 237.7h0.95M70.4 235.0h0.95M49.9 225.4h0.95M103.5 233.2h0.95M52.1 221.9h0.95M94.2 248.0h0.95M83.4 231.6h0.95M59.2 238.2h0.95M43.2 228.1h0.95M51.4 226.6h0.95M78.1 215.4h0.95M46.3 232.1h0.95M100.2 225.6h0.95M58.6 230.9h0.95M91.6 239.4h0.95M74.1 218.5h0.95M89.9 232.4h0.95M64.4 249.6h0.95M71.9 227.6h0.95M47.4 198.4h0.95M46.2 213.7h0.95M45.5 206.2h0.95M43.3 224.4h0.95M56.1 255.0h0.95M61.5 231.0h0.95M47.7 231.2h0.95M84.7 221.1h0.95M58.1 224.6h0.95M52.0 235.8h0.95M89.7 217.5h0.95M40.9 231.8h0.95M94.0 235.7h0.95M83.4 230.5h0.95M94.1 236.5h0.95M49.8 225.5h0.95M61.2 230.6h0.95M56.1 212.1h0.95M58.9 251.8h0.95M65.7 219.8h0.95M57.6 243.0h0.95M70.2 207.5h0.95M90.4 232.9h0.95M59.4 254.8h0.95M72.4 252.3h0.95M87.6 234.6h0.95M88.3 239.4h0.95M69.0 215.9h0.95M42.5 214.5h0.95M42.5 229.6h0.95M91.7 255.6h0.95M79.0 224.3h0.95M48.2 209.6h0.95M45.6 224.1h0.95M87.3 245.1h0.95M78.1 235.3h0.95M42.0 188.0h0.95M95.0 203.0h0.95M72.0 262.0h0.95M113.0 239.0h0.95M102.0 265.0h0.95M58.0 197.0h0.95M110.0 215.0h0.95M45.0 257.0h0.95M88.0 260.0h0.95" stroke="#1e1e1e" stroke-width="0.95" fill="none"/>
<line x1="38.80" y1="183.40" x2="38.80" y2="269.60" stroke="#2a2a2a" stroke-width="1.05"/>
<line x1="38.30" y1="269.30" x2="116.00" y2="269.30" stroke="#2a2a2a" stroke-width="1.05"/>
<line x1="35.80" y1="193.00" x2="38.80" y2="193.00" stroke="#2a2a2a" stroke-width="1.05"/>
<text x="34.20" y="196.40" font-size="9.6" text-anchor="end" fill="#1c1c1c" stroke="#1c1c1c" stroke-width="0.25">10</text>
<line x1="35.80" y1="226.20" x2="38.80" y2="226.20" stroke="#2a2a2a" stroke-width="1.05"/>
<text x="34.20" y="229.60" font-size="9.6" text-anchor="end" fill="#1c1c1c" stroke="#1c1c1c" stroke-width="0.25">0</text>
<line x1="35.80" y1="259.40" x2="38.80" y2="259.40" stroke="#2a2a2a" stroke-width="1.05"/>
<text x="34.20" y="262.80" font-size="9.6" text-anchor="end" fill="#1c1c1c" stroke="#1c1c1c" stroke-width="0.25">-10</text>
<line x1="38.80" y1="269.30" x2="38.80" y2="272.30" stroke="#2a2a2a" stroke-width="1.05"/>
<text x="38.80" y="284.40" font-size="9.6" text-anchor="middle" fill="#1c1c1c" stroke="#1c1c1c" stroke-width="0.25">0.0</text>
<line x1="77.40" y1="269.30" x2="77.40" y2="272.30" stroke="#2a2a2a" stroke-width="1.05"/>
<text x="77.40" y="284.40" font-size="9.6" text-anchor="middle" fill="#1c1c1c" stroke="#1c1c1c" stroke-width="0.25">0.5</text>
<line x1="116.00" y1="269.30" x2="116.00" y2="272.30" stroke="#2a2a2a" stroke-width="1.05"/>
<text x="116.00" y="284.40" font-size="9.6" text-anchor="middle" fill="#1c1c1c" stroke="#1c1c1c" stroke-width="0.25">1.0</text>
<text x="77.30" y="298.00" font-size="10.2" text-anchor="middle" fill="#1c1c1c" stroke="#1c1c1c" stroke-width="0.25">Methylation (β)</text>
<text x="12.30" y="227.70" font-size="10.05" text-anchor="middle" fill="#1c1c1c" stroke="#1c1c1c" stroke-width="0.25" transform="rotate(-90 12.30 227.70)">Expression (log2 RPKM)</text>
<text x="154.00" y="164.30" font-size="13.6" fill="#0a0a0a" font-weight="bold">E</text>
<line x1="192.20" y1="184.40" x2="192.20" y2="278.40" stroke="#2a2a2a" stroke-width="1"/>
<line x1="191.70" y1="277.90" x2="286.50" y2="277.90" stroke="#2a2a2a" stroke-width="1"/>
<line x1="188.90" y1="277.90" x2="192.20" y2="277.90" stroke="#2a2a2a" stroke-width="1"/>
<text x="182.00" y="280.74" font-size="8.0" text-anchor="end" fill="#1c1c1c" stroke="#1c1c1c" stroke-width="0.25">0.0</text>
<line x1="188.90" y1="259.32" x2="192.20" y2="259.32" stroke="#2a2a2a" stroke-width="1"/>
<text x="182.00" y="262.16" font-size="8.0" text-anchor="end" fill="#1c1c1c" stroke="#1c1c1c" stroke-width="0.25">0.2</text>
<line x1="188.90" y1="240.74" x2="192.20" y2="240.74" stroke="#2a2a2a" stroke-width="1"/>
<text x="182.00" y="243.58" font-size="8.0" text-anchor="end" fill="#1c1c1c" stroke="#1c1c1c" stroke-width="0.25">0.4</text>
<line x1="188.90" y1="222.16" x2="192.20" y2="222.16" stroke="#2a2a2a" stroke-width="1"/>
<text x="182.00" y="225.00" font-size="8.0" text-anchor="end" fill="#1c1c1c" stroke="#1c1c1c" stroke-width="0.25">0.6</text>
<line x1="188.90" y1="203.58" x2="192.20" y2="203.58" stroke="#2a2a2a" stroke-width="1"/>
<text x="182.00" y="206.42" font-size="8.0" text-anchor="end" fill="#1c1c1c" stroke="#1c1c1c" stroke-width="0.25">0.8</text>
<line x1="188.90" y1="185.00" x2="192.20" y2="185.00" stroke="#2a2a2a" stroke-width="1"/>
<text x="182.00" y="187.84" font-size="8.0" text-anchor="end" fill="#1c1c1c" stroke="#1c1c1c" stroke-width="0.25">1.0</text>
<line x1="203.60" y1="185.00" x2="203.60" y2="207.57" stroke="#333" stroke-width="1.15"/>
<line x1="203.60" y1="273.44" x2="203.60" y2="277.90" stroke="#333" stroke-width="1.15"/>
<line x1="201.60" y1="185.00" x2="205.60" y2="185.00" stroke="#333" stroke-width="1.1"/>
<line x1="201.60" y1="277.30" x2="205.60" y2="277.30" stroke="#333" stroke-width="1.1"/>
<rect x="198.80" y="207.57" width="9.60" height="65.87" fill="#fff" stroke="#333" stroke-width="1.05"/>
<line x1="198.80" y1="258.21" x2="208.40" y2="258.21" stroke="#333" stroke-width="1.05"/>
<line x1="227.10" y1="185.00" x2="227.10" y2="205.62" stroke="#333" stroke-width="1.15"/>
<line x1="227.10" y1="273.44" x2="227.10" y2="277.90" stroke="#333" stroke-width="1.15"/>
<line x1="225.10" y1="185.00" x2="229.10" y2="185.00" stroke="#333" stroke-width="1.1"/>
<line x1="225.10" y1="277.30" x2="229.10" y2="277.30" stroke="#333" stroke-width="1.1"/>
<rect x="222.30" y="205.62" width="9.60" height="67.82" fill="#fff" stroke="#333" stroke-width="1.05"/>
<line x1="222.30" y1="260.25" x2="231.90" y2="260.25" stroke="#333" stroke-width="1.05"/>
<line x1="250.60" y1="185.00" x2="250.60" y2="205.62" stroke="#333" stroke-width="1.15"/>
<line x1="250.60" y1="273.44" x2="250.60" y2="277.90" stroke="#333" stroke-width="1.15"/>
<line x1="248.60" y1="185.00" x2="252.60" y2="185.00" stroke="#333" stroke-width="1.1"/>
<line x1="248.60" y1="277.30" x2="252.60" y2="277.30" stroke="#333" stroke-width="1.1"/>
<rect x="245.80" y="205.62" width="9.60" height="67.82" fill="#fff" stroke="#333" stroke-width="1.05"/>
<line x1="245.80" y1="259.32" x2="255.40" y2="259.32" stroke="#333" stroke-width="1.05"/>
<line x1="274.00" y1="185.00" x2="274.00" y2="207.85" stroke="#333" stroke-width="1.15"/>
<line x1="274.00" y1="273.44" x2="274.00" y2="277.90" stroke="#333" stroke-width="1.15"/>
<line x1="272.00" y1="185.00" x2="276.00" y2="185.00" stroke="#333" stroke-width="1.1"/>
<line x1="272.00" y1="277.30" x2="276.00" y2="277.30" stroke="#333" stroke-width="1.1"/>
<rect x="269.20" y="207.85" width="9.60" height="65.59" fill="#fff" stroke="#333" stroke-width="1.05"/>
<line x1="269.20" y1="263.87" x2="278.80" y2="263.87" stroke="#333" stroke-width="1.05"/>
<text x="201.20" y="291.70" font-size="9.0" text-anchor="middle" fill="#1c1c1c" stroke="#1c1c1c" stroke-width="0.25">DLD1</text>
<text x="223.90" y="291.70" font-size="9.0" text-anchor="middle" fill="#1c1c1c" stroke="#1c1c1c" stroke-width="0.25">SA</text>
<text x="248.20" y="291.70" font-size="9.0" text-anchor="middle" fill="#1c1c1c" stroke="#1c1c1c" stroke-width="0.25">SPH</text>
<text x="275.40" y="291.70" font-size="9.0" text-anchor="middle" fill="#1c1c1c" stroke="#1c1c1c" stroke-width="0.25">METS</text>
<text x="165.30" y="232.80" font-size="10.35" text-anchor="middle" fill="#1c1c1c" stroke="#1c1c1c" stroke-width="0.25" transform="rotate(-90 165.30 232.80)">Methylation&#160;&#160;(β)</text>
<line x1="202.60" y1="172.50" x2="232.70" y2="172.50" stroke="#333" stroke-width="1.05"/>
<line x1="245.70" y1="172.50" x2="275.50" y2="172.50" stroke="#333" stroke-width="1.05"/>
<text x="239.80" y="175.85" font-size="7.0" text-anchor="middle" fill="#333" font-weight="bold" letter-spacing="1.2" stroke="#333" stroke-width="0.5">***</text>
<line x1="202.60" y1="179.70" x2="208.45" y2="179.70" stroke="#333" stroke-width="1.05"/>
<line x1="221.45" y1="179.70" x2="225.10" y2="179.70" stroke="#333" stroke-width="1.05"/>
<text x="215.55" y="183.05" font-size="7.0" text-anchor="middle" fill="#333" font-weight="bold" letter-spacing="1.2" stroke="#333" stroke-width="0.5">***</text>
<line x1="228.90" y1="179.70" x2="231.65" y2="179.70" stroke="#333" stroke-width="1.05"/>
<line x1="246.25" y1="179.70" x2="248.40" y2="179.70" stroke="#333" stroke-width="1.05"/>
<text x="238.95" y="182.20" font-size="7.6" text-anchor="middle" fill="#333" stroke="#333" stroke-width="0.25">n.s.</text>
<line x1="252.20" y1="179.70" x2="256.55" y2="179.70" stroke="#333" stroke-width="1.05"/>
<line x1="269.55" y1="179.70" x2="275.50" y2="179.70" stroke="#333" stroke-width="1.05"/>
<text x="263.65" y="183.05" font-size="7.0" text-anchor="middle" fill="#333" font-weight="bold" letter-spacing="1.2" stroke="#333" stroke-width="0.5">***</text>
<text x="310.60" y="164.50" font-size="13.6" fill="#0a0a0a" font-weight="bold">F</text>
<line x1="344.40" y1="184.90" x2="344.40" y2="278.00" stroke="#2a2a2a" stroke-width="1"/>
<line x1="343.90" y1="277.50" x2="410.90" y2="277.50" stroke="#2a2a2a" stroke-width="1"/>
<line x1="341.10" y1="277.50" x2="344.40" y2="277.50" stroke="#2a2a2a" stroke-width="1"/>
<text x="339.20" y="280.30" font-size="7.9" text-anchor="end" fill="#1c1c1c" stroke="#1c1c1c" stroke-width="0.25">0.0</text>
<line x1="341.10" y1="259.10" x2="344.40" y2="259.10" stroke="#2a2a2a" stroke-width="1"/>
<text x="339.20" y="261.90" font-size="7.9" text-anchor="end" fill="#1c1c1c" stroke="#1c1c1c" stroke-width="0.25">0.2</text>
<line x1="341.10" y1="240.70" x2="344.40" y2="240.70" stroke="#2a2a2a" stroke-width="1"/>
<text x="339.20" y="243.50" font-size="7.9" text-anchor="end" fill="#1c1c1c" stroke="#1c1c1c" stroke-width="0.25">0.4</text>
<line x1="341.10" y1="222.30" x2="344.40" y2="222.30" stroke="#2a2a2a" stroke-width="1"/>
<text x="339.20" y="225.10" font-size="7.9" text-anchor="end" fill="#1c1c1c" stroke="#1c1c1c" stroke-width="0.25">0.6</text>
<line x1="341.10" y1="203.90" x2="344.40" y2="203.90" stroke="#2a2a2a" stroke-width="1"/>
<text x="339.20" y="206.70" font-size="7.9" text-anchor="end" fill="#1c1c1c" stroke="#1c1c1c" stroke-width="0.25">0.8</text>
<line x1="341.10" y1="185.50" x2="344.40" y2="185.50" stroke="#2a2a2a" stroke-width="1"/>
<text x="339.20" y="188.30" font-size="7.9" text-anchor="end" fill="#1c1c1c" stroke="#1c1c1c" stroke-width="0.25">1.0</text>
<line x1="361.30" y1="185.50" x2="361.30" y2="236.10" stroke="#b4b4b4" stroke-width="1.15"/>
<line x1="361.30" y1="275.20" x2="361.30" y2="277.50" stroke="#b4b4b4" stroke-width="1.15"/>
<line x1="359.30" y1="185.50" x2="363.30" y2="185.50" stroke="#b4b4b4" stroke-width="1.1"/>
<line x1="359.30" y1="276.90" x2="363.30" y2="276.90" stroke="#b4b4b4" stroke-width="1.1"/>
<rect x="354.70" y="236.10" width="13.20" height="39.10" fill="#fff" stroke="#333" stroke-width="1.05"/>
<line x1="354.70" y1="271.98" x2="367.90" y2="271.98" stroke="#333" stroke-width="1.05"/>
<line x1="393.90" y1="185.50" x2="393.90" y2="246.22" stroke="#b4b4b4" stroke-width="1.15"/>
<line x1="393.90" y1="275.20" x2="393.90" y2="277.50" stroke="#b4b4b4" stroke-width="1.15"/>
<line x1="391.90" y1="185.50" x2="395.90" y2="185.50" stroke="#b4b4b4" stroke-width="1.1"/>
<line x1="391.90" y1="276.90" x2="395.90" y2="276.90" stroke="#b4b4b4" stroke-width="1.1"/>
<rect x="387.30" y="246.22" width="13.20" height="28.98" fill="#fff" stroke="#333" stroke-width="1.05"/>
<line x1="387.30" y1="271.98" x2="400.50" y2="271.98" stroke="#333" stroke-width="1.05"/>
<text x="360.40" y="288.00" font-size="9.6" text-anchor="middle" fill="#1c1c1c" stroke="#1c1c1c" stroke-width="0.25">Primary</text>
<text x="361.20" y="297.70" font-size="9.6" text-anchor="middle" fill="#1c1c1c" stroke="#1c1c1c" stroke-width="0.25">tumor</text>
<text x="392.20" y="288.00" font-size="9.6" text-anchor="middle" fill="#1c1c1c" stroke="#1c1c1c" stroke-width="0.25">Liver</text>
<text x="394.60" y="297.70" font-size="9.6" text-anchor="middle" fill="#1c1c1c" stroke="#1c1c1c" stroke-width="0.25">met.</text>
<text x="322.80" y="233.10" font-size="10.35" text-anchor="middle" fill="#1c1c1c" stroke="#1c1c1c" stroke-width="0.25" transform="rotate(-90 322.80 233.10)">Methylation&#160;&#160;(β)</text>
<line x1="361.50" y1="181.20" x2="372.30" y2="181.20" stroke="#333" stroke-width="1.05"/>
<line x1="385.00" y1="181.20" x2="393.70" y2="181.20" stroke="#333" stroke-width="1.05"/>
<text x="379.20" y="184.55" font-size="7.0" text-anchor="middle" fill="#333" font-weight="bold" letter-spacing="1.2" stroke="#333" stroke-width="0.5">***</text>
<text x="430.00" y="164.80" font-size="13.6" fill="#0a0a0a" font-weight="bold">G</text>
<line x1="463.00" y1="185.50" x2="463.00" y2="278.00" stroke="#2a2a2a" stroke-width="1"/>
<line x1="462.50" y1="277.50" x2="512.30" y2="277.50" stroke="#2a2a2a" stroke-width="1"/>
<line x1="459.70" y1="277.50" x2="463.00" y2="277.50" stroke="#2a2a2a" stroke-width="1"/>
<text x="457.00" y="280.34" font-size="8.0" text-anchor="end" fill="#1c1c1c" stroke="#1c1c1c" stroke-width="0.25">0.0</text>
<line x1="459.70" y1="259.22" x2="463.00" y2="259.22" stroke="#2a2a2a" stroke-width="1"/>
<text x="457.00" y="262.06" font-size="8.0" text-anchor="end" fill="#1c1c1c" stroke="#1c1c1c" stroke-width="0.25">0.2</text>
<line x1="459.70" y1="240.94" x2="463.00" y2="240.94" stroke="#2a2a2a" stroke-width="1"/>
<text x="457.00" y="243.78" font-size="8.0" text-anchor="end" fill="#1c1c1c" stroke="#1c1c1c" stroke-width="0.25">0.4</text>
<line x1="459.70" y1="222.66" x2="463.00" y2="222.66" stroke="#2a2a2a" stroke-width="1"/>
<text x="457.00" y="225.50" font-size="8.0" text-anchor="end" fill="#1c1c1c" stroke="#1c1c1c" stroke-width="0.25">0.6</text>
<line x1="459.70" y1="204.38" x2="463.00" y2="204.38" stroke="#2a2a2a" stroke-width="1"/>
<text x="457.00" y="207.22" font-size="8.0" text-anchor="end" fill="#1c1c1c" stroke="#1c1c1c" stroke-width="0.25">0.8</text>
<line x1="459.70" y1="186.10" x2="463.00" y2="186.10" stroke="#2a2a2a" stroke-width="1"/>
<text x="457.00" y="188.94" font-size="8.0" text-anchor="end" fill="#1c1c1c" stroke="#1c1c1c" stroke-width="0.25">1.0</text>
<line x1="475.60" y1="186.10" x2="475.60" y2="229.06" stroke="#555" stroke-width="1.15"/>
<line x1="475.60" y1="273.84" x2="475.60" y2="277.50" stroke="#555" stroke-width="1.15"/>
<line x1="473.60" y1="186.10" x2="477.60" y2="186.10" stroke="#555" stroke-width="1.1"/>
<line x1="473.60" y1="276.90" x2="477.60" y2="276.90" stroke="#555" stroke-width="1.1"/>
<rect x="470.70" y="229.06" width="9.80" height="44.79" fill="#fff" stroke="#333" stroke-width="1.05"/>
<line x1="470.70" y1="265.62" x2="480.50" y2="265.62" stroke="#333" stroke-width="1.05"/>
<line x1="500.50" y1="186.10" x2="500.50" y2="230.89" stroke="#555" stroke-width="1.15"/>
<line x1="500.50" y1="273.84" x2="500.50" y2="277.50" stroke="#555" stroke-width="1.15"/>
<line x1="498.50" y1="186.10" x2="502.50" y2="186.10" stroke="#555" stroke-width="1.1"/>
<line x1="498.50" y1="276.90" x2="502.50" y2="276.90" stroke="#555" stroke-width="1.1"/>
<rect x="495.60" y="230.89" width="9.80" height="42.96" fill="#fff" stroke="#333" stroke-width="1.05"/>
<line x1="495.60" y1="267.45" x2="505.40" y2="267.45" stroke="#333" stroke-width="1.05"/>
<text x="476.00" y="289.60" font-size="9.4" text-anchor="middle" fill="#1c1c1c" stroke="#1c1c1c" stroke-width="0.25">M0</text>
<text x="500.60" y="289.60" font-size="9.4" text-anchor="middle" fill="#1c1c1c" stroke="#1c1c1c" stroke-width="0.25">M1</text>
<text x="439.80" y="232.10" font-size="10.35" text-anchor="middle" fill="#1c1c1c" stroke="#1c1c1c" stroke-width="0.25" transform="rotate(-90 439.80 232.10)">Methylation&#160;&#160;(β)</text>
<line x1="475.40" y1="178.90" x2="481.40" y2="178.90" stroke="#333" stroke-width="1.05"/>
<line x1="495.10" y1="178.90" x2="500.40" y2="178.90" stroke="#333" stroke-width="1.05"/>
<text x="488.80" y="182.25" font-size="7.0" text-anchor="middle" fill="#333" font-weight="bold" letter-spacing="1.2" stroke="#333" stroke-width="0.5">***</text>
<text x="2.80" y="334.70" font-size="13.6" fill="#0a0a0a" font-weight="bold">H</text>
<line x1="97.05" y1="334.60" x2="97.05" y2="448.50" stroke="#3c3c3c" stroke-width="1.05"/>
<line x1="45.80" y1="391.20" x2="148.10" y2="391.20" stroke="#3c3c3c" stroke-width="1.05"/>
<path d="M91.6 391.3h1.5M100.9 391.3h1.5M95.3 396.6h1.5M87.3 387.7h1.5M93.8 388.8h1.5M94.1 393.9h1.5M93.6 391.6h1.5M101.8 393.5h1.5M97.6 389.6h1.5M93.1 383.3h1.5M88.8 386.6h1.5M103.1 392.8h1.5M93.2 393.6h1.5M91.2 387.8h1.5M93.6 390.0h1.5M96.4 387.0h1.5M96.7 392.9h1.5M98.8 392.8h1.5M92.4 392.6h1.5M93.3 395.4h1.5M99.4 391.6h1.5M94.0 386.2h1.5M103.1 387.0h1.5M100.7 391.1h1.5M92.3 392.0h1.5M94.5 389.6h1.5M91.8 387.0h1.5M96.2 394.6h1.5M92.2 391.4h1.5M93.0 387.2h1.5M97.6 385.7h1.5M98.3 392.6h1.5M97.2 386.2h1.5M103.9 386.3h1.5M99.6 390.9h1.5M93.6 395.2h1.5M94.0 388.3h1.5M104.3 390.7h1.5M95.8 384.6h1.5M101.1 388.8h1.5M93.4 396.2h1.5M98.6 392.6h1.5M106.6 388.5h1.5M89.9 393.6h1.5M99.5 396.8h1.5M89.8 395.1h1.5M99.9 392.7h1.5M103.4 389.3h1.5M98.4 387.7h1.5M96.9 389.7h1.5M95.9 388.8h1.5M97.8 387.3h1.5M100.0 396.4h1.5M93.6 395.5h1.5M91.2 399.7h1.5M92.8 391.2h1.5M92.7 394.1h1.5M96.7 389.6h1.5M83.2 385.4h1.5M88.7 385.3h1.5M92.1 392.7h1.5M102.0 383.5h1.5M104.0 397.4h1.5M104.2 388.4h1.5M92.2 390.3h1.5M100.9 388.4h1.5M104.3 387.7h1.5M94.2 398.7h1.5M93.9 386.9h1.5M97.5 388.2h1.5M97.2 392.1h1.5M97.9 393.8h1.5M90.4 387.7h1.5M92.7 391.8h1.5M95.2 381.3h1.5M89.7 388.8h1.5M92.1 384.8h1.5M97.6 387.3h1.5M95.2 387.2h1.5M103.1 397.7h1.5M87.7 396.9h1.5M99.2 394.0h1.5M99.4 390.3h1.5M96.3 393.1h1.5M100.7 388.1h1.5M95.4 392.1h1.5M77.1 389.0h1.5M104.1 393.4h1.5M93.6 397.4h1.5M94.7 398.5h1.5M90.4 386.0h1.5M92.0 397.5h1.5M104.3 399.0h1.5M102.9 398.6h1.5M107.0 392.0h1.5M93.6 393.4h1.5M88.7 386.6h1.5M100.6 387.5h1.5M89.8 389.1h1.5M92.2 388.8h1.5M90.5 391.5h1.5M94.5 388.9h1.5M99.5 391.9h1.5M103.1 389.2h1.5M92.6 384.3h1.5M94.8 384.5h1.5M96.5 391.9h1.5M94.6 393.6h1.5M97.0 388.5h1.5M92.6 386.4h1.5M102.7 393.3h1.5M93.5 389.9h1.5M97.4 386.7h1.5M97.1 391.8h1.5M87.1 388.2h1.5M104.8 386.7h1.5M89.2 394.4h1.5M97.5 398.2h1.5M88.0 396.1h1.5M95.0 392.5h1.5M93.5 393.4h1.5M98.3 391.3h1.5M96.4 391.5h1.5M94.8 392.3h1.5M86.9 393.3h1.5M98.6 391.3h1.5M104.8 393.2h1.5M96.8 390.6h1.5M105.3 390.5h1.5M89.6 387.5h1.5M96.1 392.4h1.5M94.7 383.4h1.5M101.8 393.9h1.5M93.7 393.3h1.5M91.7 394.4h1.5M101.0 390.5h1.5M91.4 390.1h1.5M98.5 391.6h1.5M94.5 392.5h1.5M97.7 398.2h1.5M106.7 391.5h1.5M87.3 396.7h1.5M94.7 389.9h1.5M104.1 391.1h1.5M95.6 390.7h1.5M100.6 391.7h1.5M95.1 389.3h1.5M104.4 389.7h1.5M94.6 392.2h1.5M95.2 393.5h1.5M99.4 387.7h1.5M111.0 391.2h1.5M96.0 393.4h1.5M97.8 397.1h1.5M100.7 389.1h1.5M92.0 391.2h1.5M100.3 390.4h1.5M103.7 394.9h1.5M98.9 393.8h1.5M90.4 392.5h1.5M94.0 392.6h1.5M94.3 394.2h1.5M96.4 389.4h1.5M104.2 383.5h1.5M96.4 391.3h1.5M99.3 393.6h1.5M100.2 390.8h1.5M95.7 393.9h1.5M94.7 389.8h1.5M90.0 392.9h1.5M97.9 391.5h1.5M98.4 394.9h1.5M95.2 390.3h1.5M102.5 384.9h1.5M100.0 392.4h1.5M104.4 389.6h1.5M102.4 393.0h1.5M86.7 393.2h1.5M90.1 392.5h1.5M94.4 392.6h1.5M100.6 389.7h1.5M99.4 395.6h1.5M99.5 392.7h1.5M98.3 390.6h1.5M95.1 392.7h1.5M86.3 389.3h1.5M100.7 395.1h1.5M99.5 388.6h1.5M99.3 398.7h1.5M93.9 392.5h1.5M99.9 391.8h1.5M104.5 386.6h1.5M97.0 390.2h1.5M94.8 388.9h1.5M99.0 391.5h1.5M85.7 392.9h1.5M99.1 394.6h1.5M92.7 393.0h1.5M104.6 385.5h1.5M100.9 391.3h1.5M98.9 391.5h1.5M96.4 387.4h1.5M95.9 391.0h1.5M97.1 389.6h1.5M92.6 389.6h1.5M97.4 393.5h1.5M94.3 395.2h1.5M98.0 389.5h1.5M93.6 390.0h1.5M88.3 386.5h1.5M91.8 390.3h1.5M98.1 390.7h1.5M93.8 391.6h1.5M93.7 390.3h1.5M94.9 396.0h1.5M95.6 394.3h1.5M97.1 387.7h1.5M96.5 396.5h1.5M94.5 387.8h1.5M99.0 397.5h1.5M95.9 390.4h1.5M104.3 391.3h1.5M93.3 385.8h1.5M94.0 393.5h1.5M92.5 394.5h1.5M97.3 386.7h1.5M86.4 388.1h1.5M98.8 384.3h1.5M97.5 389.5h1.5M103.1 387.6h1.5M100.2 394.2h1.5M98.3 393.0h1.5M95.9 393.5h1.5M88.7 390.6h1.5M101.0 379.4h1.5M102.1 391.1h1.5M96.1 392.2h1.5M91.0 394.7h1.5M102.2 392.1h1.5M89.9 389.9h1.5M93.6 388.1h1.5M97.9 386.8h1.5M96.5 380.5h1.5M98.1 390.7h1.5M95.7 380.6h1.5M94.9 390.6h1.5M97.9 396.0h1.5M95.5 394.1h1.5M97.7 389.6h1.5M92.7 404.9h1.5M96.2 394.4h1.5M98.2 403.2h1.5M96.4 388.8h1.5M96.4 394.2h1.5M92.8 383.6h1.5M99.5 393.4h1.5M95.8 381.9h1.5M96.2 401.6h1.5M92.4 388.5h1.5M96.6 395.0h1.5M95.5 391.9h1.5M94.8 398.4h1.5M93.5 384.7h1.5M96.7 378.5h1.5M97.2 395.5h1.5M95.6 379.7h1.5M95.6 390.7h1.5M94.1 389.4h1.5M92.7 388.2h1.5M98.0 395.1h1.5M95.3 382.4h1.5M97.0 389.8h1.5M94.8 389.7h1.5M96.8 391.5h1.5M96.0 402.0h1.5M95.8 390.6h1.5M93.9 389.2h1.5M97.5 389.6h1.5M93.9 383.2h1.5M94.8 393.1h1.5M94.2 388.1h1.5M96.1 394.2h1.5M95.5 396.1h1.5M96.4 394.8h1.5M95.0 397.4h1.5M95.0 384.2h1.5M95.0 399.0h1.5M99.4 385.1h1.5M97.0 378.8h1.5M94.8 383.3h1.5M98.3 384.3h1.5M96.8 390.6h1.5M96.4 392.0h1.5M95.0 385.3h1.5M94.9 399.5h1.5M97.5 385.4h1.5M97.1 405.3h1.5M97.7 392.4h1.5M96.4 392.0h1.5M96.0 384.4h1.5M94.3 392.0h1.5M96.4 392.3h1.5M98.2 387.7h1.5M96.8 386.3h1.5M95.6 395.9h1.5M95.2 408.9h1.5M95.7 390.7h1.5M95.1 388.9h1.5M95.2 389.0h1.5M95.2 393.5h1.5M97.1 380.9h1.5M97.2 393.7h1.5M96.3 382.3h1.5M97.6 387.8h1.5M97.6 389.3h1.5M96.6 401.7h1.5M94.6 393.9h1.5M95.0 390.5h1.5M95.0 384.9h1.5M100.1 388.7h1.5M94.1 389.1h1.5M95.1 385.4h1.5M93.8 396.2h1.5M96.3 396.8h1.5M93.4 400.3h1.5M94.4 397.4h1.5M100.0 381.2h1.5M95.3 395.3h1.5M98.7 394.6h1.5M96.4 387.6h1.5M120.5 390.0h1.5M91.8 389.1h1.5M91.0 392.8h1.5M90.6 390.7h1.5M96.9 392.7h1.5M94.3 392.3h1.5M106.8 391.0h1.5M115.2 391.2h1.5M98.4 392.1h1.5M101.9 392.4h1.5M109.5 391.8h1.5M82.6 390.7h1.5M104.9 390.6h1.5M108.8 390.3h1.5M96.7 391.5h1.5M88.1 391.6h1.5M92.4 391.7h1.5M92.5 391.6h1.5M90.4 388.8h1.5M97.0 390.0h1.5M96.2 389.2h1.5M73.7 391.0h1.5M105.1 388.5h1.5M96.0 391.4h1.5M98.5 393.7h1.5M89.5 391.7h1.5M77.5 392.0h1.5M95.0 391.0h1.5M98.9 392.9h1.5M124.4 391.3h1.5M111.8 387.3h1.5M108.8 390.5h1.5M101.0 390.6h1.5M108.7 392.0h1.5M101.8 393.3h1.5M99.4 387.3h1.5M82.7 391.6h1.5M100.1 391.0h1.5M104.7 391.4h1.5M92.0 391.2h1.5M96.9 391.0h1.5M88.0 389.0h1.5M99.5 392.5h1.5M86.8 389.5h1.5M82.2 391.1h1.5M91.6 390.3h1.5M125.1 392.3h1.5M104.0 391.1h1.5M104.8 392.4h1.5M93.3 392.4h1.5M102.5 390.2h1.5M113.9 391.7h1.5M116.8 390.4h1.5M76.0 391.7h1.5M88.1 392.2h1.5M82.3 390.3h1.5M96.8 391.2h1.5M108.0 393.8h1.5M103.0 392.8h1.5M101.4 391.7h1.5M101.9 392.1h1.5M118.4 389.5h1.5M115.4 389.2h1.5M87.5 391.6h1.5M88.7 387.7h1.5M106.7 390.0h1.5M80.4 393.7h1.5M79.2 389.6h1.5M89.3 393.1h1.5M102.0 390.8h1.5M102.7 393.0h1.5M104.2 392.9h1.5M84.7 390.3h1.5M94.5 390.5h1.5M102.0 392.1h1.5M98.9 393.0h1.5M98.1 391.1h1.5M98.8 389.8h1.5M86.7 387.2h1.5M87.2 392.3h1.5M127.6 389.0h1.5M102.4 391.9h1.5M97.5 393.5h1.5M89.8 392.8h1.5M96.7 391.6h1.5M86.3 391.1h1.5M93.1 390.3h1.5M95.2 390.9h1.5M108.7 391.4h1.5M112.9 390.5h1.5M105.2 388.8h1.5M100.9 388.4h1.5M101.5 393.0h1.5M96.1 392.7h1.5M115.2 391.5h1.5M109.2 390.6h1.5M97.7 389.6h1.5M91.2 392.1h1.5M113.6 389.5h1.5M97.8 391.3h1.5M97.5 390.1h1.5M89.5 390.0h1.5M79.2 390.5h1.5M105.5 391.5h1.5M104.3 393.6h1.5M105.7 392.7h1.5M98.5 390.0h1.5M108.1 390.7h1.5M106.7 391.1h1.5M110.6 389.5h1.5M128.7 390.4h1.5M123.8 389.9h1.5M140.0 391.1h1.5M115.0 390.0h1.5M123.8 391.3h1.5M132.4 389.9h1.5M139.4 390.2h1.5M139.9 391.7h1.5M114.5 392.0h1.5M117.1 391.9h1.5M141.7 392.1h1.5M112.2 391.9h1.5M112.4 391.2h1.5M120.4 390.1h1.5M116.7 392.5h1.5M139.3 389.7h1.5M111.8 390.4h1.5M122.1 390.9h1.5M127.5 390.4h1.5M133.9 392.0h1.5M116.8 392.4h1.5M137.5 391.6h1.5M141.0 391.6h1.5M134.4 390.7h1.5M125.8 390.0h1.5M129.2 391.8h1.5M134.7 390.1h1.5M138.0 392.1h1.5M134.6 391.1h1.5M123.9 391.7h1.5M68.8 391.8h1.5M81.1 391.1h1.5M80.7 392.6h1.5M67.9 389.7h1.5M80.9 389.8h1.5M76.7 389.8h1.5M78.8 391.7h1.5M78.7 392.4h1.5M68.6 391.9h1.5M75.2 391.5h1.5M71.3 391.8h1.5M67.1 389.8h1.5M76.5 392.5h1.5M67.0 390.2h1.5M67.5 390.6h1.5M73.5 389.9h1.5M68.7 390.5h1.5M70.6 392.4h1.5M70.5 391.1h1.5M78.0 390.3h1.5M95.7 384.4h1.5M95.0 391.3h1.5M94.6 401.2h1.5M95.0 381.0h1.5M97.2 378.9h1.5M95.0 391.8h1.5M97.9 401.9h1.5M97.5 390.4h1.5M97.2 389.1h1.5M97.2 379.1h1.5M97.6 385.0h1.5M97.6 403.7h1.5M95.3 402.1h1.5M94.7 405.7h1.5M94.8 397.7h1.5M96.6 406.1h1.5M97.5 377.9h1.5M95.5 402.8h1.5M94.5 386.4h1.5M95.1 395.7h1.5M95.6 400.0h1.5M95.3 403.5h1.5M95.7 375.6h1.5M95.7 399.2h1.5M98.1 395.6h1.5M97.5 396.2h1.5M94.7 376.4h1.5M95.8 390.1h1.5M96.4 392.5h1.5M98.0 392.0h1.5M97.7 389.8h1.5M97.7 404.4h1.5M96.7 388.6h1.5M97.0 389.1h1.5M95.4 376.7h1.5M94.7 393.3h1.5M96.5 406.5h1.5M97.5 393.4h1.5M94.8 399.7h1.5M96.2 384.4h1.5M96.6 391.7h1.5M95.9 391.1h1.5M94.7 396.1h1.5M94.8 399.1h1.5M96.0 376.8h1.5M95.6 404.5h1.5M96.6 376.3h1.5M97.3 388.1h1.5M94.5 391.3h1.5M94.5 393.5h1.5M96.0 405.0h1.5M94.8 395.2h1.5M98.1 388.6h1.5M95.5 395.6h1.5M94.7 407.4h1.5M97.0 403.1h1.5M97.0 391.9h1.5M95.2 407.4h1.5M98.1 391.8h1.5M97.7 398.6h1.5M97.2 402.4h1.5M94.6 397.1h1.5M94.9 382.9h1.5M95.3 399.5h1.5M96.4 389.6h1.5M96.2 394.5h1.5M98.2 380.7h1.5M97.6 405.5h1.5M94.4 396.8h1.5M95.4 405.0h1.5M95.7 390.5h1.5M96.2 381.4h1.5M96.8 397.4h1.5M97.5 378.8h1.5M96.7 378.0h1.5M98.0 375.3h1.5M94.7 399.2h1.5M96.0 394.1h1.5M94.7 402.8h1.5M94.6 390.0h1.5M95.5 401.0h1.5M95.7 396.9h1.5M94.8 382.8h1.5M97.6 404.2h1.5M95.2 393.4h1.5M94.9 397.0h1.5M97.3 403.7h1.5M95.6 375.4h1.5M94.6 382.3h1.5M95.7 385.0h1.5M97.7 383.2h1.5M96.4 375.0h1.5M97.4 392.0h1.5M94.4 385.0h1.5M96.1 385.5h1.5M94.5 407.4h1.5M95.2 400.8h1.5M95.3 395.0h1.5M97.3 406.4h1.5M98.2 400.5h1.5M97.4 406.0h1.5M96.0 392.8h1.5M95.0 388.6h1.5M95.6 376.0h1.5M98.0 388.2h1.5M97.5 391.7h1.5M96.5 377.8h1.5M97.0 384.6h1.5M94.5 403.2h1.5M97.6 400.1h1.5M102.7 393.0h1.5M101.6 389.6h1.5M89.3 390.6h1.5M94.2 392.4h1.5M97.4 392.4h1.5M102.7 392.0h1.5M94.4 391.4h1.5M84.6 390.5h1.5M89.2 392.5h1.5M106.4 391.7h1.5M100.3 389.9h1.5M102.5 391.2h1.5M102.1 392.0h1.5M97.8 391.0h1.5M94.6 392.0h1.5M107.2 392.4h1.5M93.4 391.9h1.5M101.0 389.4h1.5M88.7 389.7h1.5M88.3 391.4h1.5M85.8 390.1h1.5M91.2 391.1h1.5M99.4 392.0h1.5M85.5 391.2h1.5M90.6 390.4h1.5M88.5 393.0h1.5M99.7 390.7h1.5M89.5 390.8h1.5M102.0 390.8h1.5M93.8 389.6h1.5M102.4 392.1h1.5M96.1 391.9h1.5M94.2 392.5h1.5M107.2 392.0h1.5M95.7 390.0h1.5M104.0 391.1h1.5M99.2 391.9h1.5M86.1 389.9h1.5M99.9 389.4h1.5M85.7 389.7h1.5M104.5 390.1h1.5M107.6 391.7h1.5M102.4 390.9h1.5M88.7 392.7h1.5M107.1 390.6h1.5M103.6 389.3h1.5M101.1 389.6h1.5M88.9 390.6h1.5M85.0 389.9h1.5M87.0 391.1h1.5M91.4 390.1h1.5M84.7 389.6h1.5M86.1 392.4h1.5M105.4 393.0h1.5M106.5 390.5h1.5M90.3 391.6h1.5M108.5 392.3h1.5M93.8 392.9h1.5M88.5 392.3h1.5M94.2 390.2h1.5M97.9 390.1h1.5M103.9 391.3h1.5M106.7 392.9h1.5M85.4 392.3h1.5M89.9 389.7h1.5M98.2 390.3h1.5M100.0 390.5h1.5M93.2 390.1h1.5M95.8 390.2h1.5M106.6 392.8h1.5M84.6 390.6h1.5M103.4 390.1h1.5M89.1 389.9h1.5M84.4 390.8h1.5M105.4 392.2h1.5M97.4 389.3h1.5M98.9 390.1h1.5M95.8 390.8h1.5M103.5 389.5h1.5M89.9 392.0h1.5M90.5 392.1h1.5M91.1 392.8h1.5M103.7 390.9h1.5M104.3 389.4h1.5M85.0 391.9h1.5M89.2 390.7h1.5M93.7 391.2h1.5M89.7 390.2h1.5M91.5 392.5h1.5M106.3 390.2h1.5" stroke="#d8d8d8" stroke-width="1.5" fill="none"/>
<path d="M121.5 373.5h1.45M105.0 377.8h1.45M109.0 380.7h1.45M103.3 373.2h1.45M113.1 371.0h1.45M109.9 366.1h1.45M114.0 378.9h1.45M123.0 369.8h1.45M101.7 378.9h1.45M116.9 374.3h1.45M112.0 366.8h1.45M117.0 375.5h1.45M82.3 370.3h1.45M89.3 368.3h1.45M78.3 377.9h1.45M81.8 366.0h1.45M85.7 373.9h1.45M74.4 371.0h1.45M83.9 371.1h1.45M90.4 368.4h1.45M103.9 341.7h1.45M87.7 441.8h1.45M71.8 365.0h1.45M80.3 366.0h1.45M81.3 368.5h1.45M83.3 374.0h1.45M87.3 372.0h1.45M82.3 377.5h1.45M90.3 371.0h1.45M101.3 371.0h1.45M102.3 373.0h1.45M109.3 375.0h1.45M110.3 377.0h1.45M118.3 374.0h1.45M120.3 378.0h1.45M102.3 405.0h1.45M103.3 407.0h1.45M104.3 403.0h1.45M102.8 414.0h1.45M106.3 415.0h1.45M82.8 405.6h1.45M86.3 368.0h1.45M89.3 377.0h1.45M105.3 380.0h1.45M113.3 381.0h1.45M85.3 385.0h1.45M99.3 364.0h1.45M91.3 364.0h1.45M108.3 366.0h1.45" stroke="#e0232e" stroke-width="1.45" fill="none"/>
<path d="M89.6 376.4h1.5M91.2 383.1h1.5M93.2 383.2h1.5M93.1 370.5h1.5M88.8 383.7h1.5M91.4 379.7h1.5M88.7 385.1h1.5M89.8 384.1h1.5M87.2 383.6h1.5M92.1 383.1h1.5M92.1 378.5h1.5M89.9 381.7h1.5M91.2 374.8h1.5M88.8 386.1h1.5M88.5 385.0h1.5M89.0 381.4h1.5M92.4 385.8h1.5M89.0 380.4h1.5M89.2 380.1h1.5M88.0 381.3h1.5M86.9 382.4h1.5M87.7 379.6h1.5M89.8 376.2h1.5M92.5 377.3h1.5M85.8 386.2h1.5M92.1 372.3h1.5M86.5 384.8h1.5M89.1 378.6h1.5M92.4 374.7h1.5M92.0 374.3h1.5M92.4 384.7h1.5M92.8 370.8h1.5M92.3 385.3h1.5M91.6 377.3h1.5M92.3 371.2h1.5M86.1 383.2h1.5M91.0 380.3h1.5M91.4 384.2h1.5M85.5 385.3h1.5M90.0 377.6h1.5M89.5 377.5h1.5M91.4 376.2h1.5M85.8 384.3h1.5M93.3 371.0h1.5M90.6 376.9h1.5M89.8 384.0h1.5M89.0 385.9h1.5M91.7 381.2h1.5M90.3 376.0h1.5M93.6 375.8h1.5M86.7 381.7h1.5M91.5 374.9h1.5M90.3 376.7h1.5M93.6 372.2h1.5M93.4 377.2h1.5M103.2 382.6h1.5M100.7 386.4h1.5M101.9 385.9h1.5M104.0 385.6h1.5M102.4 378.4h1.5M99.6 376.4h1.5M104.1 386.3h1.5M99.1 382.8h1.5M99.9 371.2h1.5M102.6 382.3h1.5M101.6 382.7h1.5M101.3 380.0h1.5M103.7 378.0h1.5M99.7 376.5h1.5M99.1 383.9h1.5M106.2 383.0h1.5M101.0 371.6h1.5M104.9 380.7h1.5M100.9 381.2h1.5M100.2 383.9h1.5M101.0 386.4h1.5M104.8 385.1h1.5M102.8 380.9h1.5M99.4 378.8h1.5M104.5 382.3h1.5M103.4 383.0h1.5M101.6 373.3h1.5M102.4 377.6h1.5M100.7 383.4h1.5M98.9 374.4h1.5M99.8 370.0h1.5M104.4 379.0h1.5M102.1 385.7h1.5M99.0 378.7h1.5M107.7 383.3h1.5M99.6 380.1h1.5M101.6 374.8h1.5M103.2 376.6h1.5M99.1 372.3h1.5M99.4 374.0h1.5M107.1 382.5h1.5M103.5 383.0h1.5M103.9 377.3h1.5M102.9 380.7h1.5M105.1 384.1h1.5M100.0 382.5h1.5M100.7 373.4h1.5M103.1 385.6h1.5M102.1 376.5h1.5M99.8 373.6h1.5M101.5 380.7h1.5M103.1 377.1h1.5M104.2 385.9h1.5M99.9 384.4h1.5M105.4 383.9h1.5M84.4 397.6h1.5M87.4 399.4h1.5M83.3 399.3h1.5M91.9 400.3h1.5M89.7 400.5h1.5M92.1 397.3h1.5M89.4 399.3h1.5M87.9 401.5h1.5M84.5 398.3h1.5M86.8 400.5h1.5M85.1 401.3h1.5M91.8 401.8h1.5M87.5 402.0h1.5M91.4 401.7h1.5M86.2 401.5h1.5M83.8 401.9h1.5M84.0 401.3h1.5M87.9 397.6h1.5M86.2 400.2h1.5M85.5 401.5h1.5M93.7 402.0h1.5M88.4 400.6h1.5M83.2 398.0h1.5M87.3 400.9h1.5M92.3 396.2h1.5M88.2 396.6h1.5M100.4 401.5h1.5M101.3 397.6h1.5M99.8 400.9h1.5M99.0 396.9h1.5M102.5 398.2h1.5M103.1 402.0h1.5M103.5 398.2h1.5M105.3 396.8h1.5M103.6 398.0h1.5M101.6 398.2h1.5M105.2 400.1h1.5M101.5 400.1h1.5M105.2 397.6h1.5M100.8 400.5h1.5M102.5 403.5h1.5M100.2 398.3h1.5M100.3 402.4h1.5M102.5 398.3h1.5M102.8 403.3h1.5M103.1 403.8h1.5M101.5 401.0h1.5M104.8 402.7h1.5M105.1 400.7h1.5M99.3 396.1h1.5M91.3 409.0h1.5M91.8 411.0h1.5M74.3 401.0h1.5M119.3 398.0h1.5M118.3 385.0h1.5M121.3 384.5h1.5M79.3 383.0h1.5M108.3 399.0h1.5" stroke="#1a22d4" stroke-width="1.5" fill="none"/>
<line x1="45.80" y1="334.60" x2="45.80" y2="449.00" stroke="#444" stroke-width="1.1"/>
<line x1="45.30" y1="448.50" x2="148.10" y2="448.50" stroke="#444" stroke-width="1.1"/>
<line x1="43.00" y1="345.80" x2="45.80" y2="345.80" stroke="#444" stroke-width="1"/>
<text x="41.40" y="349.10" font-size="9.3" text-anchor="end" fill="#1c1c1c" stroke="#1c1c1c" stroke-width="0.25">0.4</text>
<line x1="43.00" y1="368.50" x2="45.80" y2="368.50" stroke="#444" stroke-width="1"/>
<text x="41.40" y="371.80" font-size="9.3" text-anchor="end" fill="#1c1c1c" stroke="#1c1c1c" stroke-width="0.25">0.2</text>
<line x1="43.00" y1="391.20" x2="45.80" y2="391.20" stroke="#444" stroke-width="1"/>
<text x="41.40" y="394.50" font-size="9.3" text-anchor="end" fill="#1c1c1c" stroke="#1c1c1c" stroke-width="0.25">0.0</text>
<line x1="43.00" y1="413.90" x2="45.80" y2="413.90" stroke="#444" stroke-width="1"/>
<text x="41.40" y="417.20" font-size="9.3" text-anchor="end" fill="#1c1c1c" stroke="#1c1c1c" stroke-width="0.25">-0.2</text>
<line x1="43.00" y1="436.60" x2="45.80" y2="436.60" stroke="#444" stroke-width="1"/>
<text x="41.40" y="439.90" font-size="9.3" text-anchor="end" fill="#1c1c1c" stroke="#1c1c1c" stroke-width="0.25">-0.4</text>
<line x1="45.90" y1="448.50" x2="45.90" y2="451.40" stroke="#444" stroke-width="1"/>
<text x="45.90" y="463.30" font-size="9.3" text-anchor="middle" fill="#1c1c1c" stroke="#1c1c1c" stroke-width="0.25">-10</text>
<line x1="71.47" y1="448.50" x2="71.47" y2="451.40" stroke="#444" stroke-width="1"/>
<text x="71.47" y="463.30" font-size="9.3" text-anchor="middle" fill="#1c1c1c" stroke="#1c1c1c" stroke-width="0.25">-5</text>
<line x1="97.05" y1="448.50" x2="97.05" y2="451.40" stroke="#444" stroke-width="1"/>
<text x="97.05" y="463.30" font-size="9.3" text-anchor="middle" fill="#1c1c1c" stroke="#1c1c1c" stroke-width="0.25">0</text>
<line x1="122.62" y1="448.50" x2="122.62" y2="451.40" stroke="#444" stroke-width="1"/>
<text x="122.62" y="463.30" font-size="9.3" text-anchor="middle" fill="#1c1c1c" stroke="#1c1c1c" stroke-width="0.25">5</text>
<line x1="148.20" y1="448.50" x2="148.20" y2="451.40" stroke="#444" stroke-width="1"/>
<text x="148.20" y="463.30" font-size="9.3" text-anchor="middle" fill="#1c1c1c" stroke="#1c1c1c" stroke-width="0.25">10</text>
<text x="97.30" y="478.70" font-size="9.85" text-anchor="middle" fill="#1c1c1c" stroke="#1c1c1c" stroke-width="0.25">Δ Expression (log<tspan font-size="7" dy="2.2">2</tspan><tspan dy="-2.2"> RPKM)</tspan></text>
<text x="97.30" y="490.60" font-size="9.85" text-anchor="middle" fill="#1c1c1c" stroke="#1c1c1c" stroke-width="0.25">MES – DLD1</text>
<text x="45.60" y="507.00" font-size="9.55" fill="#8c8c8c" stroke="#8c8c8c" stroke-width="0.25"><tspan font-style="italic">r</tspan> = -0.05; <tspan font-style="italic">P</tspan> &lt; 0.0001</text>
<text x="45.60" y="518.60" font-size="9.55" fill="#2a4c88" stroke="#2a4c88" stroke-width="0.25"><tspan font-style="italic">r</tspan> = -0.17; <tspan font-style="italic">P</tspan> = 0.01</text>
<text x="45.60" y="530.20" font-size="9.55" fill="#c42a36" stroke="#c42a36" stroke-width="0.25"><tspan font-style="italic">r</tspan> = -0.20; n.s.</text>
<text x="9.40" y="396.90" font-size="9.75" text-anchor="middle" fill="#1c1c1c" stroke="#1c1c1c" stroke-width="0.25" transform="rotate(-90 9.40 396.90)">Δ Methylation (β)</text>
<text x="19.30" y="395.40" font-size="9.6" text-anchor="middle" fill="#1c1c1c" stroke="#1c1c1c" stroke-width="0.25" transform="rotate(-90 19.30 395.40)">MES – DLD1</text>
<line x1="278.20" y1="334.60" x2="278.20" y2="448.50" stroke="#3c3c3c" stroke-width="1.05"/>
<line x1="227.60" y1="391.20" x2="329.90" y2="391.20" stroke="#3c3c3c" stroke-width="1.05"/>
<path d="M285.7 391.0h1.5M273.4 389.5h1.5M274.6 390.9h1.5M276.9 386.4h1.5M275.8 391.7h1.5M269.4 393.7h1.5M276.4 394.6h1.5M277.0 388.3h1.5M269.4 391.1h1.5M273.5 390.2h1.5M283.2 398.8h1.5M282.0 390.2h1.5M270.3 394.2h1.5M278.1 394.1h1.5M276.7 391.2h1.5M270.3 392.7h1.5M284.4 389.2h1.5M269.1 392.1h1.5M286.6 388.6h1.5M284.4 389.8h1.5M279.0 395.8h1.5M269.3 389.3h1.5M280.7 392.2h1.5M272.7 394.4h1.5M280.0 393.8h1.5M281.7 389.4h1.5M280.3 389.5h1.5M273.5 390.3h1.5M274.9 393.8h1.5M273.2 394.1h1.5M279.7 396.4h1.5M269.2 399.4h1.5M285.0 387.6h1.5M284.2 390.6h1.5M275.9 388.5h1.5M274.6 390.6h1.5M272.2 389.4h1.5M270.0 387.9h1.5M280.7 389.3h1.5M260.2 392.4h1.5M291.7 396.1h1.5M282.0 395.6h1.5M272.4 393.7h1.5M281.5 388.9h1.5M282.2 387.2h1.5M280.4 394.8h1.5M289.3 382.9h1.5M286.7 388.1h1.5M284.1 389.7h1.5M287.6 396.0h1.5M271.8 387.3h1.5M276.4 395.9h1.5M273.6 393.1h1.5M275.4 389.2h1.5M272.3 383.7h1.5M279.5 388.2h1.5M278.4 391.0h1.5M272.4 388.6h1.5M283.5 390.1h1.5M279.0 388.2h1.5M284.7 388.1h1.5M278.5 394.5h1.5M272.7 395.0h1.5M268.9 393.2h1.5M288.8 395.3h1.5M274.3 386.5h1.5M277.2 386.4h1.5M272.7 387.4h1.5M288.2 388.6h1.5M276.3 391.0h1.5M271.1 391.1h1.5M273.0 393.5h1.5M284.0 391.7h1.5M274.3 391.9h1.5M288.9 387.1h1.5M280.3 390.7h1.5M273.2 392.1h1.5M277.5 392.9h1.5M275.3 391.5h1.5M268.5 392.3h1.5M289.6 394.3h1.5M282.3 392.7h1.5M283.0 392.1h1.5M280.8 396.3h1.5M276.1 388.1h1.5M275.1 395.3h1.5M273.2 387.0h1.5M280.3 394.9h1.5M280.0 389.0h1.5M276.5 398.9h1.5M283.8 390.8h1.5M281.8 386.0h1.5M281.7 384.6h1.5M276.0 392.1h1.5M285.0 391.9h1.5M273.2 394.5h1.5M279.8 394.6h1.5M280.0 391.6h1.5M277.6 396.4h1.5M281.8 386.6h1.5M280.3 391.1h1.5M276.4 386.2h1.5M276.2 389.7h1.5M280.8 388.7h1.5M285.3 391.7h1.5M284.9 391.5h1.5M283.0 389.3h1.5M280.9 392.6h1.5M283.6 390.9h1.5M281.8 393.2h1.5M275.8 392.0h1.5M278.3 396.2h1.5M281.1 391.3h1.5M282.1 390.8h1.5M288.4 393.1h1.5M279.0 392.3h1.5M271.0 392.1h1.5M276.0 386.9h1.5M277.8 386.0h1.5M280.0 389.8h1.5M277.5 393.0h1.5M281.4 390.2h1.5M279.2 385.4h1.5M277.9 392.3h1.5M283.1 389.7h1.5M276.7 391.0h1.5M280.6 385.9h1.5M278.0 392.6h1.5M275.2 386.7h1.5M269.0 395.0h1.5M272.5 390.9h1.5M277.4 389.7h1.5M274.4 391.0h1.5M285.9 391.6h1.5M278.2 390.6h1.5M276.8 392.2h1.5M282.4 390.6h1.5M269.8 387.7h1.5M268.6 388.4h1.5M270.6 388.3h1.5M282.9 388.2h1.5M286.1 393.3h1.5M273.4 382.5h1.5M283.4 388.9h1.5M290.7 388.8h1.5M273.1 389.8h1.5M276.4 390.0h1.5M270.9 395.2h1.5M277.9 391.4h1.5M282.0 393.7h1.5M275.4 392.5h1.5M269.7 390.6h1.5M273.3 391.9h1.5M274.6 393.3h1.5M273.1 382.5h1.5M277.5 393.5h1.5M279.5 394.4h1.5M286.1 393.3h1.5M263.3 389.7h1.5M268.1 392.9h1.5M270.3 389.9h1.5M288.9 393.9h1.5M276.2 390.7h1.5M274.7 391.5h1.5M274.0 391.1h1.5M275.8 394.4h1.5M280.0 387.9h1.5M276.4 395.0h1.5M283.8 392.4h1.5M271.4 384.0h1.5M275.7 387.9h1.5M282.8 388.8h1.5M282.6 396.4h1.5M271.5 387.3h1.5M286.5 384.8h1.5M280.3 391.4h1.5M279.2 389.7h1.5M275.0 393.6h1.5M281.4 392.8h1.5M275.9 389.3h1.5M278.0 393.6h1.5M268.3 389.1h1.5M277.3 395.9h1.5M284.0 391.5h1.5M274.2 394.4h1.5M280.5 393.0h1.5M272.4 398.0h1.5M285.3 383.7h1.5M287.0 391.9h1.5M272.9 389.4h1.5M282.2 395.3h1.5M276.7 392.7h1.5M269.1 389.5h1.5M279.6 392.4h1.5M266.4 386.7h1.5M276.5 395.7h1.5M279.5 397.2h1.5M278.6 395.0h1.5M283.0 398.8h1.5M274.8 389.1h1.5M275.7 385.6h1.5M283.5 388.2h1.5M272.3 389.4h1.5M274.6 395.1h1.5M275.3 399.0h1.5M267.8 393.6h1.5M282.0 393.0h1.5M271.8 389.6h1.5M267.4 389.2h1.5M276.6 395.0h1.5M281.4 387.6h1.5M282.3 392.1h1.5M277.1 392.5h1.5M282.8 390.4h1.5M271.3 395.1h1.5M285.9 393.8h1.5M280.1 388.3h1.5M281.4 390.0h1.5M269.8 392.7h1.5M281.7 391.7h1.5M272.7 393.8h1.5M289.0 388.8h1.5M275.5 387.9h1.5M284.2 389.1h1.5M278.2 393.1h1.5M288.9 393.8h1.5M289.8 392.9h1.5M285.3 389.8h1.5M289.0 392.0h1.5M271.3 394.2h1.5M286.7 390.1h1.5M272.1 394.5h1.5M268.1 392.4h1.5M280.2 396.4h1.5M278.8 389.4h1.5M274.0 393.8h1.5M272.8 392.2h1.5M272.5 388.8h1.5M271.8 395.3h1.5M273.2 392.0h1.5M279.7 395.9h1.5M278.1 372.4h1.5M278.4 392.6h1.5M277.3 400.9h1.5M276.1 388.6h1.5M278.2 404.5h1.5M279.5 393.0h1.5M274.5 373.9h1.5M278.0 385.2h1.5M276.0 396.0h1.5M278.4 397.0h1.5M279.9 416.6h1.5M275.4 397.9h1.5M278.3 394.5h1.5M278.1 404.7h1.5M278.9 367.5h1.5M277.1 379.2h1.5M277.6 383.9h1.5M279.4 401.1h1.5M275.2 389.5h1.5M278.9 381.9h1.5M277.9 399.3h1.5M273.0 411.7h1.5M279.2 407.1h1.5M280.5 390.1h1.5M277.8 386.0h1.5M275.3 380.4h1.5M274.8 399.8h1.5M281.3 384.9h1.5M276.5 385.9h1.5M277.8 392.4h1.5M278.2 394.8h1.5M278.9 356.5h1.5M277.0 392.6h1.5M276.5 381.4h1.5M277.2 375.8h1.5M280.7 387.2h1.5M276.3 403.7h1.5M276.6 390.2h1.5M280.6 380.2h1.5M279.1 397.1h1.5M275.9 394.8h1.5M276.7 393.2h1.5M276.4 383.4h1.5M277.9 407.3h1.5M276.7 385.0h1.5M277.4 381.2h1.5M278.1 397.7h1.5M274.1 397.6h1.5M275.8 381.7h1.5M278.6 389.3h1.5M280.5 416.5h1.5M277.4 396.8h1.5M276.9 365.5h1.5M278.9 386.7h1.5M279.4 394.3h1.5M278.7 391.3h1.5M277.2 388.4h1.5M275.0 396.2h1.5M278.7 417.3h1.5M276.6 360.3h1.5M276.0 405.5h1.5M277.4 399.0h1.5M279.9 392.3h1.5M277.5 372.6h1.5M274.3 397.1h1.5M277.9 411.3h1.5M277.5 392.1h1.5M280.6 389.7h1.5M277.2 372.2h1.5M274.0 403.3h1.5M279.3 404.4h1.5M277.2 372.0h1.5M275.8 389.1h1.5M277.2 387.0h1.5M275.6 389.5h1.5M276.6 366.7h1.5M280.4 403.0h1.5M276.4 400.0h1.5M277.2 404.1h1.5M279.2 394.0h1.5M277.2 394.8h1.5M278.3 407.3h1.5M276.1 399.7h1.5M278.0 413.3h1.5M276.5 415.6h1.5M276.6 379.0h1.5M276.9 399.8h1.5M281.0 398.3h1.5M276.6 403.0h1.5M281.9 389.7h1.5M275.6 402.6h1.5M274.6 396.3h1.5M276.7 380.3h1.5M277.7 396.7h1.5M277.5 406.8h1.5M277.9 386.5h1.5M277.7 416.2h1.5M278.8 382.2h1.5M279.3 381.4h1.5M279.7 396.3h1.5M279.5 403.8h1.5M276.5 394.9h1.5M277.5 408.3h1.5M274.9 387.8h1.5M277.7 389.2h1.5M280.2 402.5h1.5M276.6 380.6h1.5M277.8 372.9h1.5M277.4 390.8h1.5M289.3 390.0h1.5M272.2 391.9h1.5M266.4 393.2h1.5M301.3 391.0h1.5M263.2 391.9h1.5M253.4 389.8h1.5M287.9 389.7h1.5M305.4 390.9h1.5M289.7 391.8h1.5M270.5 389.4h1.5M283.9 390.4h1.5M273.5 389.9h1.5M257.6 391.8h1.5M287.1 391.6h1.5M286.6 390.7h1.5M277.1 391.1h1.5M253.2 391.5h1.5M287.1 390.6h1.5M274.1 393.4h1.5M269.6 392.5h1.5M280.2 391.5h1.5M287.6 392.4h1.5M286.7 389.6h1.5M287.6 392.1h1.5M298.2 390.5h1.5M286.2 391.4h1.5M296.2 391.1h1.5M271.4 390.7h1.5M283.5 394.2h1.5M278.5 388.8h1.5M281.3 393.7h1.5M285.6 391.8h1.5M259.3 391.6h1.5M283.8 388.9h1.5M266.3 388.7h1.5M247.2 392.3h1.5M265.8 391.1h1.5M293.8 390.2h1.5M282.7 392.2h1.5M265.9 389.5h1.5M278.9 390.8h1.5M273.6 389.5h1.5M286.2 394.3h1.5M269.1 390.0h1.5M275.0 388.7h1.5M273.0 391.4h1.5M274.7 392.0h1.5M256.2 390.6h1.5M261.5 390.0h1.5M279.7 390.4h1.5M278.8 392.3h1.5M287.0 390.0h1.5M262.4 390.5h1.5M294.9 391.9h1.5M282.2 391.4h1.5M266.7 390.5h1.5M284.4 391.7h1.5M257.1 392.8h1.5M281.5 392.0h1.5M263.0 391.7h1.5M278.0 389.9h1.5M255.7 391.6h1.5M269.3 391.7h1.5M284.5 388.4h1.5M267.3 391.1h1.5M277.3 391.7h1.5M285.7 389.0h1.5M264.3 392.6h1.5M285.7 391.6h1.5M274.2 392.1h1.5M267.8 389.4h1.5M290.7 390.2h1.5M266.7 391.4h1.5M282.7 391.1h1.5M300.2 390.1h1.5M286.2 390.0h1.5M275.6 393.4h1.5M272.9 390.3h1.5M271.3 390.0h1.5M283.6 392.1h1.5M263.5 390.0h1.5M305.5 393.0h1.5M272.5 392.8h1.5M273.5 390.0h1.5M272.2 391.2h1.5M272.6 392.0h1.5M273.6 390.8h1.5M285.3 389.8h1.5M277.9 390.6h1.5M284.6 391.4h1.5M284.8 393.4h1.5M274.6 391.5h1.5M264.4 390.9h1.5M291.5 389.0h1.5M279.4 390.3h1.5M286.4 389.0h1.5M300.2 391.0h1.5M300.8 390.9h1.5M273.5 391.8h1.5M268.3 388.5h1.5M293.8 391.5h1.5M311.7 392.1h1.5M317.5 391.4h1.5M304.7 390.4h1.5M304.8 391.7h1.5M306.2 389.8h1.5M313.0 392.2h1.5M323.1 390.6h1.5M323.4 389.9h1.5M315.2 391.0h1.5M305.6 391.9h1.5M323.5 391.1h1.5M305.8 391.4h1.5M298.2 391.3h1.5M295.9 390.6h1.5M324.9 389.8h1.5M318.7 391.7h1.5M297.6 390.6h1.5M309.7 391.3h1.5M294.4 392.0h1.5M293.7 390.2h1.5M319.7 392.4h1.5M310.3 392.2h1.5M299.5 392.1h1.5M295.3 392.4h1.5M319.3 392.2h1.5M324.4 391.1h1.5M317.6 392.0h1.5M297.6 391.5h1.5M301.9 392.0h1.5M317.8 390.1h1.5M313.7 390.8h1.5M309.6 392.1h1.5M300.4 390.4h1.5M294.2 390.0h1.5M301.0 391.6h1.5M294.2 391.9h1.5M302.6 390.4h1.5M322.6 391.5h1.5M292.5 390.6h1.5M259.7 392.1h1.5M257.1 391.1h1.5M255.6 392.3h1.5M252.3 391.4h1.5M243.5 392.2h1.5M245.5 390.6h1.5M245.3 391.6h1.5M258.2 390.2h1.5M252.7 391.5h1.5M258.1 389.9h1.5M247.5 390.1h1.5M250.5 390.0h1.5M258.4 392.1h1.5M260.8 391.3h1.5M261.8 390.1h1.5M254.1 391.4h1.5M247.7 390.5h1.5M246.4 392.2h1.5M245.8 392.3h1.5M249.4 391.8h1.5M261.0 390.3h1.5M245.8 391.7h1.5M254.4 391.8h1.5M258.6 390.4h1.5M244.2 391.7h1.5M260.9 392.5h1.5M245.4 392.0h1.5M247.8 390.5h1.5M259.1 390.0h1.5M242.3 391.7h1.5M279.0 422.3h1.5M278.9 365.7h1.5M278.1 423.5h1.5M278.3 409.5h1.5M277.7 412.0h1.5M279.1 367.2h1.5M277.9 381.7h1.5M276.5 415.7h1.5M279.0 397.2h1.5M276.6 378.9h1.5M278.7 418.5h1.5M276.4 405.5h1.5M278.2 380.4h1.5M276.6 392.4h1.5M277.0 408.7h1.5M277.4 379.3h1.5M279.4 417.5h1.5M278.0 395.4h1.5M278.7 376.7h1.5M278.7 415.7h1.5M278.4 404.4h1.5M279.3 406.6h1.5M275.7 359.5h1.5M276.2 381.5h1.5M276.9 378.1h1.5M279.4 370.6h1.5M278.4 422.3h1.5M277.6 409.1h1.5M277.8 406.0h1.5M278.6 392.7h1.5M279.1 407.4h1.5M277.3 393.3h1.5M279.4 359.4h1.5M277.4 391.3h1.5M278.6 394.6h1.5M277.3 401.7h1.5M279.3 415.0h1.5M279.2 366.3h1.5M278.5 377.5h1.5M278.7 410.2h1.5M277.8 363.1h1.5M279.2 370.4h1.5M276.4 380.9h1.5M279.1 383.5h1.5M275.8 417.3h1.5M278.8 362.1h1.5M276.6 391.3h1.5M278.1 402.8h1.5M277.9 380.2h1.5M276.0 375.8h1.5M276.1 417.5h1.5M277.2 374.0h1.5M278.0 401.9h1.5M278.3 359.9h1.5M277.8 370.4h1.5M276.8 379.6h1.5M277.3 380.2h1.5M275.8 398.4h1.5M278.9 406.9h1.5M277.5 389.7h1.5M277.0 376.4h1.5M276.4 366.1h1.5M276.6 421.1h1.5M278.9 374.7h1.5M277.5 398.1h1.5M277.3 404.7h1.5M278.9 362.6h1.5M278.8 386.8h1.5M277.7 412.7h1.5M277.7 423.5h1.5M278.1 382.9h1.5M278.5 412.7h1.5M275.6 367.1h1.5M278.1 397.7h1.5M276.2 371.7h1.5M276.3 410.7h1.5M279.3 377.3h1.5M278.7 394.1h1.5M276.2 412.0h1.5M276.5 378.5h1.5M277.1 389.3h1.5M279.1 387.1h1.5M279.3 409.0h1.5M276.9 398.7h1.5M276.3 387.0h1.5M276.6 379.6h1.5M277.7 417.5h1.5M279.3 411.8h1.5M275.5 401.8h1.5M278.9 407.4h1.5M278.3 396.5h1.5M278.3 381.8h1.5M277.5 390.0h1.5M277.4 382.2h1.5M279.1 381.4h1.5M276.5 421.5h1.5M276.7 405.0h1.5M278.8 419.9h1.5M277.0 380.0h1.5M277.9 386.6h1.5M276.2 406.3h1.5M275.5 379.3h1.5M276.9 388.9h1.5M276.0 393.6h1.5M277.0 380.2h1.5M278.1 405.1h1.5M278.4 378.8h1.5M278.1 385.9h1.5M276.9 380.8h1.5M276.0 420.6h1.5M275.5 395.8h1.5M277.7 377.2h1.5M278.6 377.9h1.5M276.7 409.2h1.5M277.8 388.2h1.5M277.8 384.7h1.5M276.1 406.9h1.5M277.4 417.7h1.5M276.7 366.3h1.5M277.8 409.1h1.5M275.8 395.1h1.5M278.4 397.6h1.5M279.1 370.0h1.5M277.0 361.2h1.5M276.9 400.0h1.5M276.8 371.7h1.5M278.3 364.1h1.5M277.7 388.2h1.5M277.0 396.2h1.5M275.6 394.0h1.5M275.7 403.4h1.5M278.1 375.3h1.5M279.0 407.3h1.5M278.5 369.4h1.5M277.7 391.2h1.5M278.1 404.6h1.5M278.2 373.6h1.5M278.6 385.3h1.5M277.9 413.5h1.5M277.9 378.2h1.5M276.5 375.4h1.5M276.2 411.7h1.5M276.7 398.0h1.5M278.9 414.1h1.5M275.6 364.5h1.5M276.5 402.5h1.5M278.7 393.0h1.5M275.6 390.0h1.5M276.2 368.1h1.5M276.8 362.0h1.5M275.5 380.7h1.5M276.9 406.2h1.5M279.2 414.9h1.5M277.0 360.0h1.5M278.1 400.3h1.5M279.0 393.7h1.5M276.3 421.0h1.5M275.9 389.9h1.5M278.7 389.2h1.5M278.8 416.1h1.5M277.5 363.7h1.5M277.0 393.3h1.5M277.2 360.9h1.5M276.3 371.6h1.5M277.6 366.2h1.5M275.6 415.4h1.5M278.2 393.8h1.5M278.6 362.5h1.5M275.8 401.8h1.5M276.4 375.5h1.5M276.1 396.2h1.5M278.0 365.2h1.5M278.0 412.1h1.5M276.4 384.2h1.5M276.7 382.6h1.5M279.0 395.1h1.5M279.3 385.6h1.5M275.8 411.3h1.5M275.6 396.0h1.5M277.0 415.2h1.5M278.0 367.2h1.5M278.5 412.3h1.5M276.0 402.6h1.5M276.6 368.5h1.5M278.6 408.6h1.5M277.5 392.1h1.5M278.1 379.3h1.5M276.4 405.6h1.5M277.9 365.1h1.5M277.7 375.5h1.5M279.3 391.6h1.5M276.3 373.7h1.5M275.8 422.0h1.5M277.4 409.7h1.5M279.2 381.3h1.5M278.0 364.7h1.5M276.8 384.1h1.5M278.5 373.4h1.5M277.4 378.0h1.5M276.7 358.8h1.5M273.9 393.0h1.5M282.8 390.3h1.5M275.2 391.1h1.5M269.0 391.2h1.5M276.5 392.5h1.5M293.8 389.6h1.5M272.0 390.3h1.5M290.3 390.4h1.5M294.4 391.1h1.5M297.8 391.2h1.5M294.0 391.7h1.5M287.3 391.2h1.5M279.6 390.2h1.5M275.7 391.5h1.5M276.6 393.1h1.5M281.7 391.1h1.5M272.2 391.5h1.5M275.5 391.6h1.5M290.2 390.1h1.5M297.1 391.4h1.5M274.2 392.4h1.5M263.1 390.9h1.5M262.6 392.0h1.5M286.0 391.0h1.5M278.3 392.5h1.5M283.5 389.5h1.5M267.1 392.5h1.5M263.1 390.4h1.5M270.9 389.8h1.5M285.3 392.0h1.5M291.1 392.4h1.5M266.4 390.4h1.5M267.7 392.0h1.5M271.2 390.3h1.5M264.1 391.0h1.5M293.0 389.9h1.5M268.9 392.8h1.5M266.0 390.2h1.5M286.2 392.7h1.5M269.0 392.7h1.5M274.3 390.7h1.5M294.8 390.3h1.5M270.5 390.3h1.5M286.5 392.0h1.5M290.5 390.5h1.5M291.6 391.3h1.5M280.1 392.2h1.5M298.6 389.4h1.5M298.8 392.1h1.5M289.3 390.4h1.5M275.5 391.2h1.5M294.8 392.1h1.5M277.7 392.8h1.5M263.0 391.6h1.5M297.3 392.6h1.5M277.1 392.5h1.5M294.2 389.4h1.5M263.9 392.5h1.5M284.3 390.1h1.5M295.0 390.1h1.5M291.0 391.8h1.5M265.8 389.7h1.5M271.4 391.3h1.5M268.4 392.4h1.5M277.2 391.7h1.5M280.1 391.5h1.5M273.6 390.2h1.5M270.1 391.2h1.5M285.4 391.2h1.5M296.3 391.8h1.5M290.3 389.5h1.5M296.6 389.5h1.5M267.7 391.2h1.5M278.6 391.2h1.5M278.6 390.9h1.5M284.1 390.3h1.5M262.8 393.0h1.5M293.9 389.5h1.5M285.6 392.7h1.5M276.9 392.4h1.5M278.0 391.0h1.5M291.9 393.1h1.5M271.2 389.4h1.5M274.8 392.8h1.5M299.1 390.8h1.5M264.7 392.6h1.5M291.7 392.5h1.5M265.1 389.3h1.5M285.0 391.4h1.5M278.7 391.5h1.5M291.9 391.4h1.5M286.5 390.9h1.5M271.7 392.7h1.5M272.8 390.0h1.5M295.1 390.4h1.5M281.1 393.0h1.5M287.4 389.9h1.5M279.0 391.2h1.5M288.8 392.2h1.5M276.6 389.5h1.5M296.4 391.9h1.5M272.3 393.0h1.5M289.2 390.0h1.5M293.0 391.6h1.5M265.8 392.1h1.5M267.9 392.5h1.5M275.2 389.4h1.5M298.4 392.3h1.5M283.5 393.0h1.5M283.1 390.9h1.5M277.0 389.4h1.5M264.9 390.5h1.5M282.8 392.0h1.5M297.6 390.4h1.5M273.1 392.7h1.5M287.3 389.6h1.5M281.5 391.8h1.5M286.3 390.4h1.5M276.2 391.3h1.5M277.4 389.5h1.5M277.8 389.5h1.5M288.6 390.2h1.5M284.9 390.9h1.5M296.2 392.2h1.5M284.1 391.2h1.5M272.5 390.6h1.5M297.2 390.6h1.5M271.2 391.8h1.5M299.1 391.8h1.5M277.7 393.0h1.5" stroke="#d8d8d8" stroke-width="1.5" fill="none"/>
<path d="M269.7 374.1h1.45M271.2 374.4h1.45M264.5 372.7h1.45M267.3 372.5h1.45M264.1 373.4h1.45M268.8 369.1h1.45M263.5 372.1h1.45M266.1 377.0h1.45M269.0 374.4h1.45M267.0 364.3h1.45M266.4 370.8h1.45M267.1 366.8h1.45M272.3 364.2h1.45M265.5 371.3h1.45M269.8 375.2h1.45M264.2 365.4h1.45M273.6 375.5h1.45M263.5 372.7h1.45M258.4 371.3h1.45M272.0 376.0h1.45M261.9 370.0h1.45M268.5 376.6h1.45M271.5 373.6h1.45M256.8 367.3h1.45M271.2 375.1h1.45M271.0 370.4h1.45M265.7 379.3h1.45M271.5 366.4h1.45M272.9 379.6h1.45M267.6 376.4h1.45M262.3 365.9h1.45M262.9 372.2h1.45M271.8 367.3h1.45M261.3 373.6h1.45M260.4 367.3h1.45M263.2 374.5h1.45M258.5 374.2h1.45M264.7 376.2h1.45M258.2 377.0h1.45M260.7 377.5h1.45M267.6 355.6h1.45M262.2 369.3h1.45M272.1 364.4h1.45M265.5 374.7h1.45M260.3 380.2h1.45M260.3 367.4h1.45M266.2 362.4h1.45M268.0 363.8h1.45M263.8 369.1h1.45M262.5 364.9h1.45M267.4 373.1h1.45M256.2 370.1h1.45M271.4 375.4h1.45M261.8 367.8h1.45M261.1 371.3h1.45M263.4 375.6h1.45M264.4 372.9h1.45M263.3 376.2h1.45M262.1 371.1h1.45M255.7 364.5h1.45M268.1 370.4h1.45M264.1 364.4h1.45M272.9 371.3h1.45M265.8 378.4h1.45M271.0 378.5h1.45M267.6 372.2h1.45M265.9 370.0h1.45M260.2 377.8h1.45M259.4 377.3h1.45M266.0 374.8h1.45M253.8 368.6h1.45M261.2 371.7h1.45M259.2 360.1h1.45M255.8 354.5h1.45M253.6 370.6h1.45M266.4 354.3h1.45M265.4 358.0h1.45M262.6 367.2h1.45M258.7 367.1h1.45M268.6 357.9h1.45M256.7 357.2h1.45M268.8 365.5h1.45M262.9 354.9h1.45M271.1 366.4h1.45M264.8 354.0h1.45M265.8 361.2h1.45M265.4 360.7h1.45M265.2 360.0h1.45M282.7 367.8h1.45M293.3 364.6h1.45M283.1 380.8h1.45M284.5 367.4h1.45M283.5 369.7h1.45M285.8 372.1h1.45M281.8 380.1h1.45M291.1 369.7h1.45M293.6 369.1h1.45M282.9 363.9h1.45M281.7 379.1h1.45M287.5 378.9h1.45M284.7 377.6h1.45M282.0 365.9h1.45M290.1 372.6h1.45M291.6 377.3h1.45M286.3 377.0h1.45M281.4 372.3h1.45M286.9 364.2h1.45M283.7 377.8h1.45M284.4 378.2h1.45M285.3 380.4h1.45M294.6 369.7h1.45M285.3 368.4h1.45M286.7 374.3h1.45M290.9 378.3h1.45M283.1 371.5h1.45M281.8 376.3h1.45M288.2 373.0h1.45M292.3 377.5h1.45M293.2 372.6h1.45M283.2 370.9h1.45M285.9 371.2h1.45M291.4 373.3h1.45M284.1 373.7h1.45M293.2 370.8h1.45M301.5 372.0h1.45M292.3 376.5h1.45M298.1 360.3h1.45M297.3 372.9h1.45M288.7 364.4h1.45M294.8 375.2h1.45M300.0 376.0h1.45M299.9 375.9h1.45M294.7 362.0h1.45M280.7 408.6h1.45M284.2 417.2h1.45M285.0 415.1h1.45M290.9 402.8h1.45M286.9 415.8h1.45M280.1 405.1h1.45M283.7 413.8h1.45M281.7 399.9h1.45M290.4 404.1h1.45M283.1 407.7h1.45M284.6 406.9h1.45M287.0 404.8h1.45M285.9 410.2h1.45M283.7 412.3h1.45M286.2 402.5h1.45M285.9 403.0h1.45M290.3 406.4h1.45M282.6 404.7h1.45M291.5 410.8h1.45M284.4 407.6h1.45M283.0 408.6h1.45M282.9 403.7h1.45M285.6 410.2h1.45M282.9 414.7h1.45M290.2 412.4h1.45M282.9 420.6h1.45M269.5 338.0h1.45M264.5 343.0h1.45M291.5 339.0h1.45M314.5 350.0h1.45M273.5 431.0h1.45M299.5 428.0h1.45M310.5 411.0h1.45M292.5 355.0h1.45M250.5 364.0h1.45M248.5 367.0h1.45M307.5 372.0h1.45M301.5 401.0h1.45" stroke="#e0232e" stroke-width="1.45" fill="none"/>
<path d="M267.7 386.0h1.5M269.7 386.0h1.5M267.0 385.8h1.5M273.6 384.7h1.5M272.0 381.7h1.5M269.2 381.8h1.5M271.0 381.0h1.5M268.4 383.4h1.5M268.3 382.5h1.5M274.5 382.8h1.5M272.9 382.3h1.5M274.2 385.0h1.5M269.6 385.0h1.5M269.5 386.1h1.5M267.5 382.7h1.5M270.4 382.9h1.5M273.3 381.4h1.5M274.2 386.6h1.5M269.5 382.4h1.5M273.5 382.9h1.5M273.2 384.7h1.5M267.6 383.5h1.5M269.9 383.4h1.5M272.5 382.7h1.5M270.6 381.3h1.5M268.2 383.4h1.5M269.0 382.8h1.5M268.9 382.8h1.5M274.2 385.4h1.5M269.9 382.4h1.5M270.5 383.4h1.5M273.7 382.3h1.5M266.3 383.2h1.5M267.5 382.9h1.5M272.8 384.1h1.5M271.7 386.6h1.5M274.6 381.1h1.5M274.7 381.4h1.5M270.7 383.8h1.5M268.1 384.2h1.5M271.9 382.1h1.5M272.8 384.0h1.5M269.8 381.4h1.5M271.9 385.7h1.5M269.2 381.8h1.5M265.5 385.1h1.5M265.7 381.3h1.5M269.3 382.5h1.5M267.1 381.8h1.5M271.8 381.9h1.5M267.1 383.3h1.5M269.2 381.4h1.5M268.5 383.5h1.5M268.4 384.3h1.5M266.8 383.0h1.5M266.0 386.4h1.5M266.1 385.1h1.5M269.4 386.2h1.5M270.0 386.5h1.5M273.6 384.9h1.5M269.2 382.6h1.5M269.7 382.4h1.5M266.6 386.6h1.5M272.5 386.2h1.5M266.4 382.7h1.5M272.9 385.7h1.5M270.7 381.2h1.5M266.4 381.4h1.5M266.4 385.3h1.5M270.1 385.2h1.5M268.5 383.7h1.5M272.2 384.7h1.5M269.2 385.1h1.5M273.9 386.5h1.5M268.0 382.7h1.5M272.4 382.7h1.5M274.5 383.7h1.5M273.3 386.5h1.5M267.3 382.6h1.5M270.8 381.3h1.5M271.3 383.7h1.5M267.0 385.1h1.5M268.5 386.3h1.5M269.0 384.0h1.5M265.7 383.3h1.5M267.4 383.0h1.5M265.5 382.1h1.5M266.5 386.3h1.5M274.2 385.0h1.5M266.4 385.9h1.5M273.0 382.4h1.5M273.2 384.1h1.5M272.9 382.3h1.5M267.1 381.9h1.5M265.6 384.2h1.5M271.8 384.6h1.5M269.8 384.7h1.5M268.0 384.1h1.5M272.2 386.2h1.5M272.3 383.3h1.5M270.3 384.0h1.5M274.0 382.9h1.5M269.4 383.1h1.5M272.7 384.0h1.5M273.2 381.2h1.5M269.8 384.3h1.5M271.1 382.1h1.5M266.4 383.8h1.5M269.8 384.4h1.5M267.0 385.9h1.5M271.1 367.1h1.5M272.1 366.9h1.5M272.0 379.3h1.5M272.0 376.7h1.5M271.9 376.3h1.5M272.0 375.2h1.5M273.0 374.2h1.5M272.7 372.6h1.5M273.9 371.2h1.5M273.7 375.2h1.5M274.8 370.4h1.5M271.6 377.7h1.5M272.4 367.7h1.5M273.7 367.5h1.5M272.3 371.2h1.5M273.3 367.0h1.5M272.3 374.0h1.5M272.1 370.0h1.5M272.5 373.8h1.5M274.7 368.1h1.5M273.5 377.9h1.5M274.4 381.0h1.5M274.3 370.5h1.5M272.3 377.6h1.5M272.7 377.0h1.5M273.5 367.8h1.5M272.5 379.6h1.5M274.0 370.9h1.5M274.4 369.7h1.5M274.4 375.4h1.5M274.6 368.9h1.5M272.5 366.9h1.5M272.2 378.2h1.5M271.7 378.4h1.5M271.1 370.5h1.5M271.7 375.1h1.5M273.2 371.3h1.5M273.3 380.4h1.5M273.7 370.8h1.5M274.2 366.5h1.5M272.7 375.6h1.5M272.5 370.7h1.5M274.6 378.4h1.5M272.2 377.6h1.5M273.1 374.7h1.5M273.4 377.4h1.5M273.6 365.8h1.5M272.0 374.3h1.5M273.1 377.9h1.5M271.5 379.2h1.5M274.2 379.7h1.5M271.1 380.0h1.5M272.0 368.9h1.5M273.1 375.3h1.5M274.4 376.0h1.5M287.5 381.3h1.5M283.8 384.1h1.5M284.1 383.2h1.5M280.6 384.0h1.5M280.9 381.7h1.5M281.2 381.5h1.5M284.5 386.2h1.5M286.6 382.9h1.5M284.0 384.0h1.5M280.2 381.3h1.5M287.2 386.0h1.5M286.1 384.5h1.5M280.1 381.4h1.5M282.9 385.9h1.5M286.2 385.0h1.5M284.8 386.3h1.5M286.1 382.7h1.5M285.0 382.0h1.5M284.9 382.2h1.5M287.7 381.1h1.5M287.6 383.9h1.5M285.1 386.6h1.5M281.3 381.2h1.5M283.8 383.1h1.5M283.2 384.6h1.5M287.6 386.5h1.5M280.3 384.0h1.5M282.5 382.3h1.5M285.1 384.2h1.5M285.8 384.8h1.5M286.5 385.0h1.5M284.0 382.4h1.5M283.4 383.4h1.5M285.3 381.6h1.5M284.6 385.5h1.5M285.2 386.3h1.5M281.1 384.7h1.5M286.1 385.2h1.5M281.1 384.7h1.5M284.4 384.6h1.5M282.5 386.4h1.5M281.2 382.9h1.5M286.7 384.3h1.5M281.9 382.7h1.5M280.7 385.2h1.5M285.2 386.3h1.5M281.1 383.6h1.5M284.4 385.1h1.5M285.3 385.6h1.5M281.1 386.3h1.5M282.3 384.3h1.5M286.0 384.9h1.5M281.7 386.1h1.5M284.7 384.0h1.5M285.6 384.9h1.5M283.3 382.6h1.5M284.0 382.4h1.5M281.2 384.3h1.5M284.5 382.2h1.5M287.2 385.0h1.5M282.4 385.8h1.5M284.9 381.3h1.5M284.9 384.6h1.5M284.9 383.5h1.5M283.6 384.9h1.5M286.9 381.6h1.5M283.5 385.3h1.5M280.4 383.2h1.5M283.3 384.7h1.5M285.0 383.2h1.5M281.7 384.7h1.5M280.4 383.6h1.5M281.4 384.3h1.5M280.2 386.6h1.5M287.5 381.8h1.5M280.8 382.4h1.5M280.2 384.0h1.5M285.7 385.8h1.5M285.9 384.4h1.5M285.5 383.8h1.5M284.0 385.8h1.5M282.6 383.5h1.5M281.7 385.8h1.5M280.1 383.1h1.5M286.9 382.0h1.5M282.9 384.8h1.5M284.1 385.7h1.5M287.9 382.6h1.5M287.1 382.1h1.5M283.0 384.2h1.5M286.6 385.9h1.5M283.9 382.4h1.5M285.8 384.3h1.5M281.8 382.6h1.5M287.3 386.5h1.5M287.3 381.2h1.5M282.6 382.3h1.5M282.0 383.2h1.5M283.0 384.7h1.5M284.1 385.0h1.5M281.6 380.0h1.5M282.8 366.7h1.5M281.3 379.4h1.5M280.2 374.3h1.5M281.1 378.1h1.5M283.9 369.7h1.5M284.9 380.3h1.5M281.1 373.0h1.5M283.4 377.9h1.5M283.9 368.8h1.5M280.9 373.5h1.5M280.8 375.8h1.5M284.0 370.8h1.5M283.1 374.4h1.5M284.3 377.5h1.5M281.3 377.5h1.5M283.5 374.7h1.5M283.2 377.2h1.5M283.4 376.9h1.5M283.1 380.0h1.5M280.3 371.0h1.5M283.2 371.0h1.5M282.6 374.2h1.5M284.6 376.4h1.5M284.1 380.8h1.5M282.8 376.2h1.5M283.2 379.4h1.5M282.6 380.9h1.5M280.9 367.8h1.5M281.3 379.8h1.5M281.2 370.9h1.5M284.9 376.5h1.5M284.0 379.9h1.5M280.4 370.3h1.5M280.5 376.8h1.5M281.9 369.0h1.5M283.7 375.9h1.5M282.1 369.4h1.5M283.5 379.1h1.5M280.1 374.5h1.5M284.3 374.2h1.5M281.0 368.0h1.5M282.6 380.9h1.5M284.3 376.6h1.5M282.1 378.5h1.5M284.3 380.7h1.5M284.0 377.7h1.5M283.9 368.4h1.5M284.7 368.1h1.5M284.9 367.7h1.5M291.6 384.7h1.5M296.0 385.9h1.5M291.7 382.8h1.5M303.0 385.7h1.5M301.5 384.9h1.5M291.9 383.3h1.5M297.7 385.2h1.5M301.1 382.9h1.5M301.0 385.2h1.5M299.1 381.8h1.5M296.6 382.7h1.5M295.7 384.1h1.5M289.9 382.4h1.5M292.7 384.8h1.5M293.4 384.4h1.5M300.8 384.3h1.5M303.1 386.2h1.5M304.7 386.2h1.5M299.6 386.4h1.5M288.5 384.6h1.5M302.5 386.5h1.5M294.5 385.3h1.5M302.9 383.6h1.5M303.7 386.2h1.5M293.3 383.1h1.5M302.5 384.1h1.5M299.0 385.5h1.5M292.4 383.3h1.5M302.9 384.2h1.5M297.8 384.4h1.5M316.2 382.7h1.5M318.7 383.4h1.5M316.0 386.3h1.5M312.8 382.7h1.5M317.8 381.3h1.5M315.2 383.1h1.5M317.0 382.4h1.5M315.4 382.8h1.5M309.6 384.9h1.5M312.7 384.7h1.5M272.5 397.8h1.5M272.6 397.1h1.5M272.1 402.8h1.5M271.0 396.8h1.5M273.7 403.2h1.5M271.6 402.1h1.5M271.3 399.6h1.5M269.7 403.0h1.5M272.8 401.3h1.5M274.4 403.1h1.5M270.7 402.0h1.5M269.7 398.4h1.5M286.2 400.4h1.5M280.8 399.9h1.5M281.0 398.4h1.5M284.2 397.5h1.5M285.7 403.5h1.5M283.6 397.2h1.5M286.5 400.9h1.5M285.4 401.0h1.5M281.0 404.0h1.5M286.0 400.1h1.5M283.5 400.9h1.5M286.8 397.3h1.5M283.7 401.0h1.5M286.2 402.4h1.5M280.8 401.9h1.5M281.2 396.7h1.5M282.7 401.7h1.5M281.0 403.2h1.5M283.2 402.5h1.5M284.8 397.1h1.5M282.8 403.9h1.5M281.2 402.5h1.5M281.8 401.7h1.5M280.8 399.9h1.5M281.9 398.7h1.5M280.9 403.6h1.5M280.4 397.4h1.5M283.4 400.0h1.5M280.6 403.5h1.5M284.5 398.9h1.5M273.4 366.0h1.5M279.4 337.0h1.5M269.4 423.0h1.5M280.4 427.0h1.5M257.4 384.0h1.5M253.4 385.0h1.5M260.4 383.5h1.5M259.4 399.0h1.5M261.4 402.0h1.5M291.4 400.0h1.5M294.4 398.0h1.5M296.4 401.0h1.5" stroke="#1a22d4" stroke-width="1.5" fill="none"/>
<line x1="227.60" y1="334.60" x2="227.60" y2="449.00" stroke="#444" stroke-width="1.1"/>
<line x1="227.10" y1="448.50" x2="329.90" y2="448.50" stroke="#444" stroke-width="1.1"/>
<line x1="224.80" y1="345.80" x2="227.60" y2="345.80" stroke="#444" stroke-width="1"/>
<text x="223.20" y="349.10" font-size="9.3" text-anchor="end" fill="#1c1c1c" stroke="#1c1c1c" stroke-width="0.25">0.4</text>
<line x1="224.80" y1="368.50" x2="227.60" y2="368.50" stroke="#444" stroke-width="1"/>
<text x="223.20" y="371.80" font-size="9.3" text-anchor="end" fill="#1c1c1c" stroke="#1c1c1c" stroke-width="0.25">0.2</text>
<line x1="224.80" y1="391.20" x2="227.60" y2="391.20" stroke="#444" stroke-width="1"/>
<text x="223.20" y="394.50" font-size="9.3" text-anchor="end" fill="#1c1c1c" stroke="#1c1c1c" stroke-width="0.25">0.0</text>
<line x1="224.80" y1="413.90" x2="227.60" y2="413.90" stroke="#444" stroke-width="1"/>
<text x="223.20" y="417.20" font-size="9.3" text-anchor="end" fill="#1c1c1c" stroke="#1c1c1c" stroke-width="0.25">-0.2</text>
<line x1="224.80" y1="436.60" x2="227.60" y2="436.60" stroke="#444" stroke-width="1"/>
<text x="223.20" y="439.90" font-size="9.3" text-anchor="end" fill="#1c1c1c" stroke="#1c1c1c" stroke-width="0.25">-0.4</text>
<line x1="227.05" y1="448.50" x2="227.05" y2="451.40" stroke="#444" stroke-width="1"/>
<text x="227.05" y="463.30" font-size="9.3" text-anchor="middle" fill="#1c1c1c" stroke="#1c1c1c" stroke-width="0.25">-10</text>
<line x1="252.62" y1="448.50" x2="252.62" y2="451.40" stroke="#444" stroke-width="1"/>
<text x="252.62" y="463.30" font-size="9.3" text-anchor="middle" fill="#1c1c1c" stroke="#1c1c1c" stroke-width="0.25">-5</text>
<line x1="278.20" y1="448.50" x2="278.20" y2="451.40" stroke="#444" stroke-width="1"/>
<text x="278.20" y="463.30" font-size="9.3" text-anchor="middle" fill="#1c1c1c" stroke="#1c1c1c" stroke-width="0.25">0</text>
<line x1="303.77" y1="448.50" x2="303.77" y2="451.40" stroke="#444" stroke-width="1"/>
<text x="303.77" y="463.30" font-size="9.3" text-anchor="middle" fill="#1c1c1c" stroke="#1c1c1c" stroke-width="0.25">5</text>
<line x1="329.35" y1="448.50" x2="329.35" y2="451.40" stroke="#444" stroke-width="1"/>
<text x="329.35" y="463.30" font-size="9.3" text-anchor="middle" fill="#1c1c1c" stroke="#1c1c1c" stroke-width="0.25">10</text>
<text x="277.90" y="478.70" font-size="9.85" text-anchor="middle" fill="#1c1c1c" stroke="#1c1c1c" stroke-width="0.25">Δ Expression (log<tspan font-size="7" dy="2.2">2</tspan><tspan dy="-2.2"> RPKM)</tspan></text>
<text x="277.90" y="490.60" font-size="9.85" text-anchor="middle" fill="#1c1c1c" stroke="#1c1c1c" stroke-width="0.25">MES - METS</text>
<text x="224.40" y="507.00" font-size="9.55" fill="#8c8c8c" stroke="#8c8c8c" stroke-width="0.25"><tspan font-style="italic">r</tspan> = -0.08; <tspan font-style="italic">P</tspan> &lt; 0.0001</text>
<text x="224.40" y="518.60" font-size="9.55" fill="#2a4c88" stroke="#2a4c88" stroke-width="0.25"><tspan font-style="italic">r</tspan> = -0.26; <tspan font-style="italic">P</tspan> &lt; 0.0001</text>
<text x="224.40" y="530.20" font-size="9.55" fill="#c42a36" stroke="#c42a36" stroke-width="0.25"><tspan font-style="italic">r</tspan> = -0.36; <tspan font-style="italic">P</tspan> &lt; 0.0001</text>
<text x="189.30" y="397.90" font-size="9.75" text-anchor="middle" fill="#1c1c1c" stroke="#1c1c1c" stroke-width="0.25" transform="rotate(-90 189.30 397.90)">Δ Methylation (β)</text>
<text x="200.80" y="396.60" font-size="9.6" text-anchor="middle" fill="#1c1c1c" stroke="#1c1c1c" stroke-width="0.25" transform="rotate(-90 200.80 396.60)">MES - METS</text>
<line x1="464.00" y1="334.60" x2="464.00" y2="448.50" stroke="#3c3c3c" stroke-width="1.05"/>
<line x1="412.40" y1="391.20" x2="514.70" y2="391.20" stroke="#3c3c3c" stroke-width="1.05"/>
<path d="M457.6 388.6h1.5M468.5 393.2h1.5M458.0 390.3h1.5M463.4 392.7h1.5M464.4 396.5h1.5M459.7 383.8h1.5M468.8 393.4h1.5M466.5 389.1h1.5M461.7 387.9h1.5M464.3 390.4h1.5M469.8 391.5h1.5M458.9 388.1h1.5M470.9 396.5h1.5M465.3 395.1h1.5M453.8 393.7h1.5M459.0 393.7h1.5M461.8 393.8h1.5M460.0 393.0h1.5M471.5 390.6h1.5M453.0 396.1h1.5M461.7 389.9h1.5M452.0 392.3h1.5M461.2 388.9h1.5M455.6 388.5h1.5M465.7 385.6h1.5M460.2 393.5h1.5M467.7 392.1h1.5M466.6 390.6h1.5M464.0 390.2h1.5M454.3 393.8h1.5M471.0 394.9h1.5M465.3 391.0h1.5M461.0 390.7h1.5M472.7 388.9h1.5M462.3 392.5h1.5M458.5 393.1h1.5M473.1 388.9h1.5M459.5 392.3h1.5M460.7 392.0h1.5M465.9 387.5h1.5M460.7 390.4h1.5M455.3 392.9h1.5M470.9 393.2h1.5M458.8 390.3h1.5M476.0 394.9h1.5M466.9 387.9h1.5M466.3 391.4h1.5M456.8 393.1h1.5M473.3 382.6h1.5M465.7 395.2h1.5M473.9 390.6h1.5M464.4 390.5h1.5M464.2 392.0h1.5M463.5 392.6h1.5M453.3 395.9h1.5M446.2 397.9h1.5M458.5 393.4h1.5M453.4 386.8h1.5M459.0 390.8h1.5M448.1 389.3h1.5M462.5 392.7h1.5M459.4 390.9h1.5M461.3 391.4h1.5M464.1 385.6h1.5M456.1 393.9h1.5M460.1 394.5h1.5M457.7 392.6h1.5M465.4 390.2h1.5M453.6 393.3h1.5M452.6 388.6h1.5M464.0 393.8h1.5M465.7 392.8h1.5M454.4 392.0h1.5M457.0 396.1h1.5M451.3 392.7h1.5M466.5 391.2h1.5M465.5 389.9h1.5M458.0 395.0h1.5M466.6 390.1h1.5M466.1 390.6h1.5M453.7 389.3h1.5M466.7 392.2h1.5M459.8 392.3h1.5M463.8 389.1h1.5M467.2 387.1h1.5M470.6 396.0h1.5M457.0 392.4h1.5M461.3 392.3h1.5M463.5 400.9h1.5M456.6 391.1h1.5M457.2 386.4h1.5M471.9 392.1h1.5M472.7 392.8h1.5M455.2 388.6h1.5M459.2 391.2h1.5M472.0 391.5h1.5M465.9 388.1h1.5M474.1 391.5h1.5M456.4 398.0h1.5M460.1 392.1h1.5M458.5 395.6h1.5M451.0 392.0h1.5M453.7 392.8h1.5M477.7 395.9h1.5M463.3 392.7h1.5M476.1 385.0h1.5M460.2 389.0h1.5M461.1 392.0h1.5M469.0 389.2h1.5M464.1 390.7h1.5M463.0 394.4h1.5M471.3 392.8h1.5M458.3 393.7h1.5M459.0 388.3h1.5M463.9 389.2h1.5M471.2 392.5h1.5M474.2 395.3h1.5M461.1 390.1h1.5M466.2 393.6h1.5M468.6 391.9h1.5M465.3 388.8h1.5M481.6 399.0h1.5M469.6 387.3h1.5M459.0 393.4h1.5M464.1 390.3h1.5M461.5 390.6h1.5M456.7 391.3h1.5M461.2 389.6h1.5M459.0 391.5h1.5M471.8 393.4h1.5M450.9 391.2h1.5M455.6 395.0h1.5M450.7 391.3h1.5M466.4 390.9h1.5M466.9 387.5h1.5M463.0 390.6h1.5M473.8 395.4h1.5M457.9 389.4h1.5M456.9 392.8h1.5M466.1 388.6h1.5M469.4 390.1h1.5M457.4 393.1h1.5M467.5 394.7h1.5M466.3 391.0h1.5M443.8 394.8h1.5M463.0 386.3h1.5M456.1 396.4h1.5M467.2 387.5h1.5M456.3 392.0h1.5M454.4 386.2h1.5M473.7 394.3h1.5M464.6 389.5h1.5M457.0 396.8h1.5M459.4 390.1h1.5M470.3 387.4h1.5M462.1 390.1h1.5M461.8 388.2h1.5M479.6 395.5h1.5M472.0 392.0h1.5M469.1 388.8h1.5M464.2 393.5h1.5M465.8 389.7h1.5M460.0 386.7h1.5M470.8 394.3h1.5M467.0 394.5h1.5M464.0 392.8h1.5M458.6 393.0h1.5M462.5 390.1h1.5M466.4 390.4h1.5M456.0 385.2h1.5M471.1 391.9h1.5M463.8 392.3h1.5M461.2 394.1h1.5M466.8 393.7h1.5M466.6 388.5h1.5M464.3 397.0h1.5M465.0 390.5h1.5M460.7 392.5h1.5M467.2 396.8h1.5M458.7 392.8h1.5M467.5 397.4h1.5M460.3 393.3h1.5M465.0 388.6h1.5M466.8 393.8h1.5M465.7 395.0h1.5M471.1 391.7h1.5M466.2 392.5h1.5M473.8 388.5h1.5M460.7 390.4h1.5M470.6 385.5h1.5M468.8 394.0h1.5M459.2 388.8h1.5M465.0 391.1h1.5M456.3 391.6h1.5M474.1 392.2h1.5M454.6 385.3h1.5M458.4 392.7h1.5M462.3 385.9h1.5M465.3 393.7h1.5M461.0 397.2h1.5M463.7 390.3h1.5M464.5 390.6h1.5M463.6 386.7h1.5M468.2 390.4h1.5M459.1 393.9h1.5M456.2 394.5h1.5M450.1 388.9h1.5M456.3 388.4h1.5M455.7 392.3h1.5M469.2 387.8h1.5M475.8 390.5h1.5M470.2 389.7h1.5M465.8 398.4h1.5M463.3 394.9h1.5M463.9 394.5h1.5M449.8 393.0h1.5M449.9 388.5h1.5M469.7 392.2h1.5M461.6 393.3h1.5M458.9 387.4h1.5M464.1 386.6h1.5M458.3 390.2h1.5M467.3 387.4h1.5M452.2 395.2h1.5M461.6 385.8h1.5M468.0 385.4h1.5M453.1 388.9h1.5M472.1 389.8h1.5M465.9 392.6h1.5M464.4 398.5h1.5M461.1 391.2h1.5M444.7 391.1h1.5M477.5 388.0h1.5M470.1 392.9h1.5M467.6 385.9h1.5M459.4 390.1h1.5M469.8 392.3h1.5M459.1 396.3h1.5M467.6 391.9h1.5M459.0 392.6h1.5M452.8 395.5h1.5M456.1 394.4h1.5M456.3 397.7h1.5M458.8 392.4h1.5M455.1 394.4h1.5M452.8 394.6h1.5M475.9 391.1h1.5M476.3 383.4h1.5M457.2 392.4h1.5M463.7 392.5h1.5M460.8 396.9h1.5M467.2 391.0h1.5M469.7 393.5h1.5M474.9 389.3h1.5M470.1 387.0h1.5M446.6 392.1h1.5M462.5 387.0h1.5M455.1 392.5h1.5M464.1 391.0h1.5M466.1 388.9h1.5M470.1 389.1h1.5M462.0 390.3h1.5M460.6 387.7h1.5M464.2 389.8h1.5M453.4 395.1h1.5M467.6 391.7h1.5M457.6 385.9h1.5M469.1 394.9h1.5M464.0 392.4h1.5M469.2 393.2h1.5M465.4 387.6h1.5M464.3 391.1h1.5M469.4 396.4h1.5M458.2 387.7h1.5M466.6 396.1h1.5M461.9 388.8h1.5M454.2 386.4h1.5M456.1 389.6h1.5M461.0 389.4h1.5M468.5 394.3h1.5M442.7 391.4h1.5M455.4 389.1h1.5M465.9 395.3h1.5M470.4 390.0h1.5M463.2 390.9h1.5M458.4 394.6h1.5M459.7 389.2h1.5M453.7 392.7h1.5M467.6 393.0h1.5M474.9 394.0h1.5M468.6 392.4h1.5M467.6 390.4h1.5M470.5 393.8h1.5M447.7 395.2h1.5M462.3 393.6h1.5M460.6 392.4h1.5M463.3 393.1h1.5M475.8 390.1h1.5M453.5 389.2h1.5M463.0 386.5h1.5M461.9 404.7h1.5M465.8 390.6h1.5M462.6 386.6h1.5M463.5 386.9h1.5M463.1 398.8h1.5M464.9 380.2h1.5M463.9 392.9h1.5M463.4 391.6h1.5M462.0 395.5h1.5M460.1 392.2h1.5M464.8 402.6h1.5M462.1 381.4h1.5M463.8 386.5h1.5M459.9 382.6h1.5M461.5 393.1h1.5M465.1 391.2h1.5M465.2 401.1h1.5M465.6 408.9h1.5M465.1 385.8h1.5M463.1 391.1h1.5M461.3 397.8h1.5M462.3 388.3h1.5M464.0 388.6h1.5M464.6 386.8h1.5M465.6 389.5h1.5M462.0 395.8h1.5M465.0 384.6h1.5M463.8 396.9h1.5M460.8 401.7h1.5M465.8 372.7h1.5M462.8 394.6h1.5M461.6 388.4h1.5M462.4 394.7h1.5M465.3 385.7h1.5M465.5 407.1h1.5M463.9 390.9h1.5M465.9 394.5h1.5M465.5 395.4h1.5M460.8 388.8h1.5M461.0 378.4h1.5M458.5 391.7h1.5M462.7 377.4h1.5M463.6 396.7h1.5M463.7 389.7h1.5M463.7 385.4h1.5M465.2 387.6h1.5M459.6 381.6h1.5M466.1 386.7h1.5M462.9 378.6h1.5M461.1 394.1h1.5M461.7 388.9h1.5M464.2 392.5h1.5M463.2 395.6h1.5M464.3 405.7h1.5M461.4 379.6h1.5M463.3 390.8h1.5M463.4 397.8h1.5M464.9 390.2h1.5M462.4 392.2h1.5M465.0 386.2h1.5M461.3 391.9h1.5M459.0 391.8h1.5M462.8 387.1h1.5M466.5 394.4h1.5M461.0 385.9h1.5M462.6 404.3h1.5M462.8 393.1h1.5M464.1 388.4h1.5M461.7 397.4h1.5M462.2 396.0h1.5M463.6 373.5h1.5M461.1 402.9h1.5M462.7 392.4h1.5M461.2 374.2h1.5M462.9 393.9h1.5M465.0 390.5h1.5M462.4 402.7h1.5M466.2 420.8h1.5M463.1 388.2h1.5M460.8 389.3h1.5M460.8 402.4h1.5M461.4 396.7h1.5M466.2 394.1h1.5M462.0 407.0h1.5M465.0 407.5h1.5M466.5 390.4h1.5M463.6 388.1h1.5M465.6 394.9h1.5M462.7 386.0h1.5M461.0 387.5h1.5M460.8 391.6h1.5M462.1 397.2h1.5M463.4 393.2h1.5M461.7 388.9h1.5M460.8 390.6h1.5M464.7 378.7h1.5M461.1 390.2h1.5M460.6 398.0h1.5M463.0 392.1h1.5M462.8 385.1h1.5M458.4 390.5h1.5M467.1 391.5h1.5M453.4 392.0h1.5M471.6 389.1h1.5M466.1 391.5h1.5M458.2 387.4h1.5M469.7 389.1h1.5M449.0 390.6h1.5M464.9 388.7h1.5M455.8 389.5h1.5M457.0 391.3h1.5M479.3 390.8h1.5M449.1 389.7h1.5M456.9 391.4h1.5M456.5 392.4h1.5M464.9 388.7h1.5M466.8 392.0h1.5M465.9 390.6h1.5M471.5 391.0h1.5M449.9 390.8h1.5M445.6 391.3h1.5M463.5 389.6h1.5M472.8 392.4h1.5M459.7 391.7h1.5M468.6 391.3h1.5M460.4 392.6h1.5M465.1 392.7h1.5M456.0 392.4h1.5M452.6 393.9h1.5M469.5 389.2h1.5M458.0 393.7h1.5M463.3 394.5h1.5M468.0 390.1h1.5M469.7 390.2h1.5M473.9 391.5h1.5M461.1 393.1h1.5M450.4 390.0h1.5M472.8 391.8h1.5M442.1 390.4h1.5M474.1 388.9h1.5M468.6 392.0h1.5M472.8 390.1h1.5M463.8 391.5h1.5M479.4 392.4h1.5M451.0 393.7h1.5M446.6 390.8h1.5M464.5 391.3h1.5M451.9 391.2h1.5M458.8 389.9h1.5M475.2 391.1h1.5M477.7 392.1h1.5M454.2 392.4h1.5M466.2 391.3h1.5M482.1 393.0h1.5M454.8 389.4h1.5M469.0 393.0h1.5M452.3 391.5h1.5M461.1 390.5h1.5M470.8 390.0h1.5M472.2 394.3h1.5M458.4 390.7h1.5M461.9 393.9h1.5M449.9 390.7h1.5M464.1 391.5h1.5M470.8 390.6h1.5M463.6 389.4h1.5M468.1 390.8h1.5M460.5 392.9h1.5M470.8 390.5h1.5M460.8 392.7h1.5M477.9 393.1h1.5M476.7 389.9h1.5M457.3 391.2h1.5M442.2 389.8h1.5M459.5 392.2h1.5M470.5 389.6h1.5M452.3 388.4h1.5M460.0 392.3h1.5M461.8 389.1h1.5M468.8 390.6h1.5M498.3 389.7h1.5M479.9 392.4h1.5M502.6 391.6h1.5M488.3 392.1h1.5M495.5 390.1h1.5M509.2 390.0h1.5M486.6 392.5h1.5M499.7 390.8h1.5M483.5 392.2h1.5M490.6 392.1h1.5M503.8 392.7h1.5M495.0 391.4h1.5M503.7 389.9h1.5M509.9 390.6h1.5M494.5 389.8h1.5M491.9 391.9h1.5M505.2 390.6h1.5M510.3 390.2h1.5M481.4 389.8h1.5M495.8 390.8h1.5M487.6 391.5h1.5M483.6 391.6h1.5M489.2 391.3h1.5M490.3 389.9h1.5M493.9 389.9h1.5M485.2 391.4h1.5M495.7 391.5h1.5M485.0 390.2h1.5M504.8 392.2h1.5M484.1 391.2h1.5M438.3 390.5h1.5M445.9 392.3h1.5M434.9 390.9h1.5M434.7 390.7h1.5M448.0 392.4h1.5M448.2 391.1h1.5M442.2 389.9h1.5M438.4 392.3h1.5M427.7 390.7h1.5M432.6 392.5h1.5M429.7 392.0h1.5M434.6 391.6h1.5M448.0 391.3h1.5M437.0 391.9h1.5M441.3 390.5h1.5M436.8 392.4h1.5M434.7 392.6h1.5M442.9 390.9h1.5M434.4 390.3h1.5M434.3 391.8h1.5M430.0 391.0h1.5M428.2 392.6h1.5M447.9 389.9h1.5M429.7 392.7h1.5M428.6 392.1h1.5M441.3 391.2h1.5M442.0 390.4h1.5M440.5 389.8h1.5M435.2 390.7h1.5M435.5 390.1h1.5M462.4 383.8h1.5M461.7 414.6h1.5M463.0 404.8h1.5M462.6 393.6h1.5M463.2 377.1h1.5M461.6 389.5h1.5M461.3 390.3h1.5M465.2 404.1h1.5M464.7 377.9h1.5M464.0 402.7h1.5M462.4 403.0h1.5M462.3 395.5h1.5M461.3 404.6h1.5M463.2 384.0h1.5M464.0 410.9h1.5M461.6 406.2h1.5M463.6 395.9h1.5M464.0 376.9h1.5M463.8 403.3h1.5M463.2 388.8h1.5M463.4 383.3h1.5M462.2 386.2h1.5M461.8 414.2h1.5M462.0 414.6h1.5M461.6 410.2h1.5M463.5 419.7h1.5M461.9 406.9h1.5M461.4 384.7h1.5M464.8 378.0h1.5M464.0 392.9h1.5M461.4 418.1h1.5M464.8 378.0h1.5M462.2 418.0h1.5M463.6 406.1h1.5M462.1 389.6h1.5M462.4 389.9h1.5M462.2 390.7h1.5M463.8 399.2h1.5M461.4 416.2h1.5M465.1 415.5h1.5M463.8 383.8h1.5M461.5 417.8h1.5M461.6 409.8h1.5M463.2 394.7h1.5M461.9 404.2h1.5M463.9 416.8h1.5M463.3 414.8h1.5M461.8 412.3h1.5M464.4 386.2h1.5M462.0 383.8h1.5M464.2 380.2h1.5M461.4 402.0h1.5M465.2 379.9h1.5M461.8 418.8h1.5M462.5 377.9h1.5M465.1 407.2h1.5M461.8 397.2h1.5M464.1 414.6h1.5M464.1 419.7h1.5M464.7 386.3h1.5M463.8 385.1h1.5M464.3 414.8h1.5M463.5 405.9h1.5M463.9 412.3h1.5M464.4 377.3h1.5M463.5 400.2h1.5M463.7 377.8h1.5M464.0 405.3h1.5M465.1 380.0h1.5M465.0 388.1h1.5M463.5 393.7h1.5M461.5 385.9h1.5M465.2 395.7h1.5M462.6 397.3h1.5M462.8 414.0h1.5M461.4 401.5h1.5M464.7 417.4h1.5M462.1 403.6h1.5M464.0 381.4h1.5M462.9 395.8h1.5M463.5 399.4h1.5M464.2 391.0h1.5M464.1 376.9h1.5M463.0 377.9h1.5M463.8 395.5h1.5M462.1 407.6h1.5M463.1 380.4h1.5M465.0 399.5h1.5M462.4 406.8h1.5M462.5 380.2h1.5M461.5 387.2h1.5M463.9 405.5h1.5M464.6 419.6h1.5M464.8 378.7h1.5M464.4 385.1h1.5M461.4 408.3h1.5M461.5 415.3h1.5M462.7 388.4h1.5M461.6 416.2h1.5M464.8 391.3h1.5M462.4 393.5h1.5M461.9 411.9h1.5M465.2 394.9h1.5M463.0 380.3h1.5M462.6 406.9h1.5M464.0 377.4h1.5M464.2 380.9h1.5M462.0 378.8h1.5M464.0 418.4h1.5M462.7 408.2h1.5M464.0 390.2h1.5M462.7 416.3h1.5M461.9 393.6h1.5M461.7 378.9h1.5M462.7 395.4h1.5M465.0 398.1h1.5M464.8 418.1h1.5M463.1 380.2h1.5M465.1 416.1h1.5M463.0 404.5h1.5M462.6 415.4h1.5M464.0 399.5h1.5M465.0 403.8h1.5M461.8 387.6h1.5M464.6 396.2h1.5M464.3 382.0h1.5M465.0 394.2h1.5M462.7 419.8h1.5M463.6 379.2h1.5M462.9 395.8h1.5M463.8 403.0h1.5M463.6 383.9h1.5M464.9 404.3h1.5M464.2 409.8h1.5M463.0 377.9h1.5M464.8 388.0h1.5M462.8 378.3h1.5M465.0 396.2h1.5M464.7 388.2h1.5M463.2 394.9h1.5M464.2 405.5h1.5M463.3 394.2h1.5M465.2 404.0h1.5M463.2 416.5h1.5M463.1 401.3h1.5M463.0 395.9h1.5M463.3 382.9h1.5M464.6 390.5h1.5M463.7 407.5h1.5M461.8 409.7h1.5M476.8 392.0h1.5M473.6 390.9h1.5M455.2 390.7h1.5M453.5 391.8h1.5M475.3 393.1h1.5M466.9 392.9h1.5M470.7 390.1h1.5M450.0 390.2h1.5M477.5 391.3h1.5M473.2 389.7h1.5M464.9 389.5h1.5M452.9 389.9h1.5M459.6 392.9h1.5M448.0 391.2h1.5M453.3 389.4h1.5M462.8 390.0h1.5M460.1 389.5h1.5M454.7 390.8h1.5M450.8 392.0h1.5M470.3 390.4h1.5M472.5 391.0h1.5M447.4 389.6h1.5M457.7 392.0h1.5M479.0 392.8h1.5M475.9 389.5h1.5M472.6 390.8h1.5M450.3 392.2h1.5M451.0 389.5h1.5M472.1 391.8h1.5M456.9 390.8h1.5M465.5 392.5h1.5M467.6 389.5h1.5M479.1 392.1h1.5M473.6 391.4h1.5M450.5 392.5h1.5M446.3 391.4h1.5M452.6 390.3h1.5M459.6 390.6h1.5M479.2 391.7h1.5M480.2 392.2h1.5M449.0 392.0h1.5M473.1 390.9h1.5M448.3 392.6h1.5M463.8 391.4h1.5M474.4 391.1h1.5M459.4 391.3h1.5M460.4 391.5h1.5M453.7 390.3h1.5M473.3 391.4h1.5M451.3 389.9h1.5M449.7 389.5h1.5M471.7 392.6h1.5M474.4 389.8h1.5M474.4 392.2h1.5M466.6 391.6h1.5M458.0 392.9h1.5M472.9 392.8h1.5M475.6 392.8h1.5M477.6 392.6h1.5M463.8 392.0h1.5M470.0 390.4h1.5M450.3 391.7h1.5M466.4 391.5h1.5M464.2 391.6h1.5M466.2 389.6h1.5M478.6 389.4h1.5M460.3 390.6h1.5M451.9 391.9h1.5M473.3 392.3h1.5M475.6 392.0h1.5M450.4 390.9h1.5M446.5 389.3h1.5M471.1 391.8h1.5M464.6 392.0h1.5M473.5 391.5h1.5M469.3 389.7h1.5M470.0 389.5h1.5M458.1 391.4h1.5M465.5 389.9h1.5M475.2 391.2h1.5M448.5 389.9h1.5M467.5 392.3h1.5M478.2 391.9h1.5M451.5 389.7h1.5M480.1 390.9h1.5M472.4 391.1h1.5M447.4 390.1h1.5M470.6 389.6h1.5M472.9 390.4h1.5M464.0 390.6h1.5M461.5 392.4h1.5M460.0 392.2h1.5M462.4 391.2h1.5M448.5 391.5h1.5M454.7 390.3h1.5M469.3 391.5h1.5M471.2 393.0h1.5M477.3 391.5h1.5M448.0 392.1h1.5M459.0 389.7h1.5M455.8 391.7h1.5M447.3 389.6h1.5M455.3 389.9h1.5M474.2 389.9h1.5M450.8 393.0h1.5M451.4 391.4h1.5M453.2 390.7h1.5M477.9 392.3h1.5M468.2 389.5h1.5M456.0 389.7h1.5M461.6 392.0h1.5M447.5 392.3h1.5M468.6 390.5h1.5M456.1 392.4h1.5M460.4 390.4h1.5M452.2 389.4h1.5M475.4 392.5h1.5M452.2 391.0h1.5M460.9 392.8h1.5M446.9 389.5h1.5" stroke="#d8d8d8" stroke-width="1.5" fill="none"/>
<path d="M456.5 401.4h1.5M455.7 399.2h1.5M451.4 397.8h1.5M459.3 399.2h1.5M458.6 400.1h1.5M459.1 400.0h1.5M458.4 397.3h1.5M458.6 401.3h1.5M456.5 400.1h1.5M449.9 400.8h1.5M456.2 397.6h1.5M456.2 397.2h1.5M449.0 399.6h1.5M448.2 401.2h1.5M453.1 400.8h1.5M454.3 401.6h1.5M448.1 398.4h1.5M459.9 398.2h1.5M455.5 398.3h1.5M459.9 399.3h1.5M459.4 398.7h1.5M459.2 399.3h1.5M449.7 401.2h1.5M452.2 400.7h1.5M457.6 398.3h1.5M454.2 399.5h1.5M453.8 397.1h1.5M448.8 400.4h1.5M458.4 399.9h1.5M451.6 401.3h1.5M449.0 398.1h1.5M450.0 398.6h1.5M449.2 401.3h1.5M456.5 401.6h1.5M458.7 397.5h1.5M454.4 398.2h1.5M455.8 398.1h1.5M456.6 401.1h1.5M451.9 398.3h1.5M456.2 400.2h1.5M460.5 400.9h1.5M454.8 400.9h1.5M453.9 398.9h1.5M450.9 400.0h1.5M452.8 401.4h1.5M451.9 397.6h1.5M454.2 400.7h1.5M454.0 398.3h1.5M452.3 397.4h1.5M459.3 401.6h1.5M452.8 400.0h1.5M448.0 398.1h1.5M449.2 399.7h1.5M449.0 397.1h1.5M451.8 400.4h1.5M452.6 397.0h1.5M456.8 401.8h1.5M452.3 401.2h1.5M450.3 397.0h1.5M448.4 397.3h1.5M457.8 398.6h1.5M450.6 399.9h1.5M449.6 398.9h1.5M457.3 398.9h1.5M449.4 397.1h1.5M452.8 399.2h1.5M450.5 399.9h1.5M458.6 401.6h1.5M455.1 397.3h1.5M459.5 399.0h1.5M451.7 399.4h1.5M457.6 399.5h1.5M459.0 400.3h1.5M449.9 398.4h1.5M453.6 398.5h1.5M459.1 398.2h1.5M451.6 401.4h1.5M452.4 399.7h1.5M452.8 397.6h1.5M457.0 397.0h1.5M458.5 401.2h1.5M454.3 400.3h1.5M448.7 401.6h1.5M456.6 398.5h1.5M458.3 398.4h1.5M453.6 400.7h1.5M460.6 400.5h1.5M452.1 397.3h1.5M458.0 397.6h1.5M449.7 401.3h1.5M448.9 400.6h1.5M455.4 401.5h1.5M459.6 397.6h1.5M450.2 399.2h1.5M453.4 398.1h1.5M460.0 403.9h1.5M459.6 403.2h1.5M456.8 406.0h1.5M458.5 402.5h1.5M457.5 405.3h1.5M455.8 403.6h1.5M459.2 403.4h1.5M458.0 403.1h1.5M455.8 405.9h1.5M456.5 401.8h1.5M456.5 404.3h1.5M456.4 405.4h1.5M458.3 403.8h1.5M459.7 405.8h1.5M455.9 405.7h1.5M457.8 404.8h1.5M459.5 405.4h1.5M458.0 405.7h1.5M457.6 405.0h1.5M459.6 404.9h1.5M454.9 402.8h1.5M457.0 402.5h1.5M454.3 403.9h1.5M459.6 405.0h1.5M458.9 405.0h1.5M456.3 405.0h1.5M456.7 402.1h1.5M456.6 405.3h1.5M460.3 405.2h1.5M455.9 405.1h1.5M470.2 402.0h1.5M471.7 400.0h1.5M469.7 399.2h1.5M467.8 409.3h1.5M467.0 402.1h1.5M469.6 399.5h1.5M466.8 397.8h1.5M466.4 408.9h1.5M466.8 402.6h1.5M471.1 407.7h1.5M466.0 408.6h1.5M466.5 399.0h1.5M472.8 405.4h1.5M467.4 403.2h1.5M468.5 402.6h1.5M468.2 403.9h1.5M472.5 398.1h1.5M466.8 400.2h1.5M470.2 404.7h1.5M466.9 404.2h1.5M466.8 397.7h1.5M467.3 397.6h1.5M470.0 402.5h1.5M469.2 398.7h1.5M468.2 405.6h1.5M469.4 404.8h1.5M468.8 399.8h1.5M469.3 399.9h1.5M469.7 406.4h1.5M471.3 407.3h1.5M467.9 402.9h1.5M468.9 409.0h1.5M472.1 406.7h1.5M468.3 405.4h1.5M472.3 397.5h1.5M467.7 400.5h1.5M465.9 397.6h1.5M473.6 404.9h1.5M472.3 407.4h1.5M466.2 397.2h1.5M466.6 406.3h1.5M467.0 396.8h1.5M469.4 401.5h1.5M471.2 406.0h1.5M470.5 398.3h1.5M471.9 403.8h1.5M473.2 399.0h1.5M470.3 404.5h1.5M466.7 404.4h1.5M467.9 401.6h1.5M470.3 403.4h1.5M469.2 407.1h1.5M473.4 397.5h1.5M473.7 401.1h1.5M467.4 408.1h1.5M473.7 399.9h1.5M473.7 402.6h1.5M469.2 404.8h1.5M470.5 400.7h1.5M469.8 404.2h1.5M465.9 406.1h1.5M467.3 403.4h1.5M468.6 403.7h1.5M471.6 409.7h1.5M473.4 404.6h1.5M473.6 401.3h1.5M465.9 405.4h1.5M467.3 397.3h1.5M471.1 407.2h1.5M471.1 400.6h1.5M449.2 385.2h1.5M449.5 386.8h1.5M453.1 383.9h1.5M449.3 378.8h1.5M448.4 384.0h1.5M446.7 382.4h1.5M449.9 383.3h1.5M446.9 385.3h1.5M449.7 380.4h1.5M447.2 385.4h1.5M451.5 379.5h1.5M450.2 382.9h1.5M446.1 379.0h1.5M447.2 381.3h1.5M452.2 385.4h1.5M452.7 382.1h1.5M446.8 381.6h1.5M446.1 382.4h1.5M455.8 378.5h1.5M458.5 379.0h1.5M457.3 380.5h1.5M456.6 380.7h1.5M459.7 380.9h1.5M455.7 386.2h1.5M455.6 383.1h1.5M457.6 376.9h1.5M458.6 376.0h1.5M458.3 385.7h1.5M460.1 383.5h1.5M459.8 384.6h1.5M458.2 385.8h1.5M459.3 376.8h1.5M459.8 376.9h1.5M456.8 376.3h1.5M469.7 384.0h1.5M467.2 382.0h1.5M470.1 386.8h1.5M466.1 386.5h1.5M465.9 385.5h1.5M470.0 384.6h1.5M488.2 400.0h1.5M493.2 402.0h1.5M438.2 398.0h1.5M436.2 399.0h1.5M460.2 416.0h1.5M469.2 418.0h1.5M481.2 398.0h1.5M451.2 382.0h1.5" stroke="#1a22d4" stroke-width="1.5" fill="none"/>
<path d="M476.1 402.3h1.45M470.9 407.3h1.45M472.4 403.1h1.45M476.0 406.0h1.45M470.9 405.7h1.45M471.0 401.2h1.45M468.9 405.1h1.45M474.0 408.1h1.45M476.3 403.9h1.45M468.4 406.7h1.45M474.3 406.8h1.45M470.9 403.2h1.45M470.1 406.9h1.45M468.9 405.6h1.45M472.2 399.8h1.45M467.9 401.6h1.45M470.1 401.7h1.45M469.9 406.4h1.45M471.3 404.6h1.45M468.8 399.6h1.45M476.2 406.8h1.45M472.5 399.7h1.45M469.6 402.9h1.45M470.4 402.8h1.45M467.8 403.1h1.45M473.5 401.7h1.45M472.8 406.0h1.45M472.6 408.1h1.45M470.7 403.0h1.45M474.2 404.8h1.45M477.2 412.6h1.45M482.3 414.8h1.45M474.5 404.9h1.45M476.2 409.3h1.45M482.8 400.2h1.45M486.8 412.5h1.45M480.6 415.2h1.45M474.9 400.8h1.45M482.9 423.9h1.45M480.6 409.5h1.45M476.0 407.8h1.45M470.1 418.2h1.45M477.4 409.8h1.45M478.3 406.1h1.45M474.2 408.0h1.45M484.1 418.5h1.45M477.4 420.8h1.45M484.6 410.9h1.45M479.9 411.3h1.45M480.3 414.3h1.45M487.1 418.0h1.45M482.9 417.0h1.45M448.7 359.0h1.45M448.3 375.7h1.45M452.4 378.3h1.45M459.3 374.9h1.45M443.2 383.8h1.45M445.6 373.0h1.45M452.5 385.2h1.45M458.2 371.2h1.45M445.9 384.7h1.45M457.5 373.1h1.45M459.5 371.3h1.45M445.0 382.9h1.45M453.4 370.0h1.45M447.7 382.3h1.45M444.9 362.3h1.45M449.6 365.9h1.45M447.4 377.8h1.45M448.8 384.6h1.45M449.1 376.9h1.45M455.6 365.8h1.45M452.7 365.7h1.45M449.8 384.2h1.45M454.8 406.3h1.45M459.2 408.5h1.45M460.5 403.3h1.45M455.6 410.4h1.45M458.3 406.5h1.45M460.3 409.1h1.45M455.4 407.5h1.45M458.3 411.8h1.45M458.7 407.9h1.45M459.9 412.7h1.45M442.3 340.5h1.45M440.3 359.0h1.45M433.3 378.0h1.45M431.3 377.0h1.45M480.3 441.0h1.45M486.3 434.0h1.45M489.3 425.0h1.45M436.3 366.0h1.45M491.3 412.0h1.45" stroke="#e0232e" stroke-width="1.45" fill="none"/>
<line x1="412.40" y1="334.60" x2="412.40" y2="449.00" stroke="#444" stroke-width="1.1"/>
<line x1="411.90" y1="448.50" x2="514.70" y2="448.50" stroke="#444" stroke-width="1.1"/>
<line x1="409.60" y1="345.80" x2="412.40" y2="345.80" stroke="#444" stroke-width="1"/>
<text x="408.00" y="349.10" font-size="9.3" text-anchor="end" fill="#1c1c1c" stroke="#1c1c1c" stroke-width="0.25">0.4</text>
<line x1="409.60" y1="368.50" x2="412.40" y2="368.50" stroke="#444" stroke-width="1"/>
<text x="408.00" y="371.80" font-size="9.3" text-anchor="end" fill="#1c1c1c" stroke="#1c1c1c" stroke-width="0.25">0.2</text>
<line x1="409.60" y1="391.20" x2="412.40" y2="391.20" stroke="#444" stroke-width="1"/>
<text x="408.00" y="394.50" font-size="9.3" text-anchor="end" fill="#1c1c1c" stroke="#1c1c1c" stroke-width="0.25">0.0</text>
<line x1="409.60" y1="413.90" x2="412.40" y2="413.90" stroke="#444" stroke-width="1"/>
<text x="408.00" y="417.20" font-size="9.3" text-anchor="end" fill="#1c1c1c" stroke="#1c1c1c" stroke-width="0.25">-0.2</text>
<line x1="409.60" y1="436.60" x2="412.40" y2="436.60" stroke="#444" stroke-width="1"/>
<text x="408.00" y="439.90" font-size="9.3" text-anchor="end" fill="#1c1c1c" stroke="#1c1c1c" stroke-width="0.25">-0.4</text>
<line x1="412.85" y1="448.50" x2="412.85" y2="451.40" stroke="#444" stroke-width="1"/>
<text x="412.85" y="463.30" font-size="9.3" text-anchor="middle" fill="#1c1c1c" stroke="#1c1c1c" stroke-width="0.25">-10</text>
<line x1="438.43" y1="448.50" x2="438.43" y2="451.40" stroke="#444" stroke-width="1"/>
<text x="438.43" y="463.30" font-size="9.3" text-anchor="middle" fill="#1c1c1c" stroke="#1c1c1c" stroke-width="0.25">-5</text>
<line x1="464.00" y1="448.50" x2="464.00" y2="451.40" stroke="#444" stroke-width="1"/>
<text x="464.00" y="463.30" font-size="9.3" text-anchor="middle" fill="#1c1c1c" stroke="#1c1c1c" stroke-width="0.25">0</text>
<line x1="489.57" y1="448.50" x2="489.57" y2="451.40" stroke="#444" stroke-width="1"/>
<text x="489.57" y="463.30" font-size="9.3" text-anchor="middle" fill="#1c1c1c" stroke="#1c1c1c" stroke-width="0.25">5</text>
<line x1="515.15" y1="448.50" x2="515.15" y2="451.40" stroke="#444" stroke-width="1"/>
<text x="515.15" y="463.30" font-size="9.3" text-anchor="middle" fill="#1c1c1c" stroke="#1c1c1c" stroke-width="0.25">10</text>
<text x="462.00" y="478.70" font-size="9.85" text-anchor="middle" fill="#1c1c1c" stroke="#1c1c1c" stroke-width="0.25">Δ Expression (log<tspan font-size="7" dy="2.2">2</tspan><tspan dy="-2.2"> RPKM)</tspan></text>
<text x="462.00" y="490.60" font-size="9.85" text-anchor="middle" fill="#1c1c1c" stroke="#1c1c1c" stroke-width="0.25">METS – DLD1</text>
<text x="411.60" y="507.00" font-size="9.15" fill="#8c8c8c" stroke="#8c8c8c" stroke-width="0.25"><tspan font-style="italic">r</tspan> = -0.16; <tspan font-style="italic">P</tspan> &lt; 0.0001</text>
<text x="411.60" y="518.60" font-size="9.15" fill="#2a4c88" stroke="#2a4c88" stroke-width="0.25"><tspan font-style="italic">r</tspan> = -0.51; <tspan font-style="italic">P</tspan> &lt; 0.0001</text>
<text x="411.60" y="530.20" font-size="9.15" fill="#c42a36" stroke="#c42a36" stroke-width="0.25"><tspan font-style="italic">r</tspan> = -0.66; <tspan font-style="italic">P</tspan> &lt; 0.0001</text>
<text x="369.30" y="394.60" font-size="9.75" text-anchor="middle" fill="#1c1c1c" stroke="#1c1c1c" stroke-width="0.25" transform="rotate(-90 369.30 394.60)">Δ Methylation (β)</text>
<text x="381.30" y="393.50" font-size="9.6" text-anchor="middle" fill="#1c1c1c" stroke="#1c1c1c" stroke-width="0.25" transform="rotate(-90 381.30 393.50)">METS – DLD1</text>
</svg>
</body></html>
